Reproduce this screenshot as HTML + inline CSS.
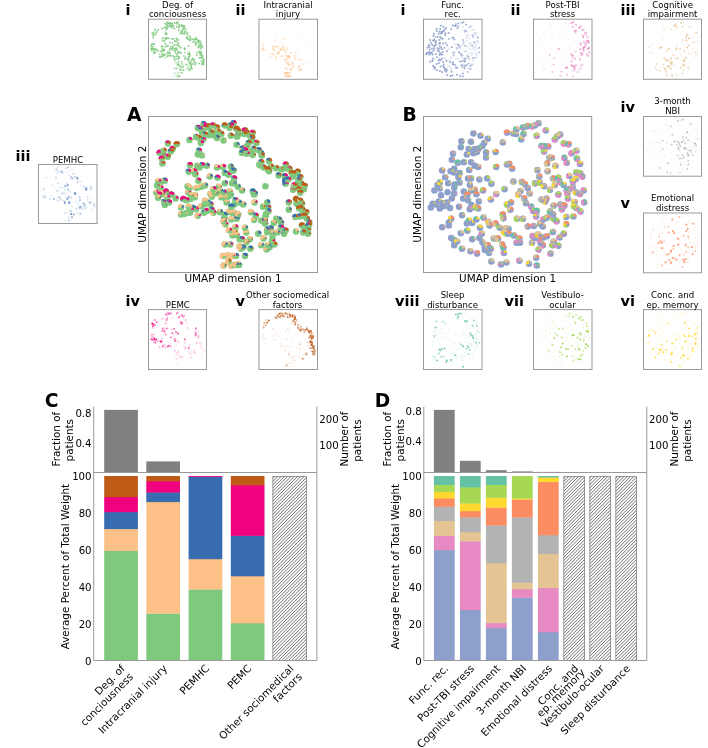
<!DOCTYPE html><html><head><meta charset="utf-8"><title>UMAP weights figure</title>
<style>html,body{margin:0;padding:0;background:#fff}svg{display:block}text{font-family:'DejaVu Sans','Liberation Sans',sans-serif;fill:#000}</style></head><body>
<svg width="708" height="748" viewBox="0 0 708 748">
<rect width="708" height="748" fill="#fff"/>
<rect x="148.5" y="116.5" width="169.0" height="156.0" fill="none" stroke="#999" stroke-width="1"/>
<g>
<circle cx="265.4" cy="216.4" r="3.25" fill="#7fc97f"/><path d="M265.4 216.4L268.66 216.41A3.25 3.25 0 0 0 268.32 214.96Z" fill="#bf5b17"/><path d="M265.4 216.4L268.32 214.96A3.25 3.25 0 0 0 263.64 213.68Z" fill="#f0027f"/><path d="M265.4 216.4L263.64 213.68A3.25 3.25 0 0 0 262.92 214.33Z" fill="#fdc086"/>
<circle cx="224.2" cy="218.8" r="3.25" fill="#7fc97f"/><path d="M224.2 218.8L227.48 218.81A3.25 3.25 0 0 0 227.35 217.90Z" fill="#bf5b17"/><path d="M224.2 218.8L227.35 217.90A3.25 3.25 0 0 0 221.15 217.78Z" fill="#386cb0"/>
<circle cx="197.8" cy="128" r="3.25" fill="#7fc97f"/><path d="M197.8 128L201.07 128.00A3.25 3.25 0 0 0 200.95 127.13Z" fill="#bf5b17"/><path d="M197.8 128L200.95 127.13A3.25 3.25 0 0 0 197.64 124.76Z" fill="#f0027f"/><path d="M197.8 128L197.64 124.76A3.25 3.25 0 0 0 195.60 125.63Z" fill="#386cb0"/><path d="M197.8 128L195.60 125.63A3.25 3.25 0 0 0 195.09 126.24Z" fill="#fdc086"/>
<circle cx="172.6" cy="149" r="3.25" fill="#7fc97f"/><path d="M172.6 149L175.86 149.01A3.25 3.25 0 0 0 173.79 145.98Z" fill="#bf5b17"/><path d="M172.6 149L173.79 145.98A3.25 3.25 0 0 0 169.65 147.67Z" fill="#f0027f"/><path d="M172.6 149L169.65 147.67A3.25 3.25 0 0 0 169.43 148.35Z" fill="#fdc086"/>
<circle cx="197.8" cy="215.8" r="3.25" fill="#7fc97f"/><path d="M197.8 215.8L201.07 215.81A3.25 3.25 0 0 0 200.20 213.60Z" fill="#f0027f"/><path d="M197.8 215.8L200.20 213.60A3.25 3.25 0 1 0 196.12 218.58Z" fill="#fdc086"/>
<circle cx="252.8" cy="155" r="3.25" fill="#7fc97f"/><path d="M252.8 155L256.06 155.02A3.25 3.25 0 0 0 251.91 151.89Z" fill="#bf5b17"/>
<circle cx="203.2" cy="139.4" r="3.25" fill="#7fc97f"/><path d="M203.2 139.4L206.47 139.41A3.25 3.25 0 0 0 206.42 138.85Z" fill="#bf5b17"/><path d="M203.2 139.4L206.42 138.85A3.25 3.25 0 0 0 202.17 136.33Z" fill="#f0027f"/><path d="M203.2 139.4L202.17 136.33A3.25 3.25 0 0 0 200.24 138.12Z" fill="#386cb0"/>
<circle cx="237" cy="136.8" r="3.25" fill="#7fc97f"/><path d="M237 136.8L240.24 136.83A3.25 3.25 0 0 0 238.40 133.90Z" fill="#bf5b17"/><path d="M237 136.8L238.40 133.90A3.25 3.25 0 0 0 234.26 135.07Z" fill="#f0027f"/>
<circle cx="217.1" cy="192.8" r="3.25" fill="#7fc97f"/><path d="M217.1 192.8L220.35 192.75A3.25 3.25 0 0 0 218.74 189.95Z" fill="#386cb0"/><path d="M217.1 192.8L218.74 189.95A3.25 3.25 0 0 0 213.91 192.13Z" fill="#fdc086"/>
<circle cx="220" cy="212.2" r="3.25" fill="#7fc97f"/><path d="M220 212.2L223.28 212.21A3.25 3.25 0 0 0 223.19 211.46Z" fill="#bf5b17"/><path d="M220 212.2L223.19 211.46A3.25 3.25 0 0 0 220.91 209.08Z" fill="#386cb0"/><path d="M220 212.2L220.91 209.08A3.25 3.25 0 0 0 217.08 210.85Z" fill="#fdc086"/>
<circle cx="225.4" cy="198.4" r="3.25" fill="#7fc97f"/><path d="M225.4 198.4L228.68 198.40A3.25 3.25 0 0 0 224.76 195.22Z" fill="#f0027f"/><path d="M225.4 198.4L224.76 195.22A3.25 3.25 0 0 0 222.22 197.93Z" fill="#fdc086"/>
<circle cx="227.8" cy="255.4" r="3.25" fill="#7fc97f"/><path d="M227.8 255.4L231.08 255.42A3.25 3.25 0 0 0 230.90 254.35Z" fill="#bf5b17"/><path d="M227.8 255.4L230.90 254.35A3.25 3.25 0 1 0 229.37 258.29Z" fill="#fdc086"/>
<circle cx="235.4" cy="227.2" r="3.25" fill="#7fc97f"/><path d="M235.4 227.2L238.65 227.21A3.25 3.25 0 0 0 238.56 226.46Z" fill="#bf5b17"/><path d="M235.4 227.2L238.56 226.46A3.25 3.25 0 0 0 235.73 223.98Z" fill="#f0027f"/><path d="M235.4 227.2L235.73 223.98A3.25 3.25 0 0 0 232.17 227.56Z" fill="#fdc086"/>
<circle cx="259.3" cy="164.4" r="3.25" fill="#7fc97f"/><path d="M259.3 164.4L262.51 164.39A3.25 3.25 0 0 0 260.66 161.46Z" fill="#bf5b17"/><path d="M259.3 164.4L260.66 161.46A3.25 3.25 0 0 0 257.75 161.51Z" fill="#386cb0"/><path d="M259.3 164.4L257.75 161.51A3.25 3.25 0 0 0 256.91 162.14Z" fill="#fdc086"/>
<circle cx="276.2" cy="168.2" r="3.25" fill="#7fc97f"/><path d="M276.2 168.2L279.47 168.22A3.25 3.25 0 0 0 276.26 164.97Z" fill="#bf5b17"/>
<circle cx="181" cy="214.6" r="3.25" fill="#7fc97f"/><path d="M181 214.6L184.26 214.61A3.25 3.25 0 0 0 184.22 214.10Z" fill="#bf5b17"/><path d="M181 214.6L184.22 214.10A3.25 3.25 0 0 0 181.32 211.37Z" fill="#f0027f"/><path d="M181 214.6L181.32 211.37A3.25 3.25 0 0 0 177.77 214.73Z" fill="#fdc086"/>
<circle cx="195.4" cy="174.2" r="3.25" fill="#7fc97f"/><path d="M195.4 174.2L198.67 174.22A3.25 3.25 0 0 0 198.56 173.40Z" fill="#bf5b17"/><path d="M195.4 174.2L198.56 173.40A3.25 3.25 0 0 0 194.91 171.01Z" fill="#f0027f"/><path d="M195.4 174.2L194.91 171.01A3.25 3.25 0 0 0 192.33 173.21Z" fill="#fdc086"/>
<circle cx="252.2" cy="151.4" r="3.25" fill="#7fc97f"/><path d="M252.2 151.4L255.46 151.41A3.25 3.25 0 0 0 253.08 148.28Z" fill="#bf5b17"/><path d="M252.2 151.4L253.08 148.28A3.25 3.25 0 0 0 252.45 148.17Z" fill="#f0027f"/><path d="M252.2 151.4L252.45 148.17A3.25 3.25 0 0 0 249.51 149.60Z" fill="#386cb0"/><path d="M252.2 151.4L249.51 149.60A3.25 3.25 0 0 0 249.13 150.38Z" fill="#fdc086"/>
<circle cx="196" cy="137" r="3.25" fill="#7fc97f"/><path d="M196 137L199.27 137.01A3.25 3.25 0 0 0 197.10 133.94Z" fill="#bf5b17"/><path d="M196 137L197.10 133.94A3.25 3.25 0 0 0 195.77 133.77Z" fill="#f0027f"/>
<circle cx="194.8" cy="195.2" r="3.25" fill="#7fc97f"/><path d="M194.8 195.2L198.07 195.23A3.25 3.25 0 0 0 197.77 193.87Z" fill="#bf5b17"/><path d="M194.8 195.2L197.77 193.87A3.25 3.25 0 0 0 197.52 193.42Z" fill="#f0027f"/><path d="M194.8 195.2L197.52 193.42A3.25 3.25 0 0 0 192.76 192.72Z" fill="#fdc086"/>
<circle cx="214.6" cy="135.8" r="3.25" fill="#7fc97f"/><path d="M214.6 135.8L217.88 135.81A3.25 3.25 0 0 0 214.07 132.61Z" fill="#386cb0"/>
<circle cx="221.2" cy="197.2" r="3.25" fill="#7fc97f"/><path d="M221.2 197.2L224.48 197.20A3.25 3.25 0 1 0 218.32 198.64Z" fill="#fdc086"/>
<circle cx="198.4" cy="180.8" r="3.25" fill="#7fc97f"/><path d="M198.4 180.8L201.67 180.83A3.25 3.25 0 0 0 201.47 179.70Z" fill="#bf5b17"/><path d="M198.4 180.8L201.47 179.70A3.25 3.25 0 0 0 197.22 177.81Z" fill="#f0027f"/><path d="M198.4 180.8L197.22 177.81A3.25 3.25 0 0 0 196.46 178.23Z" fill="#386cb0"/><path d="M198.4 180.8L196.46 178.23A3.25 3.25 0 0 0 196.01 178.64Z" fill="#fdc086"/>
<circle cx="289.4" cy="168.8" r="3.25" fill="#7fc97f"/><path d="M289.4 168.8L292.67 168.82A3.25 3.25 0 0 0 290.57 165.78Z" fill="#bf5b17"/><path d="M289.4 168.8L290.57 165.78A3.25 3.25 0 0 0 289.23 165.58Z" fill="#f0027f"/>
<circle cx="239.6" cy="239.2" r="3.25" fill="#7fc97f"/><path d="M239.6 239.2L242.85 239.22A3.25 3.25 0 0 0 240.96 236.27Z" fill="#386cb0"/>
<circle cx="231.4" cy="265.6" r="3.25" fill="#7fc97f"/><path d="M231.4 265.6L234.68 265.63A3.25 3.25 0 1 0 231.77 268.86Z" fill="#fdc086"/>
<circle cx="242" cy="190.4" r="3.25" fill="#7fc97f"/><path d="M242 190.4L245.25 190.43A3.25 3.25 0 0 0 245.09 189.41Z" fill="#bf5b17"/><path d="M242 190.4L245.09 189.41A3.25 3.25 0 0 0 244.27 188.10Z" fill="#386cb0"/><path d="M242 190.4L244.27 188.10A3.25 3.25 0 0 0 239.03 189.11Z" fill="#fdc086"/>
<circle cx="296.6" cy="203.8" r="3.25" fill="#7fc97f"/><path d="M296.6 203.8L299.88 203.80A3.25 3.25 0 0 0 299.51 202.30Z" fill="#f0027f"/><path d="M296.6 203.8L299.51 202.30A3.25 3.25 0 0 0 298.81 201.40Z" fill="#386cb0"/>
<circle cx="233.6" cy="170.6" r="3.25" fill="#7fc97f"/><path d="M233.6 170.6L236.85 170.62A3.25 3.25 0 0 0 236.61 169.40Z" fill="#bf5b17"/><path d="M233.6 170.6L236.61 169.40A3.25 3.25 0 0 0 232.01 167.78Z" fill="#386cb0"/>
<circle cx="288.8" cy="202.6" r="3.25" fill="#7fc97f"/><path d="M288.8 202.6L292.07 202.60A3.25 3.25 0 0 0 290.50 199.82Z" fill="#bf5b17"/><path d="M288.8 202.6L290.50 199.82A3.25 3.25 0 0 0 287.08 199.86Z" fill="#f0027f"/><path d="M288.8 202.6L287.08 199.86A3.25 3.25 0 0 0 285.60 202.19Z" fill="#386cb0"/><path d="M288.8 202.6L285.60 202.19A3.25 3.25 0 0 0 285.58 202.75Z" fill="#fdc086"/>
<circle cx="254" cy="194.6" r="3.25" fill="#7fc97f"/><path d="M254 194.6L257.26 194.63A3.25 3.25 0 0 0 251.92 192.14Z" fill="#f0027f"/><path d="M254 194.6L251.92 192.14A3.25 3.25 0 0 0 250.77 194.95Z" fill="#386cb0"/>
<circle cx="196" cy="209.2" r="3.25" fill="#7fc97f"/><path d="M196 209.2L199.27 209.21A3.25 3.25 0 0 0 196.85 206.06Z" fill="#f0027f"/><path d="M196 209.2L196.85 206.06A3.25 3.25 0 0 0 193.26 207.49Z" fill="#fdc086"/>
<circle cx="225.4" cy="224.2" r="3.25" fill="#7fc97f"/><path d="M225.4 224.2L228.68 224.21A3.25 3.25 0 0 0 228.61 223.53Z" fill="#bf5b17"/><path d="M225.4 224.2L228.61 223.53A3.25 3.25 0 0 0 226.65 221.20Z" fill="#f0027f"/><path d="M225.4 224.2L226.65 221.20A3.25 3.25 0 0 0 223.27 226.64Z" fill="#fdc086"/>
<circle cx="181" cy="207.4" r="3.25" fill="#7fc97f"/><path d="M181 207.4L184.26 207.41A3.25 3.25 0 0 0 182.70 204.63Z" fill="#386cb0"/><path d="M181 207.4L182.70 204.63A3.25 3.25 0 0 0 177.83 208.06Z" fill="#fdc086"/>
<circle cx="203.8" cy="212.8" r="3.25" fill="#7fc97f"/><path d="M203.8 212.8L207.07 212.81A3.25 3.25 0 0 0 203.91 209.56Z" fill="#f0027f"/><path d="M203.8 212.8L203.91 209.56A3.25 3.25 0 0 0 201.55 210.49Z" fill="#386cb0"/>
<circle cx="296" cy="199" r="3.25" fill="#7fc97f"/><path d="M296 199L299.28 199.00A3.25 3.25 0 1 0 293.13 200.48Z" fill="#bf5b17"/>
<circle cx="278.6" cy="175.4" r="3.25" fill="#7fc97f"/><path d="M278.6 175.4L281.87 175.42A3.25 3.25 0 0 0 279.77 172.38Z" fill="#bf5b17"/><path d="M278.6 175.4L279.77 172.38A3.25 3.25 0 0 0 275.83 173.76Z" fill="#386cb0"/>
<circle cx="281.6" cy="169.4" r="3.25" fill="#7fc97f"/><path d="M281.6 169.4L284.87 169.42A3.25 3.25 0 0 0 281.64 166.17Z" fill="#bf5b17"/>
<circle cx="223.6" cy="265.6" r="3.25" fill="#7fc97f"/><path d="M223.6 265.6L226.88 265.63A3.25 3.25 0 0 0 226.63 264.37Z" fill="#bf5b17"/><path d="M223.6 265.6L226.63 264.37A3.25 3.25 0 0 0 226.18 263.62Z" fill="#386cb0"/><path d="M223.6 265.6L226.18 263.62A3.25 3.25 0 1 0 224.98 268.58Z" fill="#fdc086"/>
<circle cx="223.6" cy="221.2" r="3.25" fill="#7fc97f"/><path d="M223.6 221.2L226.88 221.21A3.25 3.25 0 0 0 226.66 220.03Z" fill="#bf5b17"/><path d="M223.6 221.2L226.66 220.03A3.25 3.25 0 0 0 226.23 219.27Z" fill="#f0027f"/><path d="M223.6 221.2L226.23 219.27A3.25 3.25 0 1 0 221.23 223.41Z" fill="#fdc086"/>
<circle cx="238.4" cy="134.6" r="3.25" fill="#7fc97f"/><path d="M238.4 134.6L241.65 134.61A3.25 3.25 0 0 0 239.00 131.41Z" fill="#bf5b17"/><path d="M238.4 134.6L239.00 131.41A3.25 3.25 0 0 0 235.48 133.18Z" fill="#f0027f"/><path d="M238.4 134.6L235.48 133.18A3.25 3.25 0 0 0 235.31 133.61Z" fill="#386cb0"/>
<circle cx="293" cy="176.6" r="3.25" fill="#7fc97f"/><path d="M293 176.6L296.27 176.62A3.25 3.25 0 0 0 291.92 173.57Z" fill="#bf5b17"/><path d="M293 176.6L291.92 173.57A3.25 3.25 0 0 0 290.92 174.14Z" fill="#f0027f"/>
<circle cx="234.8" cy="232.6" r="3.25" fill="#7fc97f"/><path d="M234.8 232.6L238.05 232.62A3.25 3.25 0 0 0 236.80 230.06Z" fill="#bf5b17"/><path d="M234.8 232.6L236.80 230.06A3.25 3.25 0 0 0 231.62 233.28Z" fill="#fdc086"/>
<circle cx="226.6" cy="202.6" r="3.25" fill="#7fc97f"/><path d="M226.6 202.6L229.88 202.60A3.25 3.25 0 0 0 229.63 201.35Z" fill="#386cb0"/><path d="M226.6 202.6L229.63 201.35A3.25 3.25 0 0 0 224.01 200.69Z" fill="#fdc086"/>
<circle cx="258.2" cy="233.8" r="3.25" fill="#7fc97f"/><path d="M258.2 233.8L261.46 233.82A3.25 3.25 0 0 0 258.10 230.57Z" fill="#386cb0"/><path d="M258.2 233.8L258.10 230.57A3.25 3.25 0 0 0 257.39 230.67Z" fill="#fdc086"/>
<circle cx="223.6" cy="140.6" r="3.25" fill="#7fc97f"/><path d="M223.6 140.6L226.88 140.61A3.25 3.25 0 0 0 226.38 138.89Z" fill="#fdc086"/>
<circle cx="252.2" cy="141" r="3.25" fill="#7fc97f"/><path d="M252.2 141L255.41 140.98A3.25 3.25 0 1 0 249.01 141.79Z" fill="#bf5b17"/><path d="M252.2 141L249.01 141.79A3.25 3.25 0 0 0 249.16 142.22Z" fill="#386cb0"/>
<circle cx="288.8" cy="209.8" r="3.25" fill="#7fc97f"/><path d="M288.8 209.8L292.07 209.81A3.25 3.25 0 0 0 291.92 208.81Z" fill="#bf5b17"/><path d="M288.8 209.8L291.92 208.81A3.25 3.25 0 0 0 289.69 206.68Z" fill="#386cb0"/><path d="M288.8 209.8L289.69 206.68A3.25 3.25 0 0 0 288.42 206.58Z" fill="#fdc086"/>
<circle cx="242.6" cy="148.4" r="3.25" fill="#7fc97f"/><path d="M242.6 148.4L245.85 148.41A3.25 3.25 0 0 0 242.65 145.16Z" fill="#f0027f"/><path d="M242.6 148.4L242.65 145.16A3.25 3.25 0 0 0 239.43 147.70Z" fill="#386cb0"/><path d="M242.6 148.4L239.43 147.70A3.25 3.25 0 0 0 239.35 148.43Z" fill="#fdc086"/>
<circle cx="246.2" cy="232.6" r="3.25" fill="#7fc97f"/><path d="M246.2 232.6L249.46 232.62A3.25 3.25 0 1 0 243.13 233.66Z" fill="#fdc086"/>
<circle cx="297.2" cy="184.4" r="3.25" fill="#7fc97f"/><path d="M297.2 184.4L300.48 184.43A3.25 3.25 0 0 0 295.74 181.54Z" fill="#bf5b17"/><path d="M297.2 184.4L295.74 181.54A3.25 3.25 0 0 0 294.97 182.09Z" fill="#386cb0"/>
<circle cx="224.8" cy="125.6" r="3.25" fill="#7fc97f"/><path d="M224.8 125.6L228.08 125.60A3.25 3.25 0 0 0 221.72 124.67Z" fill="#bf5b17"/><path d="M224.8 125.6L221.72 124.67A3.25 3.25 0 0 0 221.61 126.02Z" fill="#386cb0"/>
<circle cx="197.8" cy="154.4" r="3.25" fill="#7fc97f"/><path d="M197.8 154.4L201.07 154.42A3.25 3.25 0 0 0 200.93 153.46Z" fill="#f0027f"/><path d="M197.8 154.4L200.93 153.46A3.25 3.25 0 0 0 200.71 152.92Z" fill="#386cb0"/><path d="M197.8 154.4L200.71 152.92A3.25 3.25 0 0 0 200.15 152.15Z" fill="#fdc086"/>
<circle cx="281" cy="223" r="3.25" fill="#7fc97f"/><path d="M281 223L284.27 223.01A3.25 3.25 0 0 0 284.17 222.20Z" fill="#f0027f"/><path d="M281 223L284.17 222.20A3.25 3.25 0 0 0 279.23 220.30Z" fill="#386cb0"/>
<circle cx="268.1" cy="207.4" r="3.25" fill="#7fc97f"/><path d="M268.1 207.4L271.39 207.40A3.25 3.25 0 0 0 270.77 205.49Z" fill="#bf5b17"/><path d="M268.1 207.4L270.77 205.49A3.25 3.25 0 0 0 269.18 204.32Z" fill="#f0027f"/><path d="M268.1 207.4L269.18 204.32A3.25 3.25 0 0 0 265.52 205.47Z" fill="#386cb0"/>
<circle cx="236.6" cy="129" r="3.25" fill="#7fc97f"/><path d="M236.6 129L239.89 129.02A3.25 3.25 0 1 0 233.41 129.39Z" fill="#bf5b17"/>
<circle cx="217.6" cy="177.8" r="3.25" fill="#7fc97f"/><path d="M217.6 177.8L220.88 177.82A3.25 3.25 0 0 0 215.81 175.13Z" fill="#f0027f"/><path d="M217.6 177.8L215.81 175.13A3.25 3.25 0 0 0 214.38 177.72Z" fill="#386cb0"/>
<circle cx="250.4" cy="248.8" r="3.25" fill="#7fc97f"/><path d="M250.4 248.8L253.66 248.82A3.25 3.25 0 0 0 253.20 247.16Z" fill="#bf5b17"/><path d="M250.4 248.8L253.20 247.16A3.25 3.25 0 0 0 248.28 246.37Z" fill="#386cb0"/>
<circle cx="230.2" cy="244.6" r="3.25" fill="#7fc97f"/><path d="M230.2 244.6L233.48 244.62A3.25 3.25 0 0 0 232.40 242.20Z" fill="#f0027f"/><path d="M230.2 244.6L232.40 242.20A3.25 3.25 0 0 0 230.50 241.38Z" fill="#386cb0"/><path d="M230.2 244.6L230.50 241.38A3.25 3.25 0 0 0 226.98 244.66Z" fill="#fdc086"/>
<circle cx="261.2" cy="245.2" r="3.25" fill="#7fc97f"/><path d="M261.2 245.2L264.46 245.22A3.25 3.25 0 0 0 263.19 242.64Z" fill="#386cb0"/><path d="M261.2 245.2L263.19 242.64A3.25 3.25 0 0 0 258.10 246.16Z" fill="#fdc086"/>
<circle cx="234.2" cy="212.8" r="3.25" fill="#7fc97f"/><path d="M234.2 212.8L237.45 212.81A3.25 3.25 0 0 0 237.41 212.28Z" fill="#f0027f"/><path d="M234.2 212.8L237.41 212.28A3.25 3.25 0 0 0 237.12 211.37Z" fill="#386cb0"/><path d="M234.2 212.8L237.12 211.37A3.25 3.25 0 1 0 233.12 215.87Z" fill="#fdc086"/>
<circle cx="237.8" cy="186.8" r="3.25" fill="#7fc97f"/><path d="M237.8 186.8L241.05 186.83A3.25 3.25 0 0 0 239.44 184.02Z" fill="#386cb0"/><path d="M237.8 186.8L239.44 184.02A3.25 3.25 0 0 0 238.98 183.80Z" fill="#fdc086"/>
<circle cx="208.8" cy="127.7" r="3.25" fill="#7fc97f"/><path d="M208.8 127.7L212.01 127.69A3.25 3.25 0 0 0 209.97 124.67Z" fill="#bf5b17"/><path d="M208.8 127.7L209.97 124.67A3.25 3.25 0 0 0 206.21 125.68Z" fill="#f0027f"/>
<circle cx="267.2" cy="232.2" r="3.25" fill="#7fc97f"/><path d="M267.2 232.2L270.46 232.15A3.25 3.25 0 0 0 270.15 230.78Z" fill="#f0027f"/><path d="M267.2 232.2L270.15 230.78A3.25 3.25 0 0 0 265.78 229.23Z" fill="#386cb0"/>
<circle cx="245" cy="256" r="3.25" fill="#7fc97f"/><path d="M245 256L248.25 256.03A3.25 3.25 0 0 0 248.18 255.35Z" fill="#bf5b17"/><path d="M245 256L248.18 255.35A3.25 3.25 0 0 0 242.38 254.11Z" fill="#386cb0"/><path d="M245 256L242.38 254.11A3.25 3.25 0 0 0 241.95 254.92Z" fill="#fdc086"/>
<circle cx="302" cy="215.2" r="3.25" fill="#7fc97f"/><path d="M302 215.2L305.28 215.21A3.25 3.25 0 0 0 304.95 213.79Z" fill="#f0027f"/>
<circle cx="270.8" cy="228.4" r="3.25" fill="#7fc97f"/><path d="M270.8 228.4L274.07 228.41A3.25 3.25 0 0 0 273.95 227.55Z" fill="#f0027f"/><path d="M270.8 228.4L273.95 227.55A3.25 3.25 0 0 0 268.75 225.91Z" fill="#386cb0"/><path d="M270.8 228.4L268.75 225.91A3.25 3.25 0 0 0 268.21 226.48Z" fill="#fdc086"/>
<circle cx="246.8" cy="153.8" r="3.25" fill="#7fc97f"/><path d="M246.8 153.8L250.06 153.82A3.25 3.25 0 0 0 247.80 150.72Z" fill="#f0027f"/><path d="M246.8 153.8L247.80 150.72A3.25 3.25 0 0 0 244.11 152.00Z" fill="#386cb0"/>
<circle cx="243.2" cy="247.6" r="3.25" fill="#7fc97f"/><path d="M243.2 247.6L246.45 247.62A3.25 3.25 0 1 0 239.97 247.94Z" fill="#386cb0"/><path d="M243.2 247.6L239.97 247.94A3.25 3.25 0 0 0 240.21 248.90Z" fill="#fdc086"/>
<circle cx="269" cy="171.2" r="3.25" fill="#7fc97f"/><path d="M269 171.2L272.26 171.22A3.25 3.25 0 0 0 268.82 167.98Z" fill="#bf5b17"/><path d="M269 171.2L268.82 167.98A3.25 3.25 0 0 0 267.62 168.29Z" fill="#386cb0"/><path d="M269 171.2L267.62 168.29A3.25 3.25 0 0 0 267.25 168.49Z" fill="#fdc086"/>
<circle cx="276.2" cy="218.8" r="3.25" fill="#7fc97f"/><path d="M276.2 218.8L279.47 218.81A3.25 3.25 0 0 0 277.21 215.71Z" fill="#386cb0"/><path d="M276.2 218.8L277.21 215.71A3.25 3.25 0 0 0 275.96 215.57Z" fill="#fdc086"/>
<circle cx="209.2" cy="135.2" r="3.25" fill="#7fc97f"/><path d="M209.2 135.2L212.47 135.21A3.25 3.25 0 0 0 209.36 131.96Z" fill="#bf5b17"/>
<circle cx="267.2" cy="229.6" r="3.25" fill="#7fc97f"/><path d="M267.2 229.6L270.46 229.61A3.25 3.25 0 0 0 270.10 228.12Z" fill="#f0027f"/><path d="M267.2 229.6L270.10 228.12A3.25 3.25 0 0 0 265.11 227.13Z" fill="#386cb0"/><path d="M267.2 229.6L265.11 227.13A3.25 3.25 0 0 0 264.14 228.56Z" fill="#fdc086"/>
<circle cx="160.6" cy="188" r="3.25" fill="#7fc97f"/><path d="M160.6 188L163.86 188.03A3.25 3.25 0 0 0 163.80 187.43Z" fill="#bf5b17"/><path d="M160.6 188L163.80 187.43A3.25 3.25 0 0 0 161.50 184.90Z" fill="#f0027f"/><path d="M160.6 188L161.50 184.90A3.25 3.25 0 0 0 157.65 186.67Z" fill="#fdc086"/>
<circle cx="237.5" cy="216.2" r="3.25" fill="#7fc97f"/><path d="M237.5 216.2L240.72 216.24A3.25 3.25 0 0 0 234.41 215.13Z" fill="#386cb0"/>
<circle cx="190.6" cy="199" r="3.25" fill="#7fc97f"/><path d="M190.6 199L193.87 199.00A3.25 3.25 0 0 0 193.56 197.62Z" fill="#386cb0"/><path d="M190.6 199L193.56 197.62A3.25 3.25 0 0 0 190.00 195.81Z" fill="#fdc086"/>
<circle cx="217" cy="127.4" r="3.25" fill="#7fc97f"/><path d="M217 127.4L220.28 127.40A3.25 3.25 0 0 0 216.36 124.22Z" fill="#bf5b17"/><path d="M217 127.4L216.36 124.22A3.25 3.25 0 0 0 215.23 124.69Z" fill="#f0027f"/>
<circle cx="296" cy="231.4" r="3.25" fill="#7fc97f"/><path d="M296 231.4L299.28 231.42A3.25 3.25 0 0 0 299.21 230.78Z" fill="#386cb0"/><path d="M296 231.4L299.21 230.78A3.25 3.25 0 0 0 295.04 228.32Z" fill="#fdc086"/>
<circle cx="243.2" cy="204.4" r="3.25" fill="#7fc97f"/><path d="M243.2 204.4L246.45 204.40A3.25 3.25 0 0 0 245.40 202.01Z" fill="#386cb0"/><path d="M243.2 204.4L245.40 202.01A3.25 3.25 0 0 0 241.15 201.88Z" fill="#fdc086"/>
<circle cx="269.6" cy="247.2" r="3.25" fill="#7fc97f"/><path d="M269.6 247.2L272.90 247.17A3.25 3.25 0 0 0 270.45 244.02Z" fill="#386cb0"/><path d="M269.6 247.2L270.45 244.02A3.25 3.25 0 0 0 266.65 248.43Z" fill="#fdc086"/>
<circle cx="224.8" cy="192.8" r="3.25" fill="#7fc97f"/><path d="M224.8 192.8L228.08 192.83A3.25 3.25 0 0 0 224.86 189.58Z" fill="#f0027f"/><path d="M224.8 192.8L224.86 189.58A3.25 3.25 0 0 0 221.88 191.47Z" fill="#386cb0"/>
<circle cx="210.4" cy="194" r="3.25" fill="#7fc97f"/><path d="M210.4 194L213.67 194.03A3.25 3.25 0 1 0 207.26 194.79Z" fill="#fdc086"/>
<circle cx="218.8" cy="186.8" r="3.25" fill="#7fc97f"/><path d="M218.8 186.8L222.08 186.83A3.25 3.25 0 0 0 221.98 186.04Z" fill="#f0027f"/><path d="M218.8 186.8L221.98 186.04A3.25 3.25 0 0 0 216.51 184.55Z" fill="#fdc086"/>
<circle cx="230.8" cy="166.7" r="3.25" fill="#7fc97f"/><path d="M230.8 166.7L234.05 166.69A3.25 3.25 0 0 0 233.70 165.22Z" fill="#bf5b17"/><path d="M230.8 166.7L233.70 165.22A3.25 3.25 0 0 0 230.47 163.46Z" fill="#386cb0"/><path d="M230.8 166.7L230.47 163.46A3.25 3.25 0 0 0 229.52 163.71Z" fill="#fdc086"/>
<circle cx="164.2" cy="202" r="3.25" fill="#7fc97f"/><path d="M164.2 202L167.46 202.00A3.25 3.25 0 0 0 164.88 198.82Z" fill="#f0027f"/><path d="M164.2 202L164.88 198.82A3.25 3.25 0 0 0 161.41 200.36Z" fill="#386cb0"/><path d="M164.2 202L161.41 200.36A3.25 3.25 0 0 0 161.16 200.87Z" fill="#fdc086"/>
<circle cx="193" cy="208" r="3.25" fill="#7fc97f"/><path d="M193 208L196.27 208.01A3.25 3.25 0 0 0 192.49 204.80Z" fill="#386cb0"/>
<circle cx="286.1" cy="168.4" r="3.25" fill="#7fc97f"/><path d="M286.1 168.4L289.30 168.45A3.25 3.25 0 0 0 283.83 166.08Z" fill="#bf5b17"/>
<circle cx="162.4" cy="163.4" r="3.25" fill="#7fc97f"/><path d="M162.4 163.4L165.66 163.42A3.25 3.25 0 0 0 163.36 160.31Z" fill="#bf5b17"/><path d="M162.4 163.4L163.36 160.31A3.25 3.25 0 0 0 159.94 161.31Z" fill="#f0027f"/><path d="M162.4 163.4L159.94 161.31A3.25 3.25 0 0 0 159.52 161.92Z" fill="#fdc086"/>
<circle cx="263" cy="206.8" r="3.25" fill="#7fc97f"/><path d="M263 206.8L266.26 206.81A3.25 3.25 0 0 0 265.35 204.54Z" fill="#bf5b17"/><path d="M263 206.8L265.35 204.54A3.25 3.25 0 0 0 263.22 203.56Z" fill="#fdc086"/>
<circle cx="233.6" cy="183.2" r="3.25" fill="#7fc97f"/><path d="M233.6 183.2L236.85 183.23A3.25 3.25 0 0 0 234.33 180.06Z" fill="#386cb0"/>
<circle cx="245" cy="227.8" r="3.25" fill="#7fc97f"/><path d="M245 227.8L248.25 227.81A3.25 3.25 0 0 0 246.52 224.94Z" fill="#386cb0"/><path d="M245 227.8L246.52 224.94A3.25 3.25 0 0 0 241.82 228.45Z" fill="#fdc086"/>
<circle cx="211.8" cy="196.8" r="3.25" fill="#7fc97f"/><path d="M211.8 196.8L215.05 196.79A3.25 3.25 0 1 0 208.70 197.75Z" fill="#fdc086"/>
<circle cx="236.6" cy="218.8" r="3.25" fill="#7fc97f"/><path d="M236.6 218.8L239.85 218.81A3.25 3.25 0 0 0 233.53 217.74Z" fill="#386cb0"/>
<circle cx="224.8" cy="183.2" r="3.25" fill="#7fc97f"/><path d="M224.8 183.2L228.08 183.23A3.25 3.25 0 0 0 227.70 181.71Z" fill="#f0027f"/><path d="M224.8 183.2L227.70 181.71A3.25 3.25 0 0 0 225.26 180.01Z" fill="#386cb0"/><path d="M224.8 183.2L225.26 180.01A3.25 3.25 0 0 0 224.51 179.99Z" fill="#fdc086"/>
<circle cx="229.1" cy="211.7" r="3.25" fill="#7fc97f"/><path d="M229.1 211.7L232.38 211.65A3.25 3.25 0 0 0 232.23 210.68Z" fill="#bf5b17"/><path d="M229.1 211.7L232.23 210.68A3.25 3.25 0 0 0 231.89 209.92Z" fill="#f0027f"/><path d="M229.1 211.7L231.89 209.92A3.25 3.25 0 1 0 227.74 214.59Z" fill="#fdc086"/>
<circle cx="232.6" cy="235.6" r="3.25" fill="#7fc97f"/><path d="M232.6 235.6L235.88 235.62A3.25 3.25 0 0 0 235.81 234.91Z" fill="#bf5b17"/><path d="M232.6 235.6L235.81 234.91A3.25 3.25 0 0 0 235.42 233.95Z" fill="#f0027f"/><path d="M232.6 235.6L235.42 233.95A3.25 3.25 0 0 0 229.51 234.71Z" fill="#fdc086"/>
<circle cx="249.8" cy="239.2" r="3.25" fill="#7fc97f"/><path d="M249.8 239.2L253.06 239.22A3.25 3.25 0 0 0 253.00 238.62Z" fill="#bf5b17"/><path d="M249.8 239.2L253.00 238.62A3.25 3.25 0 0 0 252.79 237.93Z" fill="#f0027f"/><path d="M249.8 239.2L252.79 237.93A3.25 3.25 0 0 0 247.56 236.87Z" fill="#fdc086"/>
<circle cx="234.2" cy="204.4" r="3.25" fill="#7fc97f"/><path d="M234.2 204.4L237.45 204.40A3.25 3.25 0 0 0 234.74 201.20Z" fill="#386cb0"/>
<circle cx="284" cy="233.8" r="3.25" fill="#7fc97f"/><path d="M284 233.8L287.27 233.82A3.25 3.25 0 0 0 284.47 230.60Z" fill="#bf5b17"/><path d="M284 233.8L284.47 230.60A3.25 3.25 0 0 0 281.23 232.16Z" fill="#386cb0"/>
<circle cx="166" cy="194.2" r="3.25" fill="#7fc97f"/><path d="M166 194.2L169.26 194.20A3.25 3.25 0 0 0 164.80 191.18Z" fill="#f0027f"/>
<circle cx="206.8" cy="165.8" r="3.25" fill="#7fc97f"/><path d="M206.8 165.8L210.07 165.82A3.25 3.25 0 0 0 209.84 164.62Z" fill="#f0027f"/><path d="M206.8 165.8L209.84 164.62A3.25 3.25 0 0 0 207.40 162.62Z" fill="#386cb0"/>
<circle cx="306.2" cy="212.2" r="3.25" fill="#7fc97f"/><path d="M306.2 212.2L309.48 212.21A3.25 3.25 0 0 0 302.98 212.14Z" fill="#bf5b17"/>
<circle cx="236" cy="256" r="3.25" fill="#7fc97f"/><path d="M236 256L239.25 256.03A3.25 3.25 0 0 0 239.18 255.36Z" fill="#bf5b17"/><path d="M236 256L239.18 255.36A3.25 3.25 0 0 0 239.02 254.83Z" fill="#f0027f"/><path d="M236 256L239.02 254.83A3.25 3.25 0 0 0 235.93 252.78Z" fill="#386cb0"/><path d="M236 256L235.93 252.78A3.25 3.25 0 0 0 234.44 258.87Z" fill="#fdc086"/>
<circle cx="201.3" cy="186.8" r="3.25" fill="#7fc97f"/><path d="M201.3 186.8L204.59 186.84A3.25 3.25 0 0 0 203.29 184.24Z" fill="#386cb0"/><path d="M201.3 186.8L203.29 184.24A3.25 3.25 0 0 0 198.14 186.31Z" fill="#fdc086"/>
<circle cx="303.8" cy="189.2" r="3.25" fill="#7fc97f"/><path d="M303.8 189.2L307.08 189.23A3.25 3.25 0 0 0 300.88 187.86Z" fill="#bf5b17"/><path d="M303.8 189.2L300.88 187.86A3.25 3.25 0 0 0 300.72 188.27Z" fill="#386cb0"/>
<circle cx="298.4" cy="188.6" r="3.25" fill="#7fc97f"/><path d="M298.4 188.6L301.68 188.63A3.25 3.25 0 1 0 295.39 189.80Z" fill="#bf5b17"/><path d="M298.4 188.6L295.39 189.80A3.25 3.25 0 0 0 295.58 190.21Z" fill="#fdc086"/>
<circle cx="196.6" cy="188" r="3.25" fill="#7fc97f"/><path d="M196.6 188L199.87 188.03A3.25 3.25 0 1 0 194.10 190.08Z" fill="#fdc086"/>
<circle cx="235.4" cy="200.2" r="3.25" fill="#7fc97f"/><path d="M235.4 200.2L238.65 200.20A3.25 3.25 0 0 0 236.68 197.22Z" fill="#f0027f"/><path d="M235.4 200.2L236.68 197.22A3.25 3.25 0 0 0 232.72 198.37Z" fill="#386cb0"/>
<circle cx="254.6" cy="202.6" r="3.25" fill="#7fc97f"/><path d="M254.6 202.6L257.86 202.60A3.25 3.25 0 0 0 256.56 200.00Z" fill="#f0027f"/><path d="M254.6 202.6L256.56 200.00A3.25 3.25 0 0 0 256.04 199.69Z" fill="#386cb0"/><path d="M254.6 202.6L256.04 199.69A3.25 3.25 0 0 0 252.01 204.55Z" fill="#fdc086"/>
<circle cx="208" cy="126.2" r="3.25" fill="#7fc97f"/><path d="M208 126.2L211.27 126.20A3.25 3.25 0 0 0 207.69 122.97Z" fill="#bf5b17"/><path d="M208 126.2L207.69 122.97A3.25 3.25 0 0 0 204.86 126.96Z" fill="#f0027f"/><path d="M208 126.2L204.86 126.96A3.25 3.25 0 0 0 205.25 127.89Z" fill="#fdc086"/>
<circle cx="167.8" cy="156.8" r="3.25" fill="#7fc97f"/><path d="M167.8 156.8L171.06 156.82A3.25 3.25 0 0 0 168.67 153.68Z" fill="#bf5b17"/><path d="M167.8 156.8L168.67 153.68A3.25 3.25 0 0 0 164.75 155.70Z" fill="#f0027f"/>
<circle cx="241.9" cy="152.9" r="3.25" fill="#7fc97f"/><path d="M241.9 152.9L245.19 152.95A3.25 3.25 0 0 0 245.11 152.24Z" fill="#bf5b17"/><path d="M241.9 152.9L245.11 152.24A3.25 3.25 0 0 0 242.24 149.71Z" fill="#f0027f"/><path d="M241.9 152.9L242.24 149.71A3.25 3.25 0 0 0 239.03 151.49Z" fill="#386cb0"/>
<circle cx="190" cy="212.8" r="3.25" fill="#7fc97f"/><path d="M190 212.8L193.27 212.81A3.25 3.25 0 0 0 189.94 209.56Z" fill="#f0027f"/><path d="M190 212.8L189.94 209.56A3.25 3.25 0 0 0 189.32 209.63Z" fill="#fdc086"/>
<circle cx="217.7" cy="132" r="3.25" fill="#7fc97f"/><path d="M217.7 132L220.91 132.00A3.25 3.25 0 0 0 217.54 128.75Z" fill="#bf5b17"/><path d="M217.7 132L217.54 128.75A3.25 3.25 0 0 0 216.97 128.82Z" fill="#386cb0"/>
<circle cx="232" cy="183.2" r="3.25" fill="#7fc97f"/><path d="M232 183.2L235.28 183.23A3.25 3.25 0 0 0 234.89 181.67Z" fill="#386cb0"/><path d="M232 183.2L234.89 181.67A3.25 3.25 0 0 0 234.25 180.85Z" fill="#fdc086"/>
<circle cx="272.6" cy="233.4" r="3.25" fill="#7fc97f"/><path d="M272.6 233.4L275.89 233.38A3.25 3.25 0 0 0 275.77 232.49Z" fill="#f0027f"/><path d="M272.6 233.4L275.77 232.49A3.25 3.25 0 0 0 274.07 230.46Z" fill="#386cb0"/><path d="M272.6 233.4L274.07 230.46A3.25 3.25 0 0 0 269.94 231.58Z" fill="#fdc086"/>
<circle cx="246.2" cy="242.2" r="3.25" fill="#7fc97f"/><path d="M246.2 242.2L249.46 242.22A3.25 3.25 0 0 0 249.34 241.37Z" fill="#bf5b17"/><path d="M246.2 242.2L249.34 241.37A3.25 3.25 0 0 0 248.96 240.49Z" fill="#f0027f"/><path d="M246.2 242.2L248.96 240.49A3.25 3.25 0 1 0 244.14 244.73Z" fill="#fdc086"/>
<circle cx="175.6" cy="198.4" r="3.25" fill="#7fc97f"/><path d="M175.6 198.4L178.86 198.40A3.25 3.25 0 0 0 176.86 195.40Z" fill="#f0027f"/>
<circle cx="306.8" cy="218.8" r="3.25" fill="#7fc97f"/><path d="M306.8 218.8L310.08 218.81A3.25 3.25 0 0 0 305.58 215.81Z" fill="#bf5b17"/><path d="M306.8 218.8L305.58 215.81A3.25 3.25 0 0 0 304.42 216.63Z" fill="#f0027f"/><path d="M306.8 218.8L304.42 216.63A3.25 3.25 0 0 0 303.92 217.36Z" fill="#386cb0"/>
<circle cx="308" cy="233.8" r="3.25" fill="#7fc97f"/><path d="M308 233.8L311.28 233.82A3.25 3.25 0 0 0 307.70 230.58Z" fill="#bf5b17"/>
<circle cx="170.8" cy="151.4" r="3.25" fill="#7fc97f"/><path d="M170.8 151.4L174.06 151.41A3.25 3.25 0 0 0 170.43 148.19Z" fill="#bf5b17"/><path d="M170.8 151.4L170.43 148.19A3.25 3.25 0 0 0 169.17 148.61Z" fill="#f0027f"/><path d="M170.8 151.4L169.17 148.61A3.25 3.25 0 0 0 167.59 150.94Z" fill="#386cb0"/>
<circle cx="215.8" cy="132.2" r="3.25" fill="#7fc97f"/><path d="M215.8 132.2L219.08 132.21A3.25 3.25 0 0 0 215.61 128.96Z" fill="#bf5b17"/><path d="M215.8 132.2L215.61 128.96A3.25 3.25 0 0 0 214.59 129.20Z" fill="#386cb0"/><path d="M215.8 132.2L214.59 129.20A3.25 3.25 0 0 0 213.38 130.07Z" fill="#fdc086"/>
<circle cx="295" cy="173.6" r="3.25" fill="#7fc97f"/><path d="M295 173.6L298.22 173.58A3.25 3.25 0 0 0 293.49 170.69Z" fill="#bf5b17"/><path d="M295 173.6L293.49 170.69A3.25 3.25 0 0 0 292.61 171.35Z" fill="#f0027f"/>
<circle cx="163" cy="154.4" r="3.25" fill="#7fc97f"/><path d="M163 154.4L166.26 154.42A3.25 3.25 0 0 0 166.22 153.94Z" fill="#bf5b17"/><path d="M163 154.4L166.22 153.94A3.25 3.25 0 0 0 159.77 154.10Z" fill="#f0027f"/><path d="M163 154.4L159.77 154.10A3.25 3.25 0 0 0 159.78 154.79Z" fill="#fdc086"/>
<circle cx="302" cy="225.4" r="3.25" fill="#7fc97f"/><path d="M302 225.4L305.28 225.41A3.25 3.25 0 1 0 298.79 225.67Z" fill="#bf5b17"/><path d="M302 225.4L298.79 225.67A3.25 3.25 0 0 0 298.87 226.19Z" fill="#f0027f"/>
<circle cx="200.8" cy="143" r="3.25" fill="#7fc97f"/><path d="M200.8 143L204.07 143.01A3.25 3.25 0 0 0 200.79 139.76Z" fill="#f0027f"/><path d="M200.8 143L200.79 139.76A3.25 3.25 0 0 0 200.13 139.84Z" fill="#fdc086"/>
<circle cx="220" cy="191" r="3.25" fill="#7fc97f"/><path d="M220 191L223.28 191.03A3.25 3.25 0 0 0 222.35 188.75Z" fill="#386cb0"/><path d="M220 191L222.35 188.75A3.25 3.25 0 0 0 216.83 190.47Z" fill="#fdc086"/>
<circle cx="265" cy="223.4" r="3.25" fill="#7fc97f"/><path d="M265 223.4L268.26 223.38A3.25 3.25 0 0 0 268.17 222.59Z" fill="#f0027f"/><path d="M265 223.4L268.17 222.59A3.25 3.25 0 0 0 267.53 221.32Z" fill="#386cb0"/><path d="M265 223.4L267.53 221.32A3.25 3.25 0 0 0 262.39 221.46Z" fill="#fdc086"/>
<circle cx="269" cy="161" r="3.25" fill="#7fc97f"/><path d="M269 161L272.26 161.02A3.25 3.25 0 0 0 269.39 157.79Z" fill="#bf5b17"/><path d="M269 161L269.39 157.79A3.25 3.25 0 0 0 266.31 159.21Z" fill="#386cb0"/>
<circle cx="224.8" cy="244.6" r="3.25" fill="#7fc97f"/><path d="M224.8 244.6L228.08 244.62A3.25 3.25 0 0 0 228.05 244.20Z" fill="#f0027f"/><path d="M224.8 244.6L228.05 244.20A3.25 3.25 0 0 0 226.62 241.90Z" fill="#386cb0"/><path d="M224.8 244.6L226.62 241.90A3.25 3.25 0 0 0 222.59 246.98Z" fill="#fdc086"/>
<circle cx="229.6" cy="191.6" r="3.25" fill="#7fc97f"/><path d="M229.6 191.6L232.88 191.63A3.25 3.25 0 0 0 232.78 190.81Z" fill="#bf5b17"/><path d="M229.6 191.6L232.78 190.81A3.25 3.25 0 0 0 232.58 190.26Z" fill="#f0027f"/><path d="M229.6 191.6L232.58 190.26A3.25 3.25 0 0 0 226.63 190.39Z" fill="#fdc086"/>
<circle cx="239.6" cy="246.4" r="3.25" fill="#7fc97f"/><path d="M239.6 246.4L242.85 246.42A3.25 3.25 0 0 0 242.13 244.38Z" fill="#386cb0"/><path d="M239.6 246.4L242.13 244.38A3.25 3.25 0 1 0 237.91 249.20Z" fill="#fdc086"/>
<circle cx="215.2" cy="193.6" r="3.25" fill="#7fc97f"/><path d="M215.2 193.6L218.48 193.60A3.25 3.25 0 0 0 218.27 192.47Z" fill="#bf5b17"/><path d="M215.2 193.6L218.27 192.47A3.25 3.25 0 0 0 217.62 191.40Z" fill="#386cb0"/><path d="M215.2 193.6L217.62 191.40A3.25 3.25 0 0 0 213.33 190.96Z" fill="#fdc086"/>
<circle cx="284.8" cy="176.3" r="3.25" fill="#7fc97f"/><path d="M284.8 176.3L288.09 176.29A3.25 3.25 0 0 0 285.10 173.05Z" fill="#f0027f"/><path d="M284.8 176.3L285.10 173.05A3.25 3.25 0 0 0 281.80 175.15Z" fill="#386cb0"/>
<circle cx="263.6" cy="238.6" r="3.25" fill="#7fc97f"/><path d="M263.6 238.6L266.86 238.62A3.25 3.25 0 0 0 266.77 237.84Z" fill="#bf5b17"/><path d="M263.6 238.6L266.77 237.84A3.25 3.25 0 0 0 266.62 237.40Z" fill="#f0027f"/><path d="M263.6 238.6L266.62 237.40A3.25 3.25 0 0 0 266.43 237.00Z" fill="#386cb0"/><path d="M263.6 238.6L266.43 237.00A3.25 3.25 0 1 0 260.94 240.47Z" fill="#fdc086"/>
<circle cx="228.4" cy="174.8" r="3.25" fill="#7fc97f"/><path d="M228.4 174.8L231.68 174.82A3.25 3.25 0 0 0 226.50 172.21Z" fill="#f0027f"/><path d="M228.4 174.8L226.50 172.21A3.25 3.25 0 0 0 225.18 174.75Z" fill="#386cb0"/>
<circle cx="232" cy="170.6" r="3.25" fill="#7fc97f"/><path d="M232 170.6L235.28 170.62A3.25 3.25 0 0 0 230.81 167.61Z" fill="#386cb0"/>
<circle cx="273.8" cy="223" r="3.25" fill="#7fc97f"/><path d="M273.8 223L277.07 223.01A3.25 3.25 0 0 0 276.89 221.96Z" fill="#f0027f"/><path d="M273.8 223L276.89 221.96A3.25 3.25 0 0 0 271.69 220.56Z" fill="#fdc086"/>
<circle cx="254" cy="220" r="3.25" fill="#7fc97f"/><path d="M254 220L257.26 220.01A3.25 3.25 0 0 0 257.19 219.33Z" fill="#f0027f"/><path d="M254 220L257.19 219.33A3.25 3.25 0 1 0 251.25 221.74Z" fill="#fdc086"/>
<circle cx="164.8" cy="205" r="3.25" fill="#7fc97f"/><path d="M164.8 205L168.06 205.00A3.25 3.25 0 0 0 167.81 203.76Z" fill="#bf5b17"/><path d="M164.8 205L167.81 203.76A3.25 3.25 0 0 0 166.92 202.54Z" fill="#386cb0"/>
<circle cx="272.6" cy="237.4" r="3.25" fill="#7fc97f"/>
<circle cx="157" cy="185.6" r="3.25" fill="#7fc97f"/><path d="M157 185.6L160.25 185.63A3.25 3.25 0 0 0 160.15 184.80Z" fill="#bf5b17"/><path d="M157 185.6L160.15 184.80A3.25 3.25 0 0 0 158.82 182.93Z" fill="#f0027f"/><path d="M157 185.6L158.82 182.93A3.25 3.25 0 0 0 157.60 182.43Z" fill="#386cb0"/>
<circle cx="272" cy="241" r="3.25" fill="#7fc97f"/><path d="M272 241L275.27 241.02A3.25 3.25 0 0 0 274.38 238.79Z" fill="#f0027f"/>
<circle cx="171.4" cy="194.6" r="3.25" fill="#7fc97f"/><path d="M171.4 194.6L174.66 194.63A3.25 3.25 0 0 0 168.36 193.50Z" fill="#f0027f"/>
<circle cx="162.4" cy="194" r="3.25" fill="#7fc97f"/><path d="M162.4 194L165.66 194.03A3.25 3.25 0 0 0 165.62 193.52Z" fill="#bf5b17"/><path d="M162.4 194L165.62 193.52A3.25 3.25 0 0 0 163.22 190.89Z" fill="#f0027f"/><path d="M162.4 194L163.22 190.89A3.25 3.25 0 0 0 159.16 193.84Z" fill="#fdc086"/>
<circle cx="256.4" cy="143" r="3.25" fill="#7fc97f"/><path d="M256.4 143L259.66 143.01A3.25 3.25 0 0 0 256.74 139.78Z" fill="#bf5b17"/><path d="M256.4 143L256.74 139.78A3.25 3.25 0 0 0 253.62 141.35Z" fill="#f0027f"/><path d="M256.4 143L253.62 141.35A3.25 3.25 0 0 0 253.21 142.42Z" fill="#fdc086"/>
<circle cx="249.8" cy="135.8" r="3.25" fill="#7fc97f"/><path d="M249.8 135.8L253.06 135.81A3.25 3.25 0 0 0 250.80 132.71Z" fill="#bf5b17"/><path d="M249.8 135.8L250.80 132.71A3.25 3.25 0 0 0 247.53 133.49Z" fill="#f0027f"/>
<circle cx="263.6" cy="167.6" r="3.25" fill="#7fc97f"/><path d="M263.6 167.6L266.86 167.62A3.25 3.25 0 0 0 264.17 164.42Z" fill="#bf5b17"/><path d="M263.6 167.6L264.17 164.42A3.25 3.25 0 0 0 263.05 164.42Z" fill="#f0027f"/>
<circle cx="299.9" cy="216.6" r="3.25" fill="#7fc97f"/><path d="M299.9 216.6L303.13 216.59A3.25 3.25 0 0 0 301.22 213.63Z" fill="#bf5b17"/><path d="M299.9 216.6L301.22 213.63A3.25 3.25 0 0 0 300.37 213.38Z" fill="#f0027f"/><path d="M299.9 216.6L300.37 213.38A3.25 3.25 0 0 0 296.72 215.80Z" fill="#386cb0"/><path d="M299.9 216.6L296.72 215.80A3.25 3.25 0 0 0 296.63 216.51Z" fill="#fdc086"/>
<circle cx="253.6" cy="148.9" r="3.25" fill="#7fc97f"/><path d="M253.6 148.9L256.84 148.86A3.25 3.25 0 0 0 254.56 145.76Z" fill="#bf5b17"/><path d="M253.6 148.9L254.56 145.76A3.25 3.25 0 0 0 251.55 146.33Z" fill="#386cb0"/>
<circle cx="207.7" cy="202.8" r="3.25" fill="#7fc97f"/><path d="M207.7 202.8L210.98 202.78A3.25 3.25 0 0 0 208.17 199.56Z" fill="#386cb0"/><path d="M207.7 202.8L208.17 199.56A3.25 3.25 0 0 0 206.78 199.67Z" fill="#fdc086"/>
<circle cx="199.6" cy="167.6" r="3.25" fill="#7fc97f"/>
<circle cx="302" cy="203.8" r="3.25" fill="#7fc97f"/><path d="M302 203.8L305.28 203.80A3.25 3.25 0 0 0 300.74 200.82Z" fill="#bf5b17"/><path d="M302 203.8L300.74 200.82A3.25 3.25 0 0 0 299.97 201.29Z" fill="#f0027f"/><path d="M302 203.8L299.97 201.29A3.25 3.25 0 0 0 298.99 202.65Z" fill="#fdc086"/>
<circle cx="252.6" cy="132.9" r="3.25" fill="#7fc97f"/><path d="M252.6 132.9L255.90 132.94A3.25 3.25 0 0 0 253.46 129.80Z" fill="#bf5b17"/><path d="M252.6 132.9L253.46 129.80A3.25 3.25 0 0 0 249.69 131.59Z" fill="#f0027f"/><path d="M252.6 132.9L249.69 131.59A3.25 3.25 0 0 0 249.52 132.07Z" fill="#fdc086"/>
<circle cx="266.6" cy="249.4" r="3.25" fill="#7fc97f"/><path d="M266.6 249.4L269.86 249.42A3.25 3.25 0 0 0 269.75 248.58Z" fill="#386cb0"/><path d="M266.6 249.4L269.75 248.58A3.25 3.25 0 1 0 264.02 251.37Z" fill="#fdc086"/>
<circle cx="302.6" cy="209.8" r="3.25" fill="#7fc97f"/><path d="M302.6 209.8L305.88 209.81A3.25 3.25 0 0 0 299.70 208.39Z" fill="#bf5b17"/><path d="M302.6 209.8L299.70 208.39A3.25 3.25 0 0 0 299.42 209.26Z" fill="#386cb0"/>
<circle cx="188.8" cy="171.8" r="3.25" fill="#7fc97f"/><path d="M188.8 171.8L192.07 171.82A3.25 3.25 0 0 0 188.26 168.62Z" fill="#f0027f"/><path d="M188.8 171.8L188.26 168.62A3.25 3.25 0 0 0 185.68 170.96Z" fill="#386cb0"/>
<circle cx="274.4" cy="244.6" r="3.25" fill="#7fc97f"/><path d="M274.4 244.6L277.67 244.62A3.25 3.25 0 0 0 273.39 241.54Z" fill="#bf5b17"/><path d="M274.4 244.6L273.39 241.54A3.25 3.25 0 0 0 272.79 241.81Z" fill="#fdc086"/>
<circle cx="254.8" cy="193.7" r="3.25" fill="#7fc97f"/><path d="M254.8 193.7L258.07 193.69A3.25 3.25 0 0 0 251.68 192.83Z" fill="#386cb0"/>
<circle cx="264.8" cy="220.6" r="3.25" fill="#7fc97f"/><path d="M264.8 220.6L268.06 220.61A3.25 3.25 0 0 0 267.74 219.21Z" fill="#bf5b17"/><path d="M264.8 220.6L267.74 219.21A3.25 3.25 0 0 0 267.20 218.40Z" fill="#f0027f"/><path d="M264.8 220.6L267.20 218.40A3.25 3.25 0 0 0 261.74 219.55Z" fill="#fdc086"/>
<circle cx="176.8" cy="144.2" r="3.25" fill="#7fc97f"/><path d="M176.8 144.2L180.06 144.21A3.25 3.25 0 1 0 173.56 144.24Z" fill="#bf5b17"/>
<circle cx="213.4" cy="189.2" r="3.25" fill="#7fc97f"/><path d="M213.4 189.2L216.68 189.23A3.25 3.25 0 0 0 213.78 186.00Z" fill="#f0027f"/><path d="M213.4 189.2L213.78 186.00A3.25 3.25 0 0 0 212.71 186.06Z" fill="#386cb0"/><path d="M213.4 189.2L212.71 186.06A3.25 3.25 0 0 0 210.18 189.39Z" fill="#fdc086"/>
<circle cx="201.4" cy="206.2" r="3.25" fill="#7fc97f"/><path d="M201.4 206.2L204.67 206.21A3.25 3.25 0 0 0 204.56 205.35Z" fill="#386cb0"/><path d="M201.4 206.2L204.56 205.35A3.25 3.25 0 1 0 199.52 208.84Z" fill="#fdc086"/>
<circle cx="187" cy="212.8" r="3.25" fill="#7fc97f"/><path d="M187 212.8L190.27 212.81A3.25 3.25 0 0 0 190.20 212.17Z" fill="#fdc086"/>
<circle cx="261.1" cy="153.3" r="3.25" fill="#7fc97f"/><path d="M261.1 153.3L264.39 153.29A3.25 3.25 0 0 0 264.14 152.03Z" fill="#f0027f"/><path d="M261.1 153.3L264.14 152.03A3.25 3.25 0 0 0 258.34 151.64Z" fill="#386cb0"/><path d="M261.1 153.3L258.34 151.64A3.25 3.25 0 0 0 258.13 152.07Z" fill="#fdc086"/>
<circle cx="304.2" cy="232" r="3.25" fill="#7fc97f"/><path d="M304.2 232L307.44 231.99A3.25 3.25 0 0 0 303.70 228.78Z" fill="#bf5b17"/><path d="M304.2 232L303.70 228.78A3.25 3.25 0 0 0 303.10 228.93Z" fill="#386cb0"/>
<circle cx="202" cy="132.2" r="3.25" fill="#7fc97f"/><path d="M202 132.2L205.27 132.21A3.25 3.25 0 0 0 200.55 129.31Z" fill="#bf5b17"/><path d="M202 132.2L200.55 129.31A3.25 3.25 0 0 0 199.95 129.71Z" fill="#386cb0"/>
<circle cx="305.6" cy="227.2" r="3.25" fill="#7fc97f"/><path d="M305.6 227.2L308.88 227.21A3.25 3.25 0 0 0 305.08 224.01Z" fill="#bf5b17"/>
<circle cx="161.8" cy="181.5" r="3.25" fill="#7fc97f"/><path d="M161.8 181.5L165.00 181.52A3.25 3.25 0 0 0 164.88 180.63Z" fill="#bf5b17"/><path d="M161.8 181.5L164.88 180.63A3.25 3.25 0 0 0 162.74 178.42Z" fill="#f0027f"/><path d="M161.8 181.5L162.74 178.42A3.25 3.25 0 0 0 162.16 178.29Z" fill="#386cb0"/><path d="M161.8 181.5L162.16 178.29A3.25 3.25 0 0 0 158.56 180.90Z" fill="#fdc086"/>
<circle cx="187.6" cy="186.2" r="3.25" fill="#7fc97f"/><path d="M187.6 186.2L190.87 186.23A3.25 3.25 0 0 0 190.81 185.65Z" fill="#bf5b17"/><path d="M187.6 186.2L190.81 185.65A3.25 3.25 0 0 0 190.67 185.11Z" fill="#386cb0"/><path d="M187.6 186.2L190.67 185.11A3.25 3.25 0 0 0 185.36 183.89Z" fill="#fdc086"/>
<circle cx="277.4" cy="232.6" r="3.25" fill="#7fc97f"/><path d="M277.4 232.6L280.67 232.62A3.25 3.25 0 0 0 280.62 232.05Z" fill="#bf5b17"/><path d="M277.4 232.6L280.62 232.05A3.25 3.25 0 0 0 280.45 231.43Z" fill="#f0027f"/><path d="M277.4 232.6L280.45 231.43A3.25 3.25 0 0 0 278.77 229.66Z" fill="#386cb0"/><path d="M277.4 232.6L278.77 229.66A3.25 3.25 0 0 0 274.18 232.39Z" fill="#fdc086"/>
<circle cx="239" cy="265" r="3.25" fill="#7fc97f"/><path d="M239 265L242.25 265.03A3.25 3.25 0 0 0 241.67 263.17Z" fill="#386cb0"/><path d="M239 265L241.67 263.17A3.25 3.25 0 0 0 235.80 265.56Z" fill="#fdc086"/>
<circle cx="300.2" cy="207.7" r="3.25" fill="#7fc97f"/><path d="M300.2 207.7L303.48 207.72A3.25 3.25 0 0 0 300.46 204.48Z" fill="#bf5b17"/><path d="M300.2 207.7L300.46 204.48A3.25 3.25 0 0 0 299.04 204.69Z" fill="#f0027f"/>
<circle cx="238" cy="264.4" r="3.25" fill="#7fc97f"/><path d="M238 264.4L241.26 264.37A3.25 3.25 0 0 0 240.50 262.28Z" fill="#386cb0"/><path d="M238 264.4L240.50 262.28A3.25 3.25 0 0 0 235.21 266.02Z" fill="#fdc086"/>
<circle cx="166" cy="191.6" r="3.25" fill="#7fc97f"/><path d="M166 191.6L169.26 191.63A3.25 3.25 0 0 0 169.08 190.56Z" fill="#bf5b17"/><path d="M166 191.6L169.08 190.56A3.25 3.25 0 1 0 164.20 194.33Z" fill="#f0027f"/><path d="M166 191.6L164.20 194.33A3.25 3.25 0 0 0 164.62 194.57Z" fill="#fdc086"/>
<circle cx="241" cy="248.7" r="3.25" fill="#7fc97f"/><path d="M241 248.7L244.26 248.74A3.25 3.25 0 0 0 244.16 247.94Z" fill="#bf5b17"/><path d="M241 248.7L244.16 247.94A3.25 3.25 0 0 0 242.81 246.04Z" fill="#386cb0"/><path d="M241 248.7L242.81 246.04A3.25 3.25 0 0 0 238.54 250.85Z" fill="#fdc086"/>
<circle cx="228.4" cy="261.4" r="3.25" fill="#7fc97f"/><path d="M228.4 261.4L231.68 261.43A3.25 3.25 0 0 0 228.80 258.20Z" fill="#bf5b17"/><path d="M228.4 261.4L228.80 258.20A3.25 3.25 0 1 0 228.91 264.64Z" fill="#fdc086"/>
<circle cx="252.2" cy="137.6" r="3.25" fill="#7fc97f"/><path d="M252.2 137.6L255.46 137.61A3.25 3.25 0 0 0 249.05 136.85Z" fill="#bf5b17"/><path d="M252.2 137.6L249.05 136.85A3.25 3.25 0 0 0 248.98 137.26Z" fill="#386cb0"/>
<circle cx="201.9" cy="155.4" r="3.25" fill="#7fc97f"/><path d="M201.9 155.4L205.11 155.43A3.25 3.25 0 0 0 204.88 154.23Z" fill="#fdc086"/>
<circle cx="230.8" cy="135.8" r="3.25" fill="#7fc97f"/><path d="M230.8 135.8L234.08 135.81A3.25 3.25 0 0 0 229.99 132.67Z" fill="#bf5b17"/><path d="M230.8 135.8L229.99 132.67A3.25 3.25 0 0 0 229.13 133.04Z" fill="#386cb0"/><path d="M230.8 135.8L229.13 133.04A3.25 3.25 0 0 0 228.44 133.60Z" fill="#fdc086"/>
<circle cx="161.8" cy="158.6" r="3.25" fill="#7fc97f"/><path d="M161.8 158.6L165.06 158.62A3.25 3.25 0 0 0 163.64 155.93Z" fill="#bf5b17"/><path d="M161.8 158.6L163.64 155.93A3.25 3.25 0 0 0 158.61 159.22Z" fill="#f0027f"/><path d="M161.8 158.6L158.61 159.22A3.25 3.25 0 0 0 158.91 160.10Z" fill="#fdc086"/>
<circle cx="234.2" cy="265" r="3.25" fill="#7fc97f"/><path d="M234.2 265L237.45 265.03A3.25 3.25 0 0 0 236.78 263.05Z" fill="#386cb0"/><path d="M234.2 265L236.78 263.05A3.25 3.25 0 0 0 231.57 266.93Z" fill="#fdc086"/>
<circle cx="221.2" cy="134" r="3.25" fill="#7fc97f"/><path d="M221.2 134L224.48 134.01A3.25 3.25 0 0 0 221.33 130.76Z" fill="#bf5b17"/><path d="M221.2 134L221.33 130.76A3.25 3.25 0 0 0 219.95 131.02Z" fill="#386cb0"/>
<circle cx="245" cy="130.4" r="3.25" fill="#7fc97f"/><path d="M245 130.4L248.25 130.41A3.25 3.25 0 0 0 245.07 127.16Z" fill="#bf5b17"/><path d="M245 130.4L245.07 127.16A3.25 3.25 0 0 0 241.83 131.11Z" fill="#f0027f"/><path d="M245 130.4L241.83 131.11A3.25 3.25 0 0 0 242.27 132.16Z" fill="#386cb0"/>
<circle cx="300.2" cy="192.8" r="3.25" fill="#7fc97f"/><path d="M300.2 192.8L303.48 192.83A3.25 3.25 0 0 0 297.06 192.12Z" fill="#bf5b17"/>
<circle cx="308.1" cy="229.8" r="3.25" fill="#7fc97f"/><path d="M308.1 229.8L311.32 229.80A3.25 3.25 0 0 0 308.12 226.55Z" fill="#bf5b17"/><path d="M308.1 229.8L308.12 226.55A3.25 3.25 0 0 0 306.30 227.07Z" fill="#386cb0"/>
<circle cx="251.5" cy="139" r="3.25" fill="#7fc97f"/><path d="M251.5 139L254.76 138.96A3.25 3.25 0 0 0 251.91 135.73Z" fill="#bf5b17"/><path d="M251.5 139L251.91 135.73A3.25 3.25 0 0 0 249.40 136.49Z" fill="#386cb0"/><path d="M251.5 139L249.40 136.49A3.25 3.25 0 0 0 248.95 136.96Z" fill="#fdc086"/>
<circle cx="232" cy="212.8" r="3.25" fill="#7fc97f"/><path d="M232 212.8L235.28 212.81A3.25 3.25 0 1 0 228.88 213.59Z" fill="#fdc086"/>
<circle cx="246.6" cy="132.6" r="3.25" fill="#7fc97f"/><path d="M246.6 132.6L249.86 132.65A3.25 3.25 0 0 0 247.04 129.43Z" fill="#bf5b17"/><path d="M246.6 132.6L247.04 129.43A3.25 3.25 0 0 0 243.41 132.04Z" fill="#f0027f"/><path d="M246.6 132.6L243.41 132.04A3.25 3.25 0 0 0 243.36 132.69Z" fill="#fdc086"/>
<circle cx="267.8" cy="245.2" r="3.25" fill="#7fc97f"/><path d="M267.8 245.2L271.06 245.22A3.25 3.25 0 0 0 270.28 243.10Z" fill="#386cb0"/><path d="M267.8 245.2L270.28 243.10A3.25 3.25 0 0 0 264.93 243.71Z" fill="#fdc086"/>
<circle cx="189.4" cy="140" r="3.25" fill="#7fc97f"/><path d="M189.4 140L192.67 140.01A3.25 3.25 0 0 0 192.52 139.03Z" fill="#bf5b17"/><path d="M189.4 140L192.52 139.03A3.25 3.25 0 0 0 189.17 136.77Z" fill="#f0027f"/><path d="M189.4 140L189.17 136.77A3.25 3.25 0 0 0 188.50 136.89Z" fill="#386cb0"/>
<circle cx="291.8" cy="173" r="3.25" fill="#7fc97f"/><path d="M291.8 173L295.07 173.02A3.25 3.25 0 1 0 288.87 174.37Z" fill="#bf5b17"/>
<circle cx="156.4" cy="192.8" r="3.25" fill="#7fc97f"/><path d="M156.4 192.8L159.65 192.83A3.25 3.25 0 0 0 156.58 189.59Z" fill="#f0027f"/><path d="M156.4 192.8L156.58 189.59A3.25 3.25 0 0 0 153.49 191.39Z" fill="#fdc086"/>
<circle cx="270.9" cy="166.6" r="3.25" fill="#7fc97f"/><path d="M270.9 166.6L274.13 166.63A3.25 3.25 0 0 0 271.31 163.40Z" fill="#bf5b17"/><path d="M270.9 166.6L271.31 163.40A3.25 3.25 0 0 0 270.37 163.42Z" fill="#fdc086"/>
<circle cx="251" cy="212.2" r="3.25" fill="#7fc97f"/><path d="M251 212.2L254.26 212.21A3.25 3.25 0 0 0 254.14 211.35Z" fill="#f0027f"/><path d="M251 212.2L254.14 211.35A3.25 3.25 0 1 0 247.93 213.25Z" fill="#fdc086"/>
<circle cx="212.8" cy="125.6" r="3.25" fill="#7fc97f"/><path d="M212.8 125.6L216.08 125.60A3.25 3.25 0 0 0 214.08 122.60Z" fill="#bf5b17"/><path d="M212.8 125.6L214.08 122.60A3.25 3.25 0 0 0 209.91 124.18Z" fill="#f0027f"/>
<circle cx="309.2" cy="222.4" r="3.25" fill="#7fc97f"/><path d="M309.2 222.4L312.48 222.41A3.25 3.25 0 0 0 310.40 219.38Z" fill="#bf5b17"/><path d="M309.2 222.4L310.40 219.38A3.25 3.25 0 0 0 309.09 219.17Z" fill="#f0027f"/><path d="M309.2 222.4L309.09 219.17A3.25 3.25 0 0 0 306.85 220.20Z" fill="#386cb0"/>
<circle cx="285.5" cy="230.6" r="3.25" fill="#7fc97f"/><path d="M285.5 230.6L288.77 230.57A3.25 3.25 0 0 0 285.15 227.34Z" fill="#bf5b17"/><path d="M285.5 230.6L285.15 227.34A3.25 3.25 0 0 0 284.28 227.56Z" fill="#f0027f"/><path d="M285.5 230.6L284.28 227.56A3.25 3.25 0 0 0 282.27 230.63Z" fill="#386cb0"/>
<circle cx="281" cy="227.8" r="3.25" fill="#7fc97f"/><path d="M281 227.8L284.27 227.81A3.25 3.25 0 0 0 281.47 224.60Z" fill="#f0027f"/><path d="M281 227.8L281.47 224.60A3.25 3.25 0 0 0 277.91 226.86Z" fill="#386cb0"/><path d="M281 227.8L277.91 226.86A3.25 3.25 0 0 0 277.77 227.77Z" fill="#fdc086"/>
<circle cx="279.1" cy="219.7" r="3.25" fill="#7fc97f"/><path d="M279.1 219.7L282.32 219.75A3.25 3.25 0 0 0 282.10 218.57Z" fill="#bf5b17"/><path d="M279.1 219.7L282.10 218.57A3.25 3.25 0 0 0 278.78 216.51Z" fill="#386cb0"/>
<circle cx="260" cy="165.2" r="3.25" fill="#7fc97f"/><path d="M260 165.2L263.26 165.22A3.25 3.25 0 0 0 262.74 163.46Z" fill="#f0027f"/>
<circle cx="266" cy="214" r="3.25" fill="#7fc97f"/><path d="M266 214L269.26 214.01A3.25 3.25 0 0 0 269.16 213.18Z" fill="#f0027f"/><path d="M266 214L269.16 213.18A3.25 3.25 0 0 0 266.76 210.85Z" fill="#386cb0"/><path d="M266 214L266.76 210.85A3.25 3.25 0 0 0 265.28 210.84Z" fill="#fdc086"/>
<circle cx="261.8" cy="155.6" r="3.25" fill="#7fc97f"/><path d="M261.8 155.6L265.06 155.62A3.25 3.25 0 0 0 261.53 152.38Z" fill="#bf5b17"/><path d="M261.8 155.6L261.53 152.38A3.25 3.25 0 0 0 260.12 152.84Z" fill="#386cb0"/><path d="M261.8 155.6L260.12 152.84A3.25 3.25 0 0 0 259.10 153.83Z" fill="#fdc086"/>
<circle cx="242" cy="239.2" r="3.25" fill="#7fc97f"/><path d="M242 239.2L245.25 239.22A3.25 3.25 0 0 0 245.07 238.13Z" fill="#bf5b17"/><path d="M242 239.2L245.07 238.13A3.25 3.25 0 0 0 242.55 236.01Z" fill="#f0027f"/><path d="M242 239.2L242.55 236.01A3.25 3.25 0 0 0 239.07 237.81Z" fill="#386cb0"/>
<circle cx="261.2" cy="162.2" r="3.25" fill="#7fc97f"/><path d="M261.2 162.2L264.46 162.22A3.25 3.25 0 0 0 261.59 158.99Z" fill="#bf5b17"/><path d="M261.2 162.2L261.59 158.99A3.25 3.25 0 0 0 260.59 159.03Z" fill="#f0027f"/><path d="M261.2 162.2L260.59 159.03A3.25 3.25 0 0 0 258.49 160.44Z" fill="#386cb0"/>
<circle cx="190" cy="165.2" r="3.25" fill="#7fc97f"/><path d="M190 165.2L193.27 165.22A3.25 3.25 0 0 0 192.68 163.36Z" fill="#bf5b17"/><path d="M190 165.2L192.68 163.36A3.25 3.25 0 0 0 187.25 163.51Z" fill="#f0027f"/>
<circle cx="258.8" cy="150.2" r="3.25" fill="#7fc97f"/><path d="M258.8 150.2L262.06 150.21A3.25 3.25 0 0 0 261.89 149.17Z" fill="#bf5b17"/><path d="M258.8 150.2L261.89 149.17A3.25 3.25 0 0 0 261.58 148.51Z" fill="#f0027f"/><path d="M258.8 150.2L261.58 148.51A3.25 3.25 0 0 0 256.00 148.58Z" fill="#386cb0"/><path d="M258.8 150.2L256.00 148.58A3.25 3.25 0 0 0 255.66 149.41Z" fill="#fdc086"/>
<circle cx="297.8" cy="171.8" r="3.25" fill="#7fc97f"/><path d="M297.8 171.8L301.08 171.82A3.25 3.25 0 0 0 295.14 170.00Z" fill="#bf5b17"/><path d="M297.8 171.8L295.14 170.00A3.25 3.25 0 0 0 294.75 170.77Z" fill="#386cb0"/><path d="M297.8 171.8L294.75 170.77A3.25 3.25 0 0 0 294.59 172.14Z" fill="#fdc086"/>
<circle cx="267.8" cy="169.4" r="3.25" fill="#7fc97f"/><path d="M267.8 169.4L271.06 169.42A3.25 3.25 0 1 0 264.58 169.75Z" fill="#bf5b17"/><path d="M267.8 169.4L264.58 169.75A3.25 3.25 0 0 0 264.76 170.55Z" fill="#fdc086"/>
<circle cx="293" cy="189.8" r="3.25" fill="#7fc97f"/><path d="M293 189.8L296.27 189.83A3.25 3.25 0 0 0 293.73 186.66Z" fill="#bf5b17"/><path d="M293 189.8L293.73 186.66A3.25 3.25 0 0 0 290.42 187.89Z" fill="#f0027f"/><path d="M293 189.8L290.42 187.89A3.25 3.25 0 0 0 289.98 188.70Z" fill="#fdc086"/>
<circle cx="159.6" cy="152.7" r="3.25" fill="#7fc97f"/><path d="M159.6 152.7L162.85 152.70A3.25 3.25 0 1 0 156.40 153.27Z" fill="#f0027f"/><path d="M159.6 152.7L156.40 153.27A3.25 3.25 0 0 0 156.54 153.78Z" fill="#386cb0"/><path d="M159.6 152.7L156.54 153.78A3.25 3.25 0 0 0 156.78 154.31Z" fill="#fdc086"/>
<circle cx="303.2" cy="232.6" r="3.25" fill="#7fc97f"/><path d="M303.2 232.6L306.48 232.62A3.25 3.25 0 0 0 303.25 229.37Z" fill="#bf5b17"/><path d="M303.2 232.6L303.25 229.37A3.25 3.25 0 0 0 302.42 229.47Z" fill="#f0027f"/><path d="M303.2 232.6L302.42 229.47A3.25 3.25 0 0 0 301.34 229.97Z" fill="#386cb0"/>
<circle cx="246.8" cy="146.6" r="3.25" fill="#7fc97f"/><path d="M246.8 146.6L250.06 146.61A3.25 3.25 0 0 0 245.52 143.63Z" fill="#bf5b17"/>
<circle cx="301.4" cy="183.8" r="3.25" fill="#7fc97f"/><path d="M301.4 183.8L304.68 183.83A3.25 3.25 0 0 0 302.55 180.78Z" fill="#bf5b17"/><path d="M301.4 183.8L302.55 180.78A3.25 3.25 0 0 0 301.32 180.58Z" fill="#386cb0"/>
<circle cx="296.8" cy="202.4" r="3.25" fill="#7fc97f"/><path d="M296.8 202.4L300.03 202.38A3.25 3.25 0 0 0 293.79 201.12Z" fill="#bf5b17"/><path d="M296.8 202.4L293.79 201.12A3.25 3.25 0 0 0 293.63 201.58Z" fill="#fdc086"/>
<circle cx="300.2" cy="200.8" r="3.25" fill="#7fc97f"/><path d="M300.2 200.8L303.48 200.80A3.25 3.25 0 0 0 297.35 199.30Z" fill="#bf5b17"/><path d="M300.2 200.8L297.35 199.30A3.25 3.25 0 0 0 296.98 200.58Z" fill="#fdc086"/>
<circle cx="186.4" cy="200.2" r="3.25" fill="#7fc97f"/><path d="M186.4 200.2L189.67 200.20A3.25 3.25 0 0 0 183.48 198.80Z" fill="#f0027f"/><path d="M186.4 200.2L183.48 198.80A3.25 3.25 0 0 0 183.22 199.61Z" fill="#fdc086"/>
<circle cx="203.5" cy="124.2" r="3.25" fill="#7fc97f"/><path d="M203.5 124.2L206.71 124.16A3.25 3.25 0 0 0 204.76 121.18Z" fill="#f0027f"/><path d="M203.5 124.2L204.76 121.18A3.25 3.25 0 0 0 201.16 121.87Z" fill="#386cb0"/><path d="M203.5 124.2L201.16 121.87A3.25 3.25 0 0 0 200.80 122.30Z" fill="#fdc086"/>
<circle cx="224.8" cy="173" r="3.25" fill="#7fc97f"/><path d="M224.8 173L228.08 173.02A3.25 3.25 0 0 0 227.93 172.03Z" fill="#bf5b17"/><path d="M224.8 173L227.93 172.03A3.25 3.25 0 0 0 223.11 170.27Z" fill="#386cb0"/>
<circle cx="245.3" cy="150.4" r="3.25" fill="#7fc97f"/><path d="M245.3 150.4L248.54 150.42A3.25 3.25 0 0 0 248.50 149.88Z" fill="#bf5b17"/><path d="M245.3 150.4L248.50 149.88A3.25 3.25 0 0 0 243.39 147.79Z" fill="#f0027f"/><path d="M245.3 150.4L243.39 147.79A3.25 3.25 0 0 0 242.27 151.62Z" fill="#386cb0"/>
<circle cx="285.2" cy="180.8" r="3.25" fill="#7fc97f"/><path d="M285.2 180.8L288.47 180.83A3.25 3.25 0 0 0 285.26 177.58Z" fill="#f0027f"/><path d="M285.2 180.8L285.26 177.58A3.25 3.25 0 0 0 283.56 183.62Z" fill="#386cb0"/>
<circle cx="183.4" cy="199" r="3.25" fill="#7fc97f"/><path d="M183.4 199L186.66 199.00A3.25 3.25 0 1 0 180.51 200.46Z" fill="#f0027f"/><path d="M183.4 199L180.51 200.46A3.25 3.25 0 0 0 181.12 201.30Z" fill="#386cb0"/>
<circle cx="194.8" cy="197.2" r="3.25" fill="#7fc97f"/><path d="M194.8 197.2L198.07 197.20A3.25 3.25 0 0 0 193.59 194.19Z" fill="#fdc086"/>
<circle cx="158.2" cy="181.4" r="3.25" fill="#7fc97f"/><path d="M158.2 181.4L161.45 181.43A3.25 3.25 0 0 0 159.64 178.51Z" fill="#f0027f"/><path d="M158.2 181.4L159.64 178.51A3.25 3.25 0 0 0 155.08 180.51Z" fill="#fdc086"/>
<circle cx="285.8" cy="167.6" r="3.25" fill="#7fc97f"/><path d="M285.8 167.6L289.07 167.62A3.25 3.25 0 0 0 288.26 165.47Z" fill="#f0027f"/>
<circle cx="295.4" cy="217" r="3.25" fill="#7fc97f"/><path d="M295.4 217L298.67 217.01A3.25 3.25 0 0 0 296.56 213.96Z" fill="#bf5b17"/><path d="M295.4 217L296.56 213.96A3.25 3.25 0 0 0 292.20 217.40Z" fill="#386cb0"/><path d="M295.4 217L292.20 217.40A3.25 3.25 0 0 0 292.49 218.41Z" fill="#fdc086"/>
<circle cx="199" cy="150.8" r="3.25" fill="#7fc97f"/><path d="M199 150.8L202.27 150.81A3.25 3.25 0 0 0 200.16 147.77Z" fill="#f0027f"/><path d="M199 150.8L200.16 147.77A3.25 3.25 0 0 0 196.34 148.97Z" fill="#386cb0"/>
<circle cx="244.4" cy="134" r="3.25" fill="#7fc97f"/><path d="M244.4 134L247.65 134.01A3.25 3.25 0 0 0 242.58 131.32Z" fill="#bf5b17"/>
<circle cx="228.3" cy="196.6" r="3.25" fill="#7fc97f"/><path d="M228.3 196.6L231.54 196.59A3.25 3.25 0 0 0 231.35 195.49Z" fill="#bf5b17"/><path d="M228.3 196.6L231.35 195.49A3.25 3.25 0 0 0 228.36 193.34Z" fill="#f0027f"/><path d="M228.3 196.6L228.36 193.34A3.25 3.25 0 0 0 227.06 193.58Z" fill="#386cb0"/><path d="M228.3 196.6L227.06 193.58A3.25 3.25 0 0 0 225.25 197.74Z" fill="#fdc086"/>
<circle cx="232" cy="256" r="3.25" fill="#7fc97f"/><path d="M232 256L235.28 256.03A3.25 3.25 0 0 0 235.11 254.98Z" fill="#f0027f"/><path d="M232 256L235.11 254.98A3.25 3.25 0 1 0 233.71 258.81Z" fill="#fdc086"/>
<circle cx="198.8" cy="138.1" r="3.25" fill="#7fc97f"/><path d="M198.8 138.1L202.08 138.11A3.25 3.25 0 0 0 197.55 135.12Z" fill="#bf5b17"/>
<circle cx="231.4" cy="219.4" r="3.25" fill="#7fc97f"/><path d="M231.4 219.4L234.68 219.41A3.25 3.25 0 0 0 228.18 219.39Z" fill="#fdc086"/>
<circle cx="201.3" cy="129.3" r="3.25" fill="#7fc97f"/><path d="M201.3 129.3L204.59 129.35A3.25 3.25 0 0 0 200.67 126.17Z" fill="#f0027f"/><path d="M201.3 129.3L200.67 126.17A3.25 3.25 0 0 0 198.10 129.18Z" fill="#386cb0"/>
<circle cx="285.8" cy="164.6" r="3.25" fill="#7fc97f"/><path d="M285.8 164.6L289.07 164.62A3.25 3.25 0 0 0 286.94 161.57Z" fill="#bf5b17"/><path d="M285.8 164.6L286.94 161.57A3.25 3.25 0 0 0 282.64 163.93Z" fill="#f0027f"/>
<circle cx="233.6" cy="123.2" r="3.25" fill="#7fc97f"/><path d="M233.6 123.2L236.85 123.20A3.25 3.25 0 0 0 236.76 122.44Z" fill="#bf5b17"/><path d="M233.6 123.2L236.76 122.44A3.25 3.25 0 0 0 234.15 120.00Z" fill="#f0027f"/><path d="M233.6 123.2L234.15 120.00A3.25 3.25 0 0 0 230.55 122.08Z" fill="#386cb0"/>
<circle cx="230.8" cy="194.8" r="3.25" fill="#7fc97f"/><path d="M230.8 194.8L234.08 194.80A3.25 3.25 0 0 0 234.00 194.08Z" fill="#386cb0"/>
<circle cx="255.8" cy="215.8" r="3.25" fill="#7fc97f"/><path d="M255.8 215.8L259.06 215.81A3.25 3.25 0 0 0 258.70 214.33Z" fill="#bf5b17"/><path d="M255.8 215.8L258.70 214.33A3.25 3.25 0 0 0 255.37 212.59Z" fill="#f0027f"/><path d="M255.8 215.8L255.37 212.59A3.25 3.25 0 0 0 253.01 214.16Z" fill="#386cb0"/>
<circle cx="194.2" cy="171.2" r="3.25" fill="#7fc97f"/><path d="M194.2 171.2L197.47 171.22A3.25 3.25 0 0 0 193.34 168.09Z" fill="#f0027f"/><path d="M194.2 171.2L193.34 168.09A3.25 3.25 0 0 0 190.98 171.47Z" fill="#fdc086"/>
<circle cx="217" cy="138" r="3.25" fill="#7fc97f"/><path d="M217 138L220.29 138.01A3.25 3.25 0 0 0 220.15 137.06Z" fill="#bf5b17"/><path d="M217 138L220.15 137.06A3.25 3.25 0 0 0 219.87 136.42Z" fill="#f0027f"/><path d="M217 138L219.87 136.42A3.25 3.25 0 0 0 216.07 134.91Z" fill="#386cb0"/>
<circle cx="293.2" cy="173.4" r="3.25" fill="#7fc97f"/><path d="M293.2 173.4L296.50 173.40A3.25 3.25 0 0 0 290.07 172.70Z" fill="#bf5b17"/>
<circle cx="205.6" cy="127.3" r="3.25" fill="#7fc97f"/><path d="M205.6 127.3L208.83 127.29A3.25 3.25 0 0 0 206.20 124.10Z" fill="#bf5b17"/><path d="M205.6 127.3L206.20 124.10A3.25 3.25 0 0 0 202.73 125.73Z" fill="#f0027f"/><path d="M205.6 127.3L202.73 125.73A3.25 3.25 0 0 0 202.45 126.41Z" fill="#386cb0"/><path d="M205.6 127.3L202.45 126.41A3.25 3.25 0 0 0 202.35 127.67Z" fill="#fdc086"/>
<circle cx="205" cy="204" r="3.25" fill="#7fc97f"/><path d="M205 204L208.24 204.04A3.25 3.25 0 0 0 202.07 202.60Z" fill="#fdc086"/>
<circle cx="293.9" cy="185.5" r="3.25" fill="#7fc97f"/><path d="M293.9 185.5L297.16 185.54A3.25 3.25 0 0 0 295.14 182.54Z" fill="#bf5b17"/><path d="M293.9 185.5L295.14 182.54A3.25 3.25 0 0 0 291.75 183.11Z" fill="#f0027f"/><path d="M293.9 185.5L291.75 183.11A3.25 3.25 0 0 0 290.93 184.23Z" fill="#fdc086"/>
<circle cx="268.4" cy="211.2" r="3.25" fill="#7fc97f"/><path d="M268.4 211.2L271.63 211.25A3.25 3.25 0 0 0 271.24 209.72Z" fill="#f0027f"/><path d="M268.4 211.2L271.24 209.72A3.25 3.25 0 0 0 267.10 208.26Z" fill="#386cb0"/>
<circle cx="304.6" cy="186" r="3.25" fill="#7fc97f"/><path d="M304.6 186L307.89 186.00A3.25 3.25 0 0 0 301.40 185.78Z" fill="#bf5b17"/><path d="M304.6 186L301.40 185.78A3.25 3.25 0 0 0 301.58 187.10Z" fill="#fdc086"/>
<circle cx="188.2" cy="192.2" r="3.25" fill="#7fc97f"/><path d="M188.2 192.2L191.47 192.23A3.25 3.25 0 0 0 189.33 189.18Z" fill="#f0027f"/><path d="M188.2 192.2L189.33 189.18A3.25 3.25 0 0 0 185.20 193.43Z" fill="#fdc086"/>
<circle cx="300.2" cy="177.2" r="3.25" fill="#7fc97f"/><path d="M300.2 177.2L303.48 177.22A3.25 3.25 0 0 0 300.05 173.98Z" fill="#bf5b17"/><path d="M300.2 177.2L300.05 173.98A3.25 3.25 0 0 0 297.11 176.32Z" fill="#386cb0"/>
<circle cx="160.5" cy="193.4" r="3.25" fill="#7fc97f"/><path d="M160.5 193.4L163.74 193.41A3.25 3.25 0 0 0 157.56 192.00Z" fill="#fdc086"/>
<circle cx="252.8" cy="191.6" r="3.25" fill="#7fc97f"/><path d="M252.8 191.6L256.06 191.63A3.25 3.25 0 0 0 255.76 190.26Z" fill="#f0027f"/><path d="M252.8 191.6L255.76 190.26A3.25 3.25 0 0 0 249.73 190.58Z" fill="#386cb0"/>
<circle cx="211.3" cy="132.7" r="3.25" fill="#7fc97f"/><path d="M211.3 132.7L214.51 132.70A3.25 3.25 0 0 0 210.56 129.53Z" fill="#bf5b17"/><path d="M211.3 132.7L210.56 129.53A3.25 3.25 0 0 0 209.62 129.89Z" fill="#386cb0"/>
<circle cx="285.7" cy="183.8" r="3.25" fill="#7fc97f"/><path d="M285.7 183.8L288.90 183.79A3.25 3.25 0 0 0 285.42 180.54Z" fill="#f0027f"/><path d="M285.7 183.8L285.42 180.54A3.25 3.25 0 0 0 282.91 185.53Z" fill="#386cb0"/>
<circle cx="236.6" cy="235" r="3.25" fill="#7fc97f"/><path d="M236.6 235L239.85 235.02A3.25 3.25 0 0 0 239.64 233.88Z" fill="#f0027f"/><path d="M236.6 235L239.64 233.88A3.25 3.25 0 0 0 233.38 234.62Z" fill="#fdc086"/>
<circle cx="167.8" cy="143.6" r="3.25" fill="#7fc97f"/><path d="M167.8 143.6L171.06 143.61A3.25 3.25 0 0 0 169.43 140.79Z" fill="#bf5b17"/><path d="M167.8 143.6L169.43 140.79A3.25 3.25 0 0 0 164.99 141.99Z" fill="#f0027f"/>
<circle cx="159.4" cy="194.8" r="3.25" fill="#7fc97f"/><path d="M159.4 194.8L162.65 194.80A3.25 3.25 0 0 0 162.51 193.83Z" fill="#bf5b17"/><path d="M159.4 194.8L162.51 193.83A3.25 3.25 0 0 0 156.74 192.95Z" fill="#f0027f"/><path d="M159.4 194.8L156.74 192.95A3.25 3.25 0 0 0 156.41 193.54Z" fill="#fdc086"/>
<circle cx="236.6" cy="144.8" r="3.25" fill="#7fc97f"/><path d="M236.6 144.8L239.85 144.81A3.25 3.25 0 0 0 239.80 144.23Z" fill="#f0027f"/><path d="M236.6 144.8L239.80 144.23A3.25 3.25 0 0 0 237.51 141.69Z" fill="#386cb0"/>
<circle cx="205" cy="134.6" r="3.25" fill="#7fc97f"/><path d="M205 134.6L208.27 134.61A3.25 3.25 0 0 0 204.66 131.38Z" fill="#bf5b17"/><path d="M205 134.6L204.66 131.38A3.25 3.25 0 0 0 202.09 133.21Z" fill="#386cb0"/><path d="M205 134.6L202.09 133.21A3.25 3.25 0 0 0 201.78 134.49Z" fill="#fdc086"/>
<circle cx="189.6" cy="188" r="3.25" fill="#7fc97f"/><path d="M189.6 188L192.83 188.00A3.25 3.25 0 0 0 187.24 185.75Z" fill="#fdc086"/>
<circle cx="209.8" cy="176.6" r="3.25" fill="#7fc97f"/><path d="M209.8 176.6L213.07 176.62A3.25 3.25 0 0 0 213.03 176.08Z" fill="#bf5b17"/><path d="M209.8 176.6L213.03 176.08A3.25 3.25 0 0 0 210.60 173.47Z" fill="#386cb0"/><path d="M209.8 176.6L210.60 173.47A3.25 3.25 0 0 0 206.58 176.78Z" fill="#fdc086"/>
<circle cx="223" cy="256" r="3.25" fill="#7fc97f"/><path d="M223 256L226.28 256.03A3.25 3.25 0 1 0 222.89 259.27Z" fill="#fdc086"/>
<circle cx="298.4" cy="180.2" r="3.25" fill="#7fc97f"/><path d="M298.4 180.2L301.68 180.23A3.25 3.25 0 0 0 300.32 177.58Z" fill="#bf5b17"/><path d="M298.4 180.2L300.32 177.58A3.25 3.25 0 0 0 299.53 177.17Z" fill="#f0027f"/><path d="M298.4 180.2L299.53 177.17A3.25 3.25 0 0 0 296.33 177.74Z" fill="#386cb0"/>
<circle cx="164.8" cy="180.8" r="3.25" fill="#7fc97f"/><path d="M164.8 180.8L168.06 180.83A3.25 3.25 0 0 0 166.54 178.08Z" fill="#f0027f"/><path d="M164.8 180.8L166.54 178.08A3.25 3.25 0 0 0 162.57 178.46Z" fill="#386cb0"/><path d="M164.8 180.8L162.57 178.46A3.25 3.25 0 0 0 161.85 179.48Z" fill="#fdc086"/>
<circle cx="299.2" cy="208.6" r="3.25" fill="#7fc97f"/><path d="M299.2 208.6L302.48 208.61A3.25 3.25 0 1 0 295.98 208.64Z" fill="#bf5b17"/>
<circle cx="230.9" cy="125.4" r="3.25" fill="#7fc97f"/><path d="M230.9 125.4L234.12 125.39A3.25 3.25 0 0 0 230.97 122.14Z" fill="#f0027f"/><path d="M230.9 125.4L230.97 122.14A3.25 3.25 0 0 0 227.89 124.09Z" fill="#386cb0"/><path d="M230.9 125.4L227.89 124.09A3.25 3.25 0 0 0 227.73 124.57Z" fill="#fdc086"/>
<circle cx="190.9" cy="195.6" r="3.25" fill="#7fc97f"/><path d="M190.9 195.6L194.11 195.61A3.25 3.25 0 0 0 193.98 194.70Z" fill="#bf5b17"/><path d="M190.9 195.6L193.98 194.70A3.25 3.25 0 0 0 193.83 194.27Z" fill="#f0027f"/><path d="M190.9 195.6L193.83 194.27A3.25 3.25 0 0 0 188.28 193.63Z" fill="#fdc086"/>
<circle cx="206.8" cy="211" r="3.25" fill="#7fc97f"/><path d="M206.8 211L210.07 211.01A3.25 3.25 0 0 0 210.05 210.58Z" fill="#bf5b17"/><path d="M206.8 211L210.05 210.58A3.25 3.25 0 0 0 203.93 209.53Z" fill="#f0027f"/><path d="M206.8 211L203.93 209.53A3.25 3.25 0 0 0 203.73 210.01Z" fill="#386cb0"/>
<circle cx="304.2" cy="215.7" r="3.25" fill="#7fc97f"/><path d="M304.2 215.7L307.49 215.75A3.25 3.25 0 0 0 300.99 215.71Z" fill="#bf5b17"/>
<circle cx="213.4" cy="212.8" r="3.25" fill="#7fc97f"/><path d="M213.4 212.8L216.68 212.81A3.25 3.25 0 0 0 216.63 212.23Z" fill="#bf5b17"/><path d="M213.4 212.8L216.63 212.23A3.25 3.25 0 0 0 213.85 209.59Z" fill="#f0027f"/><path d="M213.4 212.8L213.85 209.59A3.25 3.25 0 0 0 213.27 209.56Z" fill="#386cb0"/><path d="M213.4 212.8L213.27 209.56A3.25 3.25 0 0 0 212.48 215.92Z" fill="#fdc086"/>
<circle cx="224.8" cy="215.1" r="3.25" fill="#7fc97f"/><path d="M224.8 215.1L228.01 215.08A3.25 3.25 0 0 0 223.58 212.05Z" fill="#386cb0"/>
<circle cx="234.2" cy="178.4" r="3.25" fill="#7fc97f"/><path d="M234.2 178.4L237.45 178.42A3.25 3.25 0 0 0 231.95 176.08Z" fill="#f0027f"/><path d="M234.2 178.4L231.95 176.08A3.25 3.25 0 0 0 231.20 177.17Z" fill="#386cb0"/>
<circle cx="205" cy="185.6" r="3.25" fill="#7fc97f"/><path d="M205 185.6L208.27 185.63A3.25 3.25 0 0 0 208.22 185.04Z" fill="#bf5b17"/><path d="M205 185.6L208.22 185.04A3.25 3.25 0 0 0 205.83 182.48Z" fill="#386cb0"/><path d="M205 185.6L205.83 182.48A3.25 3.25 0 0 0 202.25 183.92Z" fill="#fdc086"/>
<circle cx="188.8" cy="206.8" r="3.25" fill="#7fc97f"/><path d="M188.8 206.8L192.07 206.81A3.25 3.25 0 0 0 185.57 206.63Z" fill="#fdc086"/>
<circle cx="184.3" cy="213.9" r="3.25" fill="#7fc97f"/><path d="M184.3 213.9L187.51 213.89A3.25 3.25 0 0 0 187.24 212.59Z" fill="#fdc086"/>
<circle cx="197.2" cy="165.8" r="3.25" fill="#7fc97f"/><path d="M197.2 165.8L200.47 165.82A3.25 3.25 0 0 0 199.72 163.75Z" fill="#f0027f"/><path d="M197.2 165.8L199.72 163.75A3.25 3.25 0 0 0 198.30 162.76Z" fill="#fdc086"/>
<circle cx="236" cy="265" r="3.25" fill="#7fc97f"/><path d="M236 265L239.25 264.98A3.25 3.25 0 0 0 239.17 264.24Z" fill="#bf5b17"/><path d="M236 265L239.17 264.24A3.25 3.25 0 0 0 237.35 262.02Z" fill="#386cb0"/><path d="M236 265L237.35 262.02A3.25 3.25 0 0 0 234.63 267.92Z" fill="#fdc086"/>
<circle cx="229.6" cy="128" r="3.25" fill="#7fc97f"/><path d="M229.6 128L232.88 128.00A3.25 3.25 0 0 0 229.27 124.78Z" fill="#bf5b17"/>
<circle cx="238.4" cy="131" r="3.25" fill="#7fc97f"/><path d="M238.4 131L241.65 131.01A3.25 3.25 0 0 0 235.69 129.21Z" fill="#bf5b17"/><path d="M238.4 131L235.69 129.21A3.25 3.25 0 0 0 235.25 130.20Z" fill="#386cb0"/><path d="M238.4 131L235.25 130.20A3.25 3.25 0 0 0 235.15 131.06Z" fill="#fdc086"/>
<circle cx="229" cy="230.2" r="3.25" fill="#7fc97f"/><path d="M229 230.2L232.28 230.21A3.25 3.25 0 0 0 230.76 227.46Z" fill="#f0027f"/><path d="M229 230.2L230.76 227.46A3.25 3.25 0 1 0 227.76 233.21Z" fill="#fdc086"/>
<circle cx="210.4" cy="204.4" r="3.25" fill="#7fc97f"/><path d="M210.4 204.4L213.67 204.40A3.25 3.25 0 0 0 213.45 203.21Z" fill="#bf5b17"/><path d="M210.4 204.4L213.45 203.21A3.25 3.25 0 0 0 212.65 202.03Z" fill="#f0027f"/><path d="M210.4 204.4L212.65 202.03A3.25 3.25 0 0 0 209.65 201.25Z" fill="#386cb0"/>
<circle cx="267.2" cy="202.6" r="3.25" fill="#7fc97f"/><path d="M267.2 202.6L270.46 202.60A3.25 3.25 0 0 0 267.10 199.36Z" fill="#386cb0"/>
<circle cx="248.6" cy="143" r="3.25" fill="#7fc97f"/><path d="M248.6 143L251.86 143.01A3.25 3.25 0 0 0 248.55 139.76Z" fill="#bf5b17"/><path d="M248.6 143L248.55 139.76A3.25 3.25 0 0 0 245.80 141.38Z" fill="#386cb0"/>
<circle cx="238.1" cy="214.3" r="3.25" fill="#7fc97f"/><path d="M238.1 214.3L241.40 214.30A3.25 3.25 0 0 0 241.28 213.41Z" fill="#bf5b17"/><path d="M238.1 214.3L241.28 213.41A3.25 3.25 0 1 0 236.50 217.10Z" fill="#fdc086"/>
<circle cx="288.2" cy="179.6" r="3.25" fill="#7fc97f"/><path d="M288.2 179.6L291.47 179.63A3.25 3.25 0 0 0 288.83 176.43Z" fill="#f0027f"/><path d="M288.2 179.6L288.83 176.43A3.25 3.25 0 0 0 285.00 179.19Z" fill="#386cb0"/>
<circle cx="163.6" cy="150.8" r="3.25" fill="#7fc97f"/><path d="M163.6 150.8L166.86 150.81A3.25 3.25 0 0 0 164.02 147.59Z" fill="#bf5b17"/><path d="M163.6 150.8L164.02 147.59A3.25 3.25 0 0 0 163.09 147.61Z" fill="#fdc086"/>
<circle cx="211.6" cy="209.8" r="3.25" fill="#7fc97f"/><path d="M211.6 209.8L214.88 209.81A3.25 3.25 0 0 0 214.80 209.10Z" fill="#bf5b17"/><path d="M211.6 209.8L214.80 209.10A3.25 3.25 0 0 0 212.86 206.80Z" fill="#f0027f"/><path d="M211.6 209.8L212.86 206.80A3.25 3.25 0 0 0 209.18 207.67Z" fill="#386cb0"/><path d="M211.6 209.8L209.18 207.67A3.25 3.25 0 0 0 208.63 208.56Z" fill="#fdc086"/>
<circle cx="217.7" cy="131.4" r="3.25" fill="#7fc97f"/><path d="M217.7 131.4L220.96 131.42A3.25 3.25 0 0 0 217.31 128.19Z" fill="#bf5b17"/><path d="M217.7 131.4L217.31 128.19A3.25 3.25 0 0 0 215.74 128.83Z" fill="#fdc086"/>
<circle cx="223" cy="167" r="3.25" fill="#7fc97f"/><path d="M223 167L226.28 167.02A3.25 3.25 0 0 0 223.10 163.77Z" fill="#f0027f"/><path d="M223 167L223.10 163.77A3.25 3.25 0 0 0 219.87 166.25Z" fill="#fdc086"/>
<circle cx="261.2" cy="220.6" r="3.25" fill="#7fc97f"/><path d="M261.2 220.6L264.46 220.61A3.25 3.25 0 0 0 264.19 219.31Z" fill="#f0027f"/><path d="M261.2 220.6L264.19 219.31A3.25 3.25 0 0 0 262.57 217.66Z" fill="#386cb0"/><path d="M261.2 220.6L262.57 217.66A3.25 3.25 0 0 0 261.71 217.40Z" fill="#fdc086"/>
<circle cx="190.9" cy="210" r="3.25" fill="#7fc97f"/><path d="M190.9 210L194.16 210.02A3.25 3.25 0 0 0 191.92 206.93Z" fill="#f0027f"/><path d="M190.9 210L191.92 206.93A3.25 3.25 0 0 0 190.69 206.77Z" fill="#fdc086"/>
<circle cx="309" cy="225" r="3.25" fill="#7fc97f"/><path d="M309 225L312.23 225.00A3.25 3.25 0 0 0 309.24 221.76Z" fill="#bf5b17"/><path d="M309 225L309.24 221.76A3.25 3.25 0 0 0 307.71 222.01Z" fill="#f0027f"/><path d="M309 225L307.71 222.01A3.25 3.25 0 0 0 305.87 225.97Z" fill="#386cb0"/>
<circle cx="158.2" cy="197.8" r="3.25" fill="#7fc97f"/><path d="M158.2 197.8L161.45 197.80A3.25 3.25 0 0 0 161.38 197.12Z" fill="#f0027f"/><path d="M158.2 197.8L161.38 197.12A3.25 3.25 0 0 0 160.87 195.94Z" fill="#386cb0"/><path d="M158.2 197.8L160.87 195.94A3.25 3.25 0 0 0 155.53 195.95Z" fill="#fdc086"/>
<circle cx="265.4" cy="186.2" r="3.25" fill="#7fc97f"/>
<circle cx="167.2" cy="197.2" r="3.25" fill="#7fc97f"/><path d="M167.2 197.2L170.46 197.20A3.25 3.25 0 0 0 168.48 194.21Z" fill="#f0027f"/><path d="M167.2 197.2L168.48 194.21A3.25 3.25 0 0 0 167.39 193.96Z" fill="#386cb0"/><path d="M167.2 197.2L167.39 193.96A3.25 3.25 0 0 0 163.96 197.00Z" fill="#fdc086"/>
<circle cx="231.4" cy="206.8" r="3.25" fill="#7fc97f"/><path d="M231.4 206.8L234.68 206.81A3.25 3.25 0 0 0 228.18 206.76Z" fill="#386cb0"/><path d="M231.4 206.8L228.18 206.76A3.25 3.25 0 0 0 228.23 207.33Z" fill="#fdc086"/>
<circle cx="217" cy="167.6" r="3.25" fill="#7fc97f"/><path d="M217 167.6L220.28 167.62A3.25 3.25 0 0 0 220.24 167.16Z" fill="#bf5b17"/><path d="M217 167.6L220.24 167.16A3.25 3.25 0 0 0 218.55 164.75Z" fill="#f0027f"/><path d="M217 167.6L218.55 164.75A3.25 3.25 0 0 0 213.97 166.51Z" fill="#fdc086"/>
<circle cx="205" cy="200.8" r="3.25" fill="#7fc97f"/><path d="M205 200.8L208.27 200.80A3.25 3.25 0 1 0 201.92 201.77Z" fill="#fdc086"/>
<circle cx="238.7" cy="202.6" r="3.25" fill="#7fc97f"/><path d="M238.7 202.6L241.93 202.63A3.25 3.25 0 0 0 239.54 199.50Z" fill="#386cb0"/><path d="M238.7 202.6L239.54 199.50A3.25 3.25 0 0 0 235.56 201.74Z" fill="#fdc086"/>
<circle cx="202" cy="165.2" r="3.25" fill="#7fc97f"/><path d="M202 165.2L205.27 165.22A3.25 3.25 0 0 0 201.68 161.99Z" fill="#f0027f"/><path d="M202 165.2L201.68 161.99A3.25 3.25 0 0 0 199.68 162.96Z" fill="#386cb0"/>
<circle cx="169.1" cy="202.4" r="3.25" fill="#7fc97f"/><path d="M169.1 202.4L172.36 202.44A3.25 3.25 0 0 0 168.08 199.36Z" fill="#f0027f"/><path d="M169.1 202.4L168.08 199.36A3.25 3.25 0 0 0 166.06 201.35Z" fill="#386cb0"/><path d="M169.1 202.4L166.06 201.35A3.25 3.25 0 0 0 165.88 202.10Z" fill="#fdc086"/>
</g>
<text x="127" y="121" font-size="18.7" text-anchor="start" font-weight="bold">A</text>
<text x="233.0" y="282.2" font-size="10.4" text-anchor="middle">UMAP dimension 1</text>
<text transform="translate(145.9 194.2) rotate(-90)" font-size="10.4" text-anchor="middle">UMAP dimension 2</text>
<rect x="423.5" y="116.5" width="168.20000000000005" height="156.0" fill="none" stroke="#999" stroke-width="1"/>
<g>
<circle cx="442.2" cy="227.2" r="3.25" fill="#8da0cb"/><path d="M442.2 227.2L445.46 227.21A3.25 3.25 0 0 0 445.40 226.63Z" fill="#fc8d62"/><path d="M442.2 227.2L445.40 226.63A3.25 3.25 0 0 0 445.28 226.14Z" fill="#b3b3b3"/><path d="M442.2 227.2L445.28 226.14A3.25 3.25 0 0 0 445.07 225.68Z" fill="#ffd92f"/><path d="M442.2 227.2L445.07 225.68A3.25 3.25 0 0 0 444.61 225.03Z" fill="#e78ac3"/>
<circle cx="447" cy="202.6" r="3.25" fill="#8da0cb"/><path d="M447 202.6L450.26 202.60A3.25 3.25 0 0 0 450.14 201.72Z" fill="#fc8d62"/><path d="M447 202.6L450.14 201.72A3.25 3.25 0 0 0 449.24 200.24Z" fill="#e5c494"/>
<circle cx="536.2" cy="216.4" r="3.25" fill="#8da0cb"/><path d="M536.2 216.4L539.46 216.41A3.25 3.25 0 0 0 536.85 213.22Z" fill="#b3b3b3"/><path d="M536.2 216.4L536.85 213.22A3.25 3.25 0 0 0 532.99 216.01Z" fill="#ffd92f"/><path d="M536.2 216.4L532.99 216.01A3.25 3.25 0 0 0 533.11 217.37Z" fill="#66c2a5"/><path d="M536.2 216.4L533.11 217.37A3.25 3.25 0 0 0 537.81 219.24Z" fill="#e78ac3"/>
<circle cx="545.2" cy="201.4" r="3.25" fill="#8da0cb"/><path d="M545.2 201.4L548.46 201.40A3.25 3.25 0 0 0 544.36 198.27Z" fill="#fc8d62"/><path d="M545.2 201.4L544.36 198.27A3.25 3.25 0 0 0 543.32 198.76Z" fill="#e5c494"/><path d="M545.2 201.4L543.32 198.76A3.25 3.25 0 0 0 542.10 202.34Z" fill="#b3b3b3"/><path d="M545.2 201.4L542.10 202.34A3.25 3.25 0 0 0 545.77 204.61Z" fill="#ffd92f"/><path d="M545.2 201.4L545.77 204.61A3.25 3.25 0 0 0 546.50 204.39Z" fill="#a6d854"/><path d="M545.2 201.4L546.50 204.39A3.25 3.25 0 0 0 547.48 203.74Z" fill="#e78ac3"/>
<circle cx="445.2" cy="177.2" r="3.25" fill="#8da0cb"/><path d="M445.2 177.2L448.46 177.22A3.25 3.25 0 0 0 447.76 175.21Z" fill="#fc8d62"/><path d="M445.2 177.2L447.76 175.21A3.25 3.25 0 0 0 447.07 174.56Z" fill="#e5c494"/><path d="M445.2 177.2L447.07 174.56A3.25 3.25 0 0 0 446.43 174.21Z" fill="#b3b3b3"/><path d="M445.2 177.2L446.43 174.21A3.25 3.25 0 0 0 445.63 174.00Z" fill="#ffd92f"/>
<circle cx="471" cy="178.4" r="3.25" fill="#8da0cb"/><path d="M471 178.4L474.27 178.42A3.25 3.25 0 0 0 474.16 177.58Z" fill="#b3b3b3"/><path d="M471 178.4L474.16 177.58A3.25 3.25 0 0 0 472.59 175.58Z" fill="#a6d854"/><path d="M471 178.4L472.59 175.58A3.25 3.25 0 0 0 472.14 175.38Z" fill="#66c2a5"/>
<circle cx="574.6" cy="202" r="3.25" fill="#8da0cb"/><path d="M574.6 202L577.88 202.00A3.25 3.25 0 0 0 577.45 200.40Z" fill="#fc8d62"/><path d="M574.6 202L577.45 200.40A3.25 3.25 0 0 0 573.15 199.11Z" fill="#e5c494"/><path d="M574.6 202L573.15 199.11A3.25 3.25 0 0 0 571.52 202.96Z" fill="#ffd92f"/><path d="M574.6 202L571.52 202.96A3.25 3.25 0 0 0 575.88 205.00Z" fill="#66c2a5"/><path d="M574.6 202L575.88 205.00A3.25 3.25 0 0 0 576.94 204.29Z" fill="#e78ac3"/>
<circle cx="547" cy="236.2" r="3.25" fill="#8da0cb"/><path d="M547 236.2L550.27 236.22A3.25 3.25 0 0 0 546.69 232.98Z" fill="#fc8d62"/><path d="M547 236.2L546.69 232.98A3.25 3.25 0 0 0 545.88 233.17Z" fill="#e5c494"/><path d="M547 236.2L545.88 233.17A3.25 3.25 0 0 0 545.43 233.38Z" fill="#ffd92f"/><path d="M547 236.2L545.43 233.38A3.25 3.25 0 0 0 543.99 237.40Z" fill="#e78ac3"/>
<circle cx="467.4" cy="230.8" r="3.25" fill="#8da0cb"/><path d="M467.4 230.8L470.67 230.82A3.25 3.25 0 0 0 466.44 227.71Z" fill="#ffd92f"/><path d="M467.4 230.8L466.44 227.71A3.25 3.25 0 0 0 465.71 228.05Z" fill="#a6d854"/><path d="M467.4 230.8L465.71 228.05A3.25 3.25 0 0 0 464.45 232.15Z" fill="#66c2a5"/><path d="M467.4 230.8L464.45 232.15A3.25 3.25 0 0 0 464.84 232.79Z" fill="#e78ac3"/>
<circle cx="521.8" cy="182" r="3.25" fill="#8da0cb"/><path d="M521.8 182L525.06 182.03A3.25 3.25 0 0 0 522.06 178.79Z" fill="#fc8d62"/><path d="M521.8 182L522.06 178.79A3.25 3.25 0 0 0 521.46 178.80Z" fill="#e5c494"/><path d="M521.8 182L521.46 178.80A3.25 3.25 0 0 0 518.56 182.03Z" fill="#b3b3b3"/><path d="M521.8 182L518.56 182.03A3.25 3.25 0 0 0 518.89 183.47Z" fill="#ffd92f"/><path d="M521.8 182L518.89 183.47A3.25 3.25 0 0 0 519.66 184.47Z" fill="#a6d854"/>
<circle cx="553.6" cy="218.8" r="3.25" fill="#8da0cb"/><path d="M553.6 218.8L556.87 218.81A3.25 3.25 0 0 0 556.81 218.17Z" fill="#fc8d62"/><path d="M553.6 218.8L556.81 218.17A3.25 3.25 0 0 0 550.57 217.67Z" fill="#b3b3b3"/><path d="M553.6 218.8L550.57 217.67A3.25 3.25 0 0 0 554.40 221.97Z" fill="#a6d854"/><path d="M553.6 218.8L554.40 221.97A3.25 3.25 0 0 0 555.69 221.31Z" fill="#e78ac3"/>
<circle cx="562" cy="209.2" r="3.25" fill="#8da0cb"/><path d="M562 209.2L565.27 209.21A3.25 3.25 0 0 0 565.14 208.30Z" fill="#e5c494"/><path d="M562 209.2L565.14 208.30A3.25 3.25 0 0 0 561.17 206.07Z" fill="#b3b3b3"/><path d="M562 209.2L561.17 206.07A3.25 3.25 0 0 0 559.90 206.75Z" fill="#ffd92f"/><path d="M562 209.2L559.90 206.75A3.25 3.25 0 0 0 559.20 207.59Z" fill="#a6d854"/><path d="M562 209.2L559.20 207.59A3.25 3.25 0 0 0 558.98 210.36Z" fill="#66c2a5"/><path d="M562 209.2L558.98 210.36A3.25 3.25 0 0 0 564.27 211.55Z" fill="#e78ac3"/>
<circle cx="480" cy="227.8" r="3.25" fill="#8da0cb"/><path d="M480 227.8L483.27 227.81A3.25 3.25 0 0 0 483.24 227.37Z" fill="#b3b3b3"/><path d="M480 227.8L483.24 227.37A3.25 3.25 0 0 0 477.50 225.76Z" fill="#ffd92f"/><path d="M480 227.8L477.50 225.76A3.25 3.25 0 0 0 477.05 226.51Z" fill="#a6d854"/>
<circle cx="569.2" cy="189.2" r="3.25" fill="#8da0cb"/><path d="M569.2 189.2L572.47 189.23A3.25 3.25 0 0 0 572.45 188.80Z" fill="#e5c494"/><path d="M569.2 189.2L572.45 188.80A3.25 3.25 0 0 0 571.76 187.19Z" fill="#ffd92f"/><path d="M569.2 189.2L571.76 187.19A3.25 3.25 0 0 0 570.96 186.48Z" fill="#a6d854"/><path d="M569.2 189.2L570.96 186.48A3.25 3.25 0 1 0 571.25 191.77Z" fill="#e78ac3"/>
<circle cx="482.4" cy="146" r="3.25" fill="#8da0cb"/><path d="M482.4 146L485.61 146.03A3.25 3.25 0 0 0 484.81 143.90Z" fill="#e5c494"/><path d="M482.4 146L484.81 143.90A3.25 3.25 0 0 0 484.27 143.41Z" fill="#ffd92f"/><path d="M482.4 146L484.27 143.41A3.25 3.25 0 0 0 483.41 142.96Z" fill="#a6d854"/><path d="M482.4 146L483.41 142.96A3.25 3.25 0 0 0 482.93 142.83Z" fill="#66c2a5"/>
<circle cx="559.8" cy="182" r="3.25" fill="#8da0cb"/><path d="M559.8 182L563.09 181.97A3.25 3.25 0 0 0 562.81 180.64Z" fill="#e5c494"/><path d="M559.8 182L562.81 180.64A3.25 3.25 0 0 0 562.32 179.86Z" fill="#b3b3b3"/><path d="M559.8 182L562.32 179.86A3.25 3.25 0 0 0 558.64 178.95Z" fill="#a6d854"/><path d="M559.8 182L558.64 178.95A3.25 3.25 0 0 0 556.90 183.35Z" fill="#66c2a5"/><path d="M559.8 182L556.90 183.35A3.25 3.25 0 0 0 561.89 184.49Z" fill="#e78ac3"/>
<circle cx="559.6" cy="237.4" r="3.25" fill="#8da0cb"/><path d="M559.6 237.4L562.87 237.42A3.25 3.25 0 0 0 562.37 235.68Z" fill="#ffd92f"/><path d="M559.6 237.4L562.37 235.68A3.25 3.25 0 0 0 558.11 234.54Z" fill="#a6d854"/><path d="M559.6 237.4L558.11 234.54A3.25 3.25 0 0 0 557.08 239.45Z" fill="#e78ac3"/>
<circle cx="495.6" cy="223.6" r="3.25" fill="#8da0cb"/><path d="M495.6 223.6L498.88 223.61A3.25 3.25 0 0 0 493.09 221.58Z" fill="#fc8d62"/><path d="M495.6 223.6L493.09 221.58A3.25 3.25 0 0 0 495.52 226.86Z" fill="#e5c494"/><path d="M495.6 223.6L495.52 226.86A3.25 3.25 0 0 0 496.05 226.83Z" fill="#ffd92f"/><path d="M495.6 223.6L496.05 226.83A3.25 3.25 0 0 0 497.41 226.33Z" fill="#a6d854"/>
<circle cx="471" cy="162.2" r="3.25" fill="#8da0cb"/><path d="M471 162.2L474.27 162.22A3.25 3.25 0 0 0 474.24 161.79Z" fill="#fc8d62"/><path d="M471 162.2L474.24 161.79A3.25 3.25 0 0 0 474.14 161.30Z" fill="#e5c494"/><path d="M471 162.2L474.14 161.30A3.25 3.25 0 0 0 473.64 160.30Z" fill="#b3b3b3"/>
<circle cx="542.8" cy="245.2" r="3.25" fill="#8da0cb"/><path d="M542.8 245.2L546.06 245.22A3.25 3.25 0 0 0 539.60 244.76Z" fill="#fc8d62"/><path d="M542.8 245.2L539.60 244.76A3.25 3.25 0 0 0 539.57 245.47Z" fill="#e5c494"/><path d="M542.8 245.2L539.57 245.47A3.25 3.25 0 0 0 539.67 246.06Z" fill="#a6d854"/><path d="M542.8 245.2L539.67 246.06A3.25 3.25 0 0 0 544.40 248.06Z" fill="#e78ac3"/>
<circle cx="472.2" cy="223" r="3.25" fill="#8da0cb"/><path d="M472.2 223L475.47 223.01A3.25 3.25 0 0 0 475.42 222.46Z" fill="#e5c494"/><path d="M472.2 223L475.42 222.46A3.25 3.25 0 0 0 471.62 219.82Z" fill="#ffd92f"/><path d="M472.2 223L471.62 219.82A3.25 3.25 0 0 0 469.01 223.50Z" fill="#66c2a5"/><path d="M472.2 223L469.01 223.50A3.25 3.25 0 0 0 469.09 223.90Z" fill="#e78ac3"/>
<circle cx="474.6" cy="165.8" r="3.25" fill="#8da0cb"/><path d="M474.6 165.8L477.87 165.82A3.25 3.25 0 0 0 477.56 164.43Z" fill="#ffd92f"/><path d="M474.6 165.8L477.56 164.43A3.25 3.25 0 0 0 477.27 163.93Z" fill="#66c2a5"/><path d="M474.6 165.8L477.27 163.93A3.25 3.25 0 0 0 476.75 163.36Z" fill="#e78ac3"/>
<circle cx="551.8" cy="158" r="3.25" fill="#8da0cb"/><path d="M551.8 158L555.07 158.02A3.25 3.25 0 0 0 548.58 157.70Z" fill="#fc8d62"/><path d="M551.8 158L548.58 157.70A3.25 3.25 0 0 0 550.38 160.93Z" fill="#e5c494"/><path d="M551.8 158L550.38 160.93A3.25 3.25 0 0 0 552.16 161.25Z" fill="#b3b3b3"/><path d="M551.8 158L552.16 161.25A3.25 3.25 0 0 0 553.42 160.85Z" fill="#ffd92f"/><path d="M551.8 158L553.42 160.85A3.25 3.25 0 0 0 553.84 160.56Z" fill="#66c2a5"/>
<circle cx="566.8" cy="190.4" r="3.25" fill="#8da0cb"/><path d="M566.8 190.4L570.07 190.43A3.25 3.25 0 0 0 569.73 188.99Z" fill="#e5c494"/><path d="M566.8 190.4L569.73 188.99A3.25 3.25 0 0 0 568.79 187.84Z" fill="#b3b3b3"/><path d="M566.8 190.4L568.79 187.84A3.25 3.25 0 0 0 563.58 190.60Z" fill="#66c2a5"/><path d="M566.8 190.4L563.58 190.60A3.25 3.25 0 0 0 568.72 193.07Z" fill="#e78ac3"/>
<circle cx="495.6" cy="152" r="3.25" fill="#8da0cb"/><path d="M495.6 152L498.88 152.01A3.25 3.25 0 0 0 496.53 148.89Z" fill="#fc8d62"/><path d="M495.6 152L496.53 148.89A3.25 3.25 0 0 0 495.66 148.76Z" fill="#b3b3b3"/><path d="M495.6 152L495.66 148.76A3.25 3.25 0 0 0 492.45 151.34Z" fill="#ffd92f"/><path d="M495.6 152L492.45 151.34A3.25 3.25 0 0 0 492.40 152.36Z" fill="#e78ac3"/>
<circle cx="459.6" cy="173" r="3.25" fill="#8da0cb"/><path d="M459.6 173L462.86 173.02A3.25 3.25 0 0 0 462.84 172.59Z" fill="#fc8d62"/><path d="M459.6 173L462.84 172.59A3.25 3.25 0 0 0 462.68 171.93Z" fill="#ffd92f"/><path d="M459.6 173L462.68 171.93A3.25 3.25 0 0 0 462.43 171.40Z" fill="#a6d854"/><path d="M459.6 173L462.43 171.40A3.25 3.25 0 0 0 461.83 170.65Z" fill="#66c2a5"/>
<circle cx="519.4" cy="238.6" r="3.25" fill="#8da0cb"/><path d="M519.4 238.6L522.65 238.62A3.25 3.25 0 0 0 517.59 235.92Z" fill="#fc8d62"/><path d="M519.4 238.6L517.59 235.92A3.25 3.25 0 0 0 517.25 236.19Z" fill="#e5c494"/><path d="M519.4 238.6L517.25 236.19A3.25 3.25 0 0 0 516.58 237.00Z" fill="#ffd92f"/><path d="M519.4 238.6L516.58 237.00A3.25 3.25 0 0 0 519.67 241.86Z" fill="#a6d854"/><path d="M519.4 238.6L519.67 241.86A3.25 3.25 0 0 0 520.72 241.59Z" fill="#66c2a5"/><path d="M519.4 238.6L520.72 241.59A3.25 3.25 0 0 0 521.65 240.97Z" fill="#e78ac3"/>
<circle cx="488.4" cy="221.8" r="3.25" fill="#8da0cb"/><path d="M488.4 221.8L491.68 221.81A3.25 3.25 0 0 0 485.53 220.34Z" fill="#e5c494"/><path d="M488.4 221.8L485.53 220.34A3.25 3.25 0 0 0 489.04 225.00Z" fill="#ffd92f"/><path d="M488.4 221.8L489.04 225.00A3.25 3.25 0 0 0 489.59 224.85Z" fill="#a6d854"/><path d="M488.4 221.8L489.59 224.85A3.25 3.25 0 0 0 490.14 224.58Z" fill="#66c2a5"/>
<circle cx="531.4" cy="206.8" r="3.25" fill="#8da0cb"/><path d="M531.4 206.8L534.66 206.81A3.25 3.25 0 0 0 534.24 205.21Z" fill="#e5c494"/><path d="M531.4 206.8L534.24 205.21A3.25 3.25 0 0 0 533.56 204.37Z" fill="#b3b3b3"/><path d="M531.4 206.8L533.56 204.37A3.25 3.25 0 0 0 529.19 204.43Z" fill="#66c2a5"/><path d="M531.4 206.8L529.19 204.43A3.25 3.25 0 0 0 528.81 208.76Z" fill="#e78ac3"/>
<circle cx="535" cy="183.2" r="3.25" fill="#8da0cb"/><path d="M535 183.2L538.26 183.23A3.25 3.25 0 0 0 538.22 182.72Z" fill="#fc8d62"/><path d="M535 183.2L538.22 182.72A3.25 3.25 0 0 0 532.26 181.49Z" fill="#b3b3b3"/><path d="M535 183.2L532.26 181.49A3.25 3.25 0 0 0 534.67 186.46Z" fill="#a6d854"/><path d="M535 183.2L534.67 186.46A3.25 3.25 0 0 0 535.82 186.38Z" fill="#66c2a5"/><path d="M535 183.2L535.82 186.38A3.25 3.25 0 0 0 537.06 185.75Z" fill="#e78ac3"/>
<circle cx="554.8" cy="185" r="3.25" fill="#8da0cb"/><path d="M554.8 185L558.07 185.03A3.25 3.25 0 0 0 557.71 183.54Z" fill="#fc8d62"/><path d="M554.8 185L557.71 183.54A3.25 3.25 0 0 0 552.62 182.64Z" fill="#e5c494"/><path d="M554.8 185L552.62 182.64A3.25 3.25 0 0 0 554.44 188.26Z" fill="#ffd92f"/><path d="M554.8 185L554.44 188.26A3.25 3.25 0 0 0 555.22 188.25Z" fill="#a6d854"/><path d="M554.8 185L555.22 188.25A3.25 3.25 0 0 0 555.80 188.13Z" fill="#66c2a5"/><path d="M554.8 185L555.80 188.13A3.25 3.25 0 0 0 556.93 187.50Z" fill="#e78ac3"/>
<circle cx="558.4" cy="194.6" r="3.25" fill="#8da0cb"/><path d="M558.4 194.6L561.67 194.63A3.25 3.25 0 0 0 561.23 192.99Z" fill="#fc8d62"/><path d="M558.4 194.6L561.23 192.99A3.25 3.25 0 0 0 560.92 192.55Z" fill="#b3b3b3"/><path d="M558.4 194.6L560.92 192.55A3.25 3.25 0 0 0 555.48 193.25Z" fill="#a6d854"/><path d="M558.4 194.6L555.48 193.25A3.25 3.25 0 0 0 555.19 194.27Z" fill="#66c2a5"/><path d="M558.4 194.6L555.19 194.27A3.25 3.25 0 0 0 560.58 197.06Z" fill="#e78ac3"/>
<circle cx="460.8" cy="233.2" r="3.25" fill="#8da0cb"/><path d="M460.8 233.2L464.07 233.22A3.25 3.25 0 0 0 459.75 230.14Z" fill="#e5c494"/><path d="M460.8 233.2L459.75 230.14A3.25 3.25 0 0 0 459.07 230.47Z" fill="#66c2a5"/>
<circle cx="537.4" cy="170" r="3.25" fill="#8da0cb"/><path d="M537.4 170L540.66 170.02A3.25 3.25 0 0 0 538.63 167.01Z" fill="#e5c494"/><path d="M537.4 170L538.63 167.01A3.25 3.25 0 0 0 534.23 169.37Z" fill="#b3b3b3"/><path d="M537.4 170L534.23 169.37A3.25 3.25 0 0 0 534.22 170.64Z" fill="#ffd92f"/><path d="M537.4 170L534.22 170.64A3.25 3.25 0 0 0 534.68 171.78Z" fill="#a6d854"/><path d="M537.4 170L534.68 171.78A3.25 3.25 0 0 0 535.02 172.23Z" fill="#66c2a5"/><path d="M537.4 170L535.02 172.23A3.25 3.25 0 0 0 536.12 173.00Z" fill="#e78ac3"/>
<circle cx="507" cy="204.4" r="3.25" fill="#8da0cb"/><path d="M507 204.4L510.28 204.40A3.25 3.25 0 0 0 510.18 203.58Z" fill="#fc8d62"/><path d="M507 204.4L510.18 203.58A3.25 3.25 0 0 0 503.88 203.62Z" fill="#ffd92f"/><path d="M507 204.4L503.88 203.62A3.25 3.25 0 0 0 507.83 207.56Z" fill="#a6d854"/><path d="M507 204.4L507.83 207.56A3.25 3.25 0 0 0 508.69 207.20Z" fill="#e78ac3"/>
<circle cx="520" cy="242.8" r="3.25" fill="#8da0cb"/><path d="M520 242.8L523.25 242.82A3.25 3.25 0 0 0 522.95 241.44Z" fill="#b3b3b3"/><path d="M520 242.8L522.95 241.44A3.25 3.25 0 0 0 522.29 240.51Z" fill="#66c2a5"/><path d="M520 242.8L522.29 240.51A3.25 3.25 0 0 0 516.82 242.18Z" fill="#e78ac3"/>
<circle cx="552.4" cy="245.2" r="3.25" fill="#8da0cb"/><path d="M552.4 245.2L555.67 245.22A3.25 3.25 0 0 0 555.44 244.03Z" fill="#fc8d62"/><path d="M552.4 245.2L555.44 244.03A3.25 3.25 0 0 0 554.76 242.97Z" fill="#b3b3b3"/><path d="M552.4 245.2L554.76 242.97A3.25 3.25 0 0 0 549.74 243.38Z" fill="#ffd92f"/><path d="M552.4 245.2L549.74 243.38A3.25 3.25 0 0 0 553.05 248.41Z" fill="#a6d854"/><path d="M552.4 245.2L553.05 248.41A3.25 3.25 0 0 0 554.55 247.67Z" fill="#e78ac3"/>
<circle cx="469.8" cy="185" r="3.25" fill="#8da0cb"/><path d="M469.8 185L473.07 185.03A3.25 3.25 0 0 0 473.01 184.40Z" fill="#fc8d62"/><path d="M469.8 185L473.01 184.40A3.25 3.25 0 0 0 471.69 182.37Z" fill="#b3b3b3"/><path d="M469.8 185L471.69 182.37A3.25 3.25 0 0 0 469.17 181.84Z" fill="#ffd92f"/>
<circle cx="534.8" cy="125.6" r="3.25" fill="#8da0cb"/><path d="M534.8 125.6L538.03 125.61A3.25 3.25 0 0 0 537.69 124.17Z" fill="#fc8d62"/><path d="M534.8 125.6L537.69 124.17A3.25 3.25 0 0 0 537.29 123.55Z" fill="#e5c494"/><path d="M534.8 125.6L537.29 123.55A3.25 3.25 0 0 0 533.77 122.52Z" fill="#b3b3b3"/><path d="M534.8 125.6L533.77 122.52A3.25 3.25 0 0 0 532.59 123.20Z" fill="#ffd92f"/><path d="M534.8 125.6L532.59 123.20A3.25 3.25 0 0 0 532.01 123.90Z" fill="#a6d854"/><path d="M534.8 125.6L532.01 123.90A3.25 3.25 0 0 0 531.78 124.36Z" fill="#66c2a5"/><path d="M534.8 125.6L531.78 124.36A3.25 3.25 0 0 0 533.29 128.50Z" fill="#e78ac3"/>
<circle cx="468.6" cy="149" r="3.25" fill="#8da0cb"/><path d="M468.6 149L471.87 149.01A3.25 3.25 0 0 0 471.80 148.36Z" fill="#fc8d62"/><path d="M468.6 149L471.80 148.36A3.25 3.25 0 0 0 471.67 147.91Z" fill="#b3b3b3"/><path d="M468.6 149L471.67 147.91A3.25 3.25 0 0 0 470.50 146.37Z" fill="#a6d854"/>
<circle cx="573.4" cy="216.4" r="3.25" fill="#8da0cb"/><path d="M573.4 216.4L576.68 216.41A3.25 3.25 0 0 0 574.33 213.29Z" fill="#fc8d62"/><path d="M573.4 216.4L574.33 213.29A3.25 3.25 0 0 0 572.54 213.28Z" fill="#e5c494"/><path d="M573.4 216.4L572.54 213.28A3.25 3.25 0 0 0 570.75 218.26Z" fill="#a6d854"/><path d="M573.4 216.4L570.75 218.26A3.25 3.25 0 0 0 571.82 219.23Z" fill="#66c2a5"/>
<circle cx="505.8" cy="233.2" r="3.25" fill="#8da0cb"/><path d="M505.8 233.2L509.08 233.22A3.25 3.25 0 0 0 508.84 231.99Z" fill="#fc8d62"/><path d="M505.8 233.2L508.84 231.99A3.25 3.25 0 0 0 505.01 230.07Z" fill="#e5c494"/><path d="M505.8 233.2L505.01 230.07A3.25 3.25 0 0 0 502.76 234.27Z" fill="#ffd92f"/><path d="M505.8 233.2L502.76 234.27A3.25 3.25 0 0 0 507.08 236.22Z" fill="#a6d854"/><path d="M505.8 233.2L507.08 236.22A3.25 3.25 0 0 0 507.64 235.92Z" fill="#66c2a5"/>
<circle cx="478.8" cy="148.4" r="3.25" fill="#8da0cb"/><path d="M478.8 148.4L482.07 148.41A3.25 3.25 0 0 0 481.93 147.45Z" fill="#fc8d62"/><path d="M478.8 148.4L481.93 147.45A3.25 3.25 0 0 0 480.95 145.95Z" fill="#a6d854"/><path d="M478.8 148.4L480.95 145.95A3.25 3.25 0 0 0 477.62 145.39Z" fill="#66c2a5"/>
<circle cx="536.2" cy="257.8" r="3.25" fill="#8da0cb"/><path d="M536.2 257.8L539.46 257.83A3.25 3.25 0 0 0 536.94 254.66Z" fill="#fc8d62"/><path d="M536.2 257.8L536.94 254.66A3.25 3.25 0 0 0 533.23 256.53Z" fill="#e5c494"/><path d="M536.2 257.8L533.23 256.53A3.25 3.25 0 0 0 532.97 258.11Z" fill="#b3b3b3"/><path d="M536.2 257.8L532.97 258.11A3.25 3.25 0 0 0 533.06 258.63Z" fill="#a6d854"/><path d="M536.2 257.8L533.06 258.63A3.25 3.25 0 0 0 533.45 259.54Z" fill="#e78ac3"/>
<circle cx="584.2" cy="202.6" r="3.25" fill="#8da0cb"/><path d="M584.2 202.6L587.48 202.60A3.25 3.25 0 0 0 587.24 201.39Z" fill="#fc8d62"/><path d="M584.2 202.6L587.24 201.39A3.25 3.25 0 0 0 586.92 200.78Z" fill="#e5c494"/><path d="M584.2 202.6L586.92 200.78A3.25 3.25 0 0 0 583.08 199.56Z" fill="#66c2a5"/><path d="M584.2 202.6L583.08 199.56A3.25 3.25 0 0 0 582.60 205.42Z" fill="#e78ac3"/>
<circle cx="526" cy="203.2" r="3.25" fill="#8da0cb"/><path d="M526 203.2L529.26 203.20A3.25 3.25 0 0 0 528.98 201.90Z" fill="#fc8d62"/><path d="M526 203.2L528.98 201.90A3.25 3.25 0 0 0 528.27 200.87Z" fill="#e5c494"/><path d="M526 203.2L528.27 200.87A3.25 3.25 0 0 0 523.59 201.03Z" fill="#b3b3b3"/><path d="M526 203.2L523.59 201.03A3.25 3.25 0 0 0 522.96 202.08Z" fill="#ffd92f"/><path d="M526 203.2L522.96 202.08A3.25 3.25 0 0 0 522.80 202.68Z" fill="#a6d854"/><path d="M526 203.2L522.80 202.68A3.25 3.25 0 0 0 522.80 203.75Z" fill="#66c2a5"/>
<circle cx="542.8" cy="226.6" r="3.25" fill="#8da0cb"/><path d="M542.8 226.6L546.06 226.61A3.25 3.25 0 0 0 545.71 225.14Z" fill="#fc8d62"/><path d="M542.8 226.6L545.71 225.14A3.25 3.25 0 0 0 540.83 224.04Z" fill="#e5c494"/><path d="M542.8 226.6L540.83 224.04A3.25 3.25 0 0 0 540.01 224.97Z" fill="#b3b3b3"/><path d="M542.8 226.6L540.01 224.97A3.25 3.25 0 0 0 539.62 226.04Z" fill="#ffd92f"/><path d="M542.8 226.6L539.62 226.04A3.25 3.25 0 0 0 539.63 227.26Z" fill="#66c2a5"/>
<circle cx="479.4" cy="238" r="3.25" fill="#8da0cb"/><path d="M479.4 238L482.67 238.02A3.25 3.25 0 0 0 482.42 236.76Z" fill="#b3b3b3"/><path d="M479.4 238L482.42 236.76A3.25 3.25 0 0 0 482.20 236.33Z" fill="#a6d854"/><path d="M479.4 238L482.20 236.33A3.25 3.25 0 0 0 479.02 234.79Z" fill="#66c2a5"/>
<circle cx="548.2" cy="146.6" r="3.25" fill="#8da0cb"/><path d="M548.2 146.6L551.47 146.61A3.25 3.25 0 0 0 547.44 143.46Z" fill="#fc8d62"/><path d="M548.2 146.6L547.44 143.46A3.25 3.25 0 0 0 546.06 144.18Z" fill="#ffd92f"/><path d="M548.2 146.6L546.06 144.18A3.25 3.25 0 0 0 546.72 149.50Z" fill="#66c2a5"/><path d="M548.2 146.6L546.72 149.50A3.25 3.25 0 0 0 550.21 149.18Z" fill="#e78ac3"/>
<circle cx="539.8" cy="182.6" r="3.25" fill="#8da0cb"/><path d="M539.8 182.6L543.06 182.63A3.25 3.25 0 0 0 542.85 181.47Z" fill="#e5c494"/><path d="M539.8 182.6L542.85 181.47A3.25 3.25 0 0 0 541.83 180.08Z" fill="#b3b3b3"/><path d="M539.8 182.6L541.83 180.08A3.25 3.25 0 0 0 537.10 180.84Z" fill="#ffd92f"/><path d="M539.8 182.6L537.10 180.84A3.25 3.25 0 0 0 541.82 185.18Z" fill="#a6d854"/>
<circle cx="471.6" cy="205" r="3.25" fill="#8da0cb"/><path d="M471.6 205L474.87 205.00A3.25 3.25 0 0 0 474.83 204.51Z" fill="#b3b3b3"/><path d="M471.6 205L474.83 204.51A3.25 3.25 0 0 0 474.64 203.82Z" fill="#a6d854"/>
<circle cx="478.2" cy="167" r="3.25" fill="#8da0cb"/><path d="M478.2 167L481.47 167.02A3.25 3.25 0 0 0 480.56 164.76Z" fill="#fc8d62"/><path d="M478.2 167L480.56 164.76A3.25 3.25 0 0 0 477.76 163.80Z" fill="#e5c494"/><path d="M478.2 167L477.76 163.80A3.25 3.25 0 0 0 477.27 163.91Z" fill="#66c2a5"/>
<circle cx="459" cy="206.8" r="3.25" fill="#8da0cb"/><path d="M459 206.8L462.26 206.81A3.25 3.25 0 0 0 460.65 204.00Z" fill="#fc8d62"/><path d="M459 206.8L460.65 204.00A3.25 3.25 0 0 0 460.04 203.72Z" fill="#b3b3b3"/>
<circle cx="453.8" cy="172.5" r="3.25" fill="#8da0cb"/><path d="M453.8 172.5L457.10 172.51A3.25 3.25 0 0 0 457.07 172.09Z" fill="#e5c494"/><path d="M453.8 172.5L457.07 172.09A3.25 3.25 0 0 0 455.96 170.04Z" fill="#ffd92f"/><path d="M453.8 172.5L455.96 170.04A3.25 3.25 0 0 0 455.26 169.58Z" fill="#66c2a5"/>
<circle cx="447.6" cy="192.2" r="3.25" fill="#8da0cb"/>
<circle cx="468" cy="200.2" r="3.25" fill="#8da0cb"/><path d="M468 200.2L471.27 200.20A3.25 3.25 0 0 0 471.06 199.07Z" fill="#a6d854"/><path d="M468 200.2L471.06 199.07A3.25 3.25 0 0 0 470.75 198.43Z" fill="#66c2a5"/><path d="M468 200.2L470.75 198.43A3.25 3.25 0 0 0 470.36 197.95Z" fill="#e78ac3"/>
<circle cx="553" cy="232" r="3.25" fill="#8da0cb"/><path d="M553 232L556.27 232.02A3.25 3.25 0 0 0 556.12 231.06Z" fill="#fc8d62"/><path d="M553 232L556.12 231.06A3.25 3.25 0 0 0 555.60 230.05Z" fill="#e5c494"/><path d="M553 232L555.60 230.05A3.25 3.25 0 0 0 551.26 229.28Z" fill="#b3b3b3"/><path d="M553 232L551.26 229.28A3.25 3.25 0 0 0 550.15 230.48Z" fill="#ffd92f"/><path d="M553 232L550.15 230.48A3.25 3.25 0 0 0 551.00 234.56Z" fill="#66c2a5"/>
<circle cx="504.6" cy="189.2" r="3.25" fill="#8da0cb"/><path d="M504.6 189.2L507.88 189.23A3.25 3.25 0 0 0 507.84 188.68Z" fill="#fc8d62"/><path d="M504.6 189.2L507.84 188.68A3.25 3.25 0 0 0 503.18 186.32Z" fill="#b3b3b3"/><path d="M504.6 189.2L503.18 186.32A3.25 3.25 0 0 0 501.75 190.73Z" fill="#a6d854"/>
<circle cx="450" cy="208" r="3.25" fill="#8da0cb"/><path d="M450 208L453.26 208.01A3.25 3.25 0 0 0 453.20 207.39Z" fill="#66c2a5"/>
<circle cx="434.4" cy="190.4" r="3.25" fill="#8da0cb"/><path d="M434.4 190.4L437.65 190.43A3.25 3.25 0 0 0 437.58 189.72Z" fill="#e5c494"/>
<circle cx="576.4" cy="150.8" r="3.25" fill="#8da0cb"/><path d="M576.4 150.8L579.68 150.81A3.25 3.25 0 0 0 575.10 147.85Z" fill="#e5c494"/><path d="M576.4 150.8L575.10 147.85A3.25 3.25 0 0 0 573.92 148.75Z" fill="#b3b3b3"/><path d="M576.4 150.8L573.92 148.75A3.25 3.25 0 0 0 573.37 151.91Z" fill="#a6d854"/><path d="M576.4 150.8L573.37 151.91A3.25 3.25 0 0 0 574.15 153.13Z" fill="#66c2a5"/><path d="M576.4 150.8L574.15 153.13A3.25 3.25 0 0 0 578.71 153.13Z" fill="#e78ac3"/>
<circle cx="490.8" cy="199.6" r="3.25" fill="#8da0cb"/><path d="M490.8 199.6L494.08 199.60A3.25 3.25 0 0 0 493.85 198.41Z" fill="#fc8d62"/><path d="M490.8 199.6L493.85 198.41A3.25 3.25 0 0 0 490.91 196.35Z" fill="#e5c494"/><path d="M490.8 199.6L490.91 196.35A3.25 3.25 0 0 0 490.23 196.41Z" fill="#b3b3b3"/><path d="M490.8 199.6L490.23 196.41A3.25 3.25 0 0 0 487.64 200.25Z" fill="#ffd92f"/><path d="M490.8 199.6L487.64 200.25A3.25 3.25 0 0 0 488.04 201.28Z" fill="#e78ac3"/>
<circle cx="451.8" cy="198.4" r="3.25" fill="#8da0cb"/><path d="M451.8 198.4L455.06 198.40A3.25 3.25 0 0 0 454.95 197.56Z" fill="#fc8d62"/><path d="M451.8 198.4L454.95 197.56A3.25 3.25 0 0 0 454.76 197.03Z" fill="#b3b3b3"/><path d="M451.8 198.4L454.76 197.03A3.25 3.25 0 0 0 454.32 196.33Z" fill="#66c2a5"/>
<circle cx="546.5" cy="198.8" r="3.25" fill="#8da0cb"/><path d="M546.5 198.8L549.77 198.82A3.25 3.25 0 0 0 547.83 195.84Z" fill="#fc8d62"/><path d="M546.5 198.8L547.83 195.84A3.25 3.25 0 0 0 547.45 195.70Z" fill="#e5c494"/><path d="M546.5 198.8L547.45 195.70A3.25 3.25 0 0 0 543.29 198.47Z" fill="#b3b3b3"/><path d="M546.5 198.8L543.29 198.47A3.25 3.25 0 0 0 546.20 202.05Z" fill="#ffd92f"/><path d="M546.5 198.8L546.20 202.05A3.25 3.25 0 0 0 546.88 202.05Z" fill="#66c2a5"/><path d="M546.5 198.8L546.88 202.05A3.25 3.25 0 0 0 548.46 201.43Z" fill="#e78ac3"/>
<circle cx="478.8" cy="201.4" r="3.25" fill="#8da0cb"/><path d="M478.8 201.4L482.07 201.40A3.25 3.25 0 0 0 479.31 198.19Z" fill="#b3b3b3"/>
<circle cx="544" cy="151.4" r="3.25" fill="#8da0cb"/><path d="M544 151.4L547.26 151.41A3.25 3.25 0 0 0 543.24 148.26Z" fill="#ffd92f"/><path d="M544 151.4L543.24 148.26A3.25 3.25 0 0 0 541.22 153.07Z" fill="#a6d854"/><path d="M544 151.4L541.22 153.07A3.25 3.25 0 0 0 542.02 153.98Z" fill="#66c2a5"/><path d="M544 151.4L542.02 153.98A3.25 3.25 0 0 0 545.90 154.06Z" fill="#e78ac3"/>
<circle cx="553" cy="178.4" r="3.25" fill="#8da0cb"/><path d="M553 178.4L556.27 178.42A3.25 3.25 0 0 0 551.78 175.42Z" fill="#fc8d62"/><path d="M553 178.4L551.78 175.42A3.25 3.25 0 0 0 550.67 176.18Z" fill="#e5c494"/><path d="M553 178.4L550.67 176.18A3.25 3.25 0 0 0 551.50 181.30Z" fill="#b3b3b3"/><path d="M553 178.4L551.50 181.30A3.25 3.25 0 0 0 552.96 181.67Z" fill="#ffd92f"/><path d="M553 178.4L552.96 181.67A3.25 3.25 0 0 0 554.42 181.36Z" fill="#a6d854"/><path d="M553 178.4L554.42 181.36A3.25 3.25 0 0 0 555.28 180.76Z" fill="#e78ac3"/>
<circle cx="441" cy="195.2" r="3.25" fill="#8da0cb"/>
<circle cx="454" cy="240.1" r="3.25" fill="#8da0cb"/><path d="M454 240.1L457.27 240.09A3.25 3.25 0 0 0 456.01 237.53Z" fill="#66c2a5"/>
<circle cx="454.8" cy="184.4" r="3.25" fill="#8da0cb"/><path d="M454.8 184.4L458.06 184.43A3.25 3.25 0 0 0 457.97 183.67Z" fill="#ffd92f"/><path d="M454.8 184.4L457.97 183.67A3.25 3.25 0 0 0 455.48 181.25Z" fill="#66c2a5"/>
<circle cx="529" cy="263.8" r="3.25" fill="#8da0cb"/><path d="M529 263.8L532.26 263.83A3.25 3.25 0 0 0 532.12 262.91Z" fill="#e5c494"/><path d="M529 263.8L532.12 262.91A3.25 3.25 0 0 0 529.24 260.59Z" fill="#b3b3b3"/><path d="M529 263.8L529.24 260.59A3.25 3.25 0 0 0 525.81 264.41Z" fill="#ffd92f"/><path d="M529 263.8L525.81 264.41A3.25 3.25 0 0 0 526.22 265.51Z" fill="#a6d854"/>
<circle cx="507" cy="132.8" r="3.25" fill="#8da0cb"/><path d="M507 132.8L510.28 132.81A3.25 3.25 0 1 0 503.83 133.34Z" fill="#fc8d62"/><path d="M507 132.8L503.83 133.34A3.25 3.25 0 0 0 503.95 133.83Z" fill="#ffd92f"/><path d="M507 132.8L503.95 133.83A3.25 3.25 0 0 0 504.39 134.70Z" fill="#e78ac3"/>
<circle cx="454.2" cy="168.8" r="3.25" fill="#8da0cb"/><path d="M454.2 168.8L457.46 168.82A3.25 3.25 0 0 0 457.37 168.04Z" fill="#66c2a5"/>
<circle cx="529.6" cy="193.4" r="3.25" fill="#8da0cb"/><path d="M529.6 193.4L532.86 193.43A3.25 3.25 0 0 0 532.63 192.24Z" fill="#fc8d62"/><path d="M529.6 193.4L532.63 192.24A3.25 3.25 0 0 0 527.36 191.09Z" fill="#e5c494"/><path d="M529.6 193.4L527.36 191.09A3.25 3.25 0 0 0 528.94 196.61Z" fill="#b3b3b3"/><path d="M529.6 193.4L528.94 196.61A3.25 3.25 0 0 0 529.50 196.68Z" fill="#ffd92f"/><path d="M529.6 193.4L529.50 196.68A3.25 3.25 0 0 0 530.48 196.56Z" fill="#a6d854"/><path d="M529.6 193.4L530.48 196.56A3.25 3.25 0 0 0 531.61 195.99Z" fill="#e78ac3"/>
<circle cx="486" cy="152.6" r="3.25" fill="#8da0cb"/><path d="M486 152.6L489.28 152.61A3.25 3.25 0 0 0 487.69 149.82Z" fill="#fc8d62"/><path d="M486 152.6L487.69 149.82A3.25 3.25 0 0 0 487.16 149.57Z" fill="#a6d854"/><path d="M486 152.6L487.16 149.57A3.25 3.25 0 0 0 484.74 149.63Z" fill="#66c2a5"/>
<circle cx="480.6" cy="135.8" r="3.25" fill="#8da0cb"/><path d="M480.6 135.8L483.87 135.81A3.25 3.25 0 0 0 483.83 135.29Z" fill="#fc8d62"/><path d="M480.6 135.8L483.83 135.29A3.25 3.25 0 0 0 483.42 134.15Z" fill="#e5c494"/><path d="M480.6 135.8L483.42 134.15A3.25 3.25 0 0 0 482.16 132.95Z" fill="#ffd92f"/><path d="M480.6 135.8L482.16 132.95A3.25 3.25 0 0 0 481.58 132.70Z" fill="#e78ac3"/>
<circle cx="435.6" cy="204.4" r="3.25" fill="#8da0cb"/><path d="M435.6 204.4L438.86 204.40A3.25 3.25 0 0 0 438.76 203.62Z" fill="#ffd92f"/>
<circle cx="583.6" cy="190.4" r="3.25" fill="#8da0cb"/><path d="M583.6 190.4L586.88 190.43A3.25 3.25 0 0 0 586.57 189.04Z" fill="#fc8d62"/><path d="M583.6 190.4L586.57 189.04A3.25 3.25 0 0 0 586.18 188.41Z" fill="#ffd92f"/><path d="M583.6 190.4L586.18 188.41A3.25 3.25 0 0 0 584.78 187.39Z" fill="#a6d854"/><path d="M583.6 190.4L584.78 187.39A3.25 3.25 0 0 0 581.14 192.52Z" fill="#e78ac3"/>
<circle cx="567.4" cy="193.6" r="3.25" fill="#8da0cb"/><path d="M567.4 193.6L570.67 193.60A3.25 3.25 0 0 0 570.40 192.30Z" fill="#fc8d62"/><path d="M567.4 193.6L570.40 192.30A3.25 3.25 0 0 0 569.41 191.03Z" fill="#e5c494"/><path d="M567.4 193.6L569.41 191.03A3.25 3.25 0 0 0 568.61 190.57Z" fill="#b3b3b3"/><path d="M567.4 193.6L568.61 190.57A3.25 3.25 0 0 0 567.22 190.36Z" fill="#a6d854"/><path d="M567.4 193.6L567.22 190.36A3.25 3.25 0 0 0 566.23 190.58Z" fill="#66c2a5"/><path d="M567.4 193.6L566.23 190.58A3.25 3.25 0 1 0 569.79 195.83Z" fill="#e78ac3"/>
<circle cx="481.8" cy="233.8" r="3.25" fill="#8da0cb"/><path d="M481.8 233.8L485.07 233.82A3.25 3.25 0 0 0 485.04 233.37Z" fill="#fc8d62"/><path d="M481.8 233.8L485.04 233.37A3.25 3.25 0 0 0 480.93 230.69Z" fill="#e5c494"/><path d="M481.8 233.8L480.93 230.69A3.25 3.25 0 0 0 480.35 230.92Z" fill="#b3b3b3"/><path d="M481.8 233.8L480.35 230.92A3.25 3.25 0 0 0 479.44 231.60Z" fill="#ffd92f"/><path d="M481.8 233.8L479.44 231.60A3.25 3.25 0 0 0 479.60 236.19Z" fill="#e78ac3"/>
<circle cx="539.2" cy="176.6" r="3.25" fill="#8da0cb"/><path d="M539.2 176.6L542.46 176.62A3.25 3.25 0 0 0 539.03 173.38Z" fill="#fc8d62"/><path d="M539.2 176.6L539.03 173.38A3.25 3.25 0 0 0 537.58 173.82Z" fill="#e5c494"/><path d="M539.2 176.6L537.58 173.82A3.25 3.25 0 0 0 536.23 177.92Z" fill="#b3b3b3"/><path d="M539.2 176.6L536.23 177.92A3.25 3.25 0 0 0 536.97 178.98Z" fill="#66c2a5"/><path d="M539.2 176.6L536.97 178.98A3.25 3.25 0 0 0 537.94 179.62Z" fill="#e78ac3"/>
<circle cx="511" cy="202.6" r="3.25" fill="#8da0cb"/><path d="M511 202.6L514.25 202.60A3.25 3.25 0 0 0 509.74 199.61Z" fill="#fc8d62"/><path d="M511 202.6L509.74 199.61A3.25 3.25 0 0 0 508.58 200.44Z" fill="#ffd92f"/><path d="M511 202.6L508.58 200.44A3.25 3.25 0 0 0 508.15 201.05Z" fill="#a6d854"/><path d="M511 202.6L508.15 201.05A3.25 3.25 0 0 0 507.76 202.44Z" fill="#66c2a5"/><path d="M511 202.6L507.76 202.44A3.25 3.25 0 0 0 507.76 202.86Z" fill="#e78ac3"/>
<circle cx="508.6" cy="229" r="3.25" fill="#8da0cb"/><path d="M508.6 229L511.85 229.01A3.25 3.25 0 0 0 511.82 228.60Z" fill="#a6d854"/><path d="M508.6 229L511.82 228.60A3.25 3.25 0 0 0 511.60 227.76Z" fill="#66c2a5"/>
<circle cx="541.6" cy="146" r="3.25" fill="#8da0cb"/><path d="M541.6 146L544.86 146.01A3.25 3.25 0 0 0 544.53 144.58Z" fill="#fc8d62"/><path d="M541.6 146L544.53 144.58A3.25 3.25 0 0 0 543.77 143.58Z" fill="#e5c494"/><path d="M541.6 146L543.77 143.58A3.25 3.25 0 0 0 542.45 142.87Z" fill="#a6d854"/><path d="M541.6 146L542.45 142.87A3.25 3.25 0 0 0 538.47 145.20Z" fill="#66c2a5"/><path d="M541.6 146L538.47 145.20A3.25 3.25 0 0 0 540.91 149.18Z" fill="#e78ac3"/>
<circle cx="547" cy="163.4" r="3.25" fill="#8da0cb"/><path d="M547 163.4L550.27 163.42A3.25 3.25 0 0 0 545.28 160.67Z" fill="#fc8d62"/><path d="M547 163.4L545.28 160.67A3.25 3.25 0 0 0 547.26 166.66Z" fill="#e5c494"/><path d="M547 163.4L547.26 166.66A3.25 3.25 0 0 0 548.20 166.45Z" fill="#ffd92f"/><path d="M547 163.4L548.20 166.45A3.25 3.25 0 0 0 548.78 166.15Z" fill="#66c2a5"/>
<circle cx="454.2" cy="187.7" r="3.25" fill="#8da0cb"/><path d="M454.2 187.7L457.43 187.75A3.25 3.25 0 0 0 457.39 187.22Z" fill="#a6d854"/><path d="M454.2 187.7L457.39 187.22A3.25 3.25 0 0 0 455.76 184.90Z" fill="#66c2a5"/>
<circle cx="580" cy="194" r="3.25" fill="#8da0cb"/><path d="M580 194L583.28 194.03A3.25 3.25 0 0 0 582.81 192.36Z" fill="#fc8d62"/><path d="M580 194L582.81 192.36A3.25 3.25 0 0 0 582.03 191.47Z" fill="#e5c494"/><path d="M580 194L582.03 191.47A3.25 3.25 0 0 0 581.42 191.09Z" fill="#b3b3b3"/><path d="M580 194L581.42 191.09A3.25 3.25 0 0 0 580.34 190.80Z" fill="#a6d854"/><path d="M580 194L580.34 190.80A3.25 3.25 0 0 0 579.51 190.82Z" fill="#66c2a5"/><path d="M580 194L579.51 190.82A3.25 3.25 0 1 0 582.33 196.33Z" fill="#e78ac3"/>
<circle cx="477" cy="253.6" r="3.25" fill="#8da0cb"/><path d="M477 253.6L480.27 253.62A3.25 3.25 0 0 0 476.89 250.38Z" fill="#fc8d62"/><path d="M477 253.6L476.89 250.38A3.25 3.25 0 0 0 475.94 250.56Z" fill="#a6d854"/><path d="M477 253.6L475.94 250.56A3.25 3.25 0 0 0 473.88 254.45Z" fill="#e78ac3"/>
<circle cx="502.2" cy="244.6" r="3.25" fill="#8da0cb"/><path d="M502.2 244.6L505.48 244.62A3.25 3.25 0 0 0 500.23 242.06Z" fill="#fc8d62"/><path d="M502.2 244.6L500.23 242.06A3.25 3.25 0 0 0 500.86 247.57Z" fill="#e5c494"/><path d="M502.2 244.6L500.86 247.57A3.25 3.25 0 0 0 501.51 247.79Z" fill="#b3b3b3"/><path d="M502.2 244.6L501.51 247.79A3.25 3.25 0 0 0 502.31 247.87Z" fill="#ffd92f"/><path d="M502.2 244.6L502.31 247.87A3.25 3.25 0 0 0 503.19 247.73Z" fill="#a6d854"/><path d="M502.2 244.6L503.19 247.73A3.25 3.25 0 0 0 504.29 247.13Z" fill="#e78ac3"/>
<circle cx="466.8" cy="223.6" r="3.25" fill="#8da0cb"/><path d="M466.8 223.6L470.07 223.61A3.25 3.25 0 0 0 470.03 223.15Z" fill="#fc8d62"/><path d="M466.8 223.6L470.03 223.15A3.25 3.25 0 0 0 469.86 222.48Z" fill="#ffd92f"/><path d="M466.8 223.6L469.86 222.48A3.25 3.25 0 0 0 466.35 220.40Z" fill="#a6d854"/><path d="M466.8 223.6L466.35 220.40A3.25 3.25 0 0 0 465.63 220.59Z" fill="#66c2a5"/>
<circle cx="461.4" cy="141.2" r="3.25" fill="#8da0cb"/><path d="M461.4 141.2L464.67 141.21A3.25 3.25 0 0 0 464.60 140.55Z" fill="#ffd92f"/><path d="M461.4 141.2L464.60 140.55A3.25 3.25 0 0 0 464.37 139.85Z" fill="#a6d854"/><path d="M461.4 141.2L464.37 139.85A3.25 3.25 0 0 0 463.93 139.15Z" fill="#e78ac3"/>
<circle cx="462" cy="248.8" r="3.25" fill="#8da0cb"/><path d="M462 248.8L465.27 248.82A3.25 3.25 0 0 0 465.11 247.81Z" fill="#fc8d62"/><path d="M462 248.8L465.11 247.81A3.25 3.25 0 0 0 461.69 245.59Z" fill="#e5c494"/><path d="M462 248.8L461.69 245.59A3.25 3.25 0 0 0 461.14 245.69Z" fill="#a6d854"/><path d="M462 248.8L461.14 245.69A3.25 3.25 0 0 0 459.15 250.36Z" fill="#66c2a5"/>
<circle cx="471.2" cy="190.4" r="3.25" fill="#8da0cb"/><path d="M471.2 190.4L474.49 190.40A3.25 3.25 0 0 0 471.04 187.16Z" fill="#fc8d62"/><path d="M471.2 190.4L471.04 187.16A3.25 3.25 0 0 0 468.20 191.55Z" fill="#e5c494"/><path d="M471.2 190.4L468.20 191.55A3.25 3.25 0 0 0 468.66 192.37Z" fill="#66c2a5"/><path d="M471.2 190.4L468.66 192.37A3.25 3.25 0 0 0 469.22 192.95Z" fill="#e78ac3"/>
<circle cx="580.6" cy="211.6" r="3.25" fill="#8da0cb"/><path d="M580.6 211.6L583.88 211.61A3.25 3.25 0 0 0 583.41 209.93Z" fill="#e5c494"/><path d="M580.6 211.6L583.41 209.93A3.25 3.25 0 0 0 582.50 208.95Z" fill="#ffd92f"/><path d="M580.6 211.6L582.50 208.95A3.25 3.25 0 0 0 577.53 210.63Z" fill="#a6d854"/><path d="M580.6 211.6L577.53 210.63A3.25 3.25 0 0 0 577.42 212.10Z" fill="#66c2a5"/><path d="M580.6 211.6L577.42 212.10A3.25 3.25 0 0 0 582.86 213.97Z" fill="#e78ac3"/>
<circle cx="541.6" cy="199.6" r="3.25" fill="#8da0cb"/><path d="M541.6 199.6L544.86 199.60A3.25 3.25 0 0 0 541.02 196.41Z" fill="#e5c494"/><path d="M541.6 199.6L541.02 196.41A3.25 3.25 0 0 0 539.99 202.42Z" fill="#b3b3b3"/><path d="M541.6 199.6L539.99 202.42A3.25 3.25 0 0 0 540.44 202.63Z" fill="#ffd92f"/><path d="M541.6 199.6L540.44 202.63A3.25 3.25 0 0 0 541.38 202.84Z" fill="#a6d854"/><path d="M541.6 199.6L541.38 202.84A3.25 3.25 0 0 0 542.19 202.80Z" fill="#66c2a5"/><path d="M541.6 199.6L542.19 202.80A3.25 3.25 0 0 0 543.70 202.09Z" fill="#e78ac3"/>
<circle cx="442.2" cy="170.6" r="3.25" fill="#8da0cb"/><path d="M442.2 170.6L445.46 170.62A3.25 3.25 0 0 0 444.99 168.93Z" fill="#fc8d62"/><path d="M442.2 170.6L444.99 168.93A3.25 3.25 0 0 0 444.63 168.46Z" fill="#e5c494"/><path d="M442.2 170.6L444.63 168.46A3.25 3.25 0 0 0 442.31 167.37Z" fill="#ffd92f"/><path d="M442.2 170.6L442.31 167.37A3.25 3.25 0 0 0 441.45 167.46Z" fill="#e78ac3"/>
<circle cx="463.2" cy="198.4" r="3.25" fill="#8da0cb"/><path d="M463.2 198.4L466.47 198.40A3.25 3.25 0 0 0 466.30 197.38Z" fill="#fc8d62"/><path d="M463.2 198.4L466.30 197.38A3.25 3.25 0 0 0 465.84 196.49Z" fill="#ffd92f"/>
<circle cx="504" cy="253" r="3.25" fill="#8da0cb"/><path d="M504 253L507.28 253.02A3.25 3.25 0 0 0 507.18 252.20Z" fill="#e5c494"/><path d="M504 253L507.18 252.20A3.25 3.25 0 0 0 503.14 249.90Z" fill="#ffd92f"/><path d="M504 253L503.14 249.90A3.25 3.25 0 0 0 502.37 250.23Z" fill="#66c2a5"/><path d="M504 253L502.37 250.23A3.25 3.25 0 0 0 501.14 254.50Z" fill="#e78ac3"/>
<circle cx="509.2" cy="164" r="3.25" fill="#8da0cb"/><path d="M509.2 164L512.45 164.02A3.25 3.25 0 0 0 506.12 162.98Z" fill="#fc8d62"/><path d="M509.2 164L506.12 162.98A3.25 3.25 0 0 0 505.95 164.02Z" fill="#e5c494"/><path d="M509.2 164L505.95 164.02A3.25 3.25 0 0 0 505.99 164.52Z" fill="#b3b3b3"/><path d="M509.2 164L505.99 164.52A3.25 3.25 0 0 0 506.24 165.36Z" fill="#66c2a5"/>
<circle cx="553" cy="214.3" r="3.25" fill="#8da0cb"/><path d="M553 214.3L556.22 214.30A3.25 3.25 0 0 0 555.99 213.11Z" fill="#fc8d62"/><path d="M553 214.3L555.99 213.11A3.25 3.25 0 0 0 555.80 212.71Z" fill="#e5c494"/><path d="M553 214.3L555.80 212.71A3.25 3.25 0 0 0 551.51 211.40Z" fill="#b3b3b3"/><path d="M553 214.3L551.51 211.40A3.25 3.25 0 0 0 550.78 211.91Z" fill="#a6d854"/><path d="M553 214.3L550.78 211.91A3.25 3.25 0 0 0 550.54 216.46Z" fill="#66c2a5"/><path d="M553 214.3L550.54 216.46A3.25 3.25 0 0 0 551.61 217.26Z" fill="#e78ac3"/>
<circle cx="477" cy="152" r="3.25" fill="#8da0cb"/><path d="M477 152L480.27 152.01A3.25 3.25 0 0 0 480.19 151.31Z" fill="#ffd92f"/><path d="M477 152L480.19 151.31A3.25 3.25 0 0 0 479.90 150.50Z" fill="#e78ac3"/>
<circle cx="527.2" cy="126.2" r="3.25" fill="#8da0cb"/><path d="M527.2 126.2L530.46 126.20A3.25 3.25 0 0 0 527.20 122.95Z" fill="#fc8d62"/><path d="M527.2 126.2L527.20 122.95A3.25 3.25 0 0 0 526.01 123.18Z" fill="#b3b3b3"/><path d="M527.2 126.2L526.01 123.18A3.25 3.25 0 0 0 524.03 126.86Z" fill="#a6d854"/><path d="M527.2 126.2L524.03 126.86A3.25 3.25 0 0 0 527.95 129.37Z" fill="#66c2a5"/><path d="M527.2 126.2L527.95 129.37A3.25 3.25 0 0 0 529.21 128.76Z" fill="#e78ac3"/>
<circle cx="538.6" cy="249.4" r="3.25" fill="#8da0cb"/><path d="M538.6 249.4L541.86 249.42A3.25 3.25 0 0 0 541.78 248.70Z" fill="#fc8d62"/><path d="M538.6 249.4L541.78 248.70A3.25 3.25 0 0 0 539.01 246.20Z" fill="#e5c494"/><path d="M538.6 249.4L539.01 246.20A3.25 3.25 0 0 0 537.58 246.34Z" fill="#b3b3b3"/><path d="M538.6 249.4L537.58 246.34A3.25 3.25 0 0 0 536.57 246.90Z" fill="#ffd92f"/><path d="M538.6 249.4L536.57 246.90A3.25 3.25 0 0 0 535.63 250.73Z" fill="#a6d854"/><path d="M538.6 249.4L535.63 250.73A3.25 3.25 0 0 0 536.07 251.45Z" fill="#66c2a5"/><path d="M538.6 249.4L536.07 251.45A3.25 3.25 0 0 0 540.97 251.66Z" fill="#e78ac3"/>
<circle cx="538.6" cy="123.2" r="3.25" fill="#8da0cb"/><path d="M538.6 123.2L541.86 123.20A3.25 3.25 0 0 0 541.68 122.14Z" fill="#e5c494"/><path d="M538.6 123.2L541.68 122.14A3.25 3.25 0 0 0 538.01 120.01Z" fill="#b3b3b3"/><path d="M538.6 123.2L538.01 120.01A3.25 3.25 0 0 0 537.07 120.34Z" fill="#a6d854"/><path d="M538.6 123.2L537.07 120.34A3.25 3.25 0 0 0 536.18 121.04Z" fill="#66c2a5"/><path d="M538.6 123.2L536.18 121.04A3.25 3.25 0 0 0 536.84 125.93Z" fill="#e78ac3"/>
<circle cx="463.8" cy="191.6" r="3.25" fill="#8da0cb"/><path d="M463.8 191.6L467.07 191.63A3.25 3.25 0 0 0 466.91 190.62Z" fill="#e5c494"/><path d="M463.8 191.6L466.91 190.62A3.25 3.25 0 0 0 466.53 189.84Z" fill="#66c2a5"/>
<circle cx="516.6" cy="242.7" r="3.25" fill="#8da0cb"/><path d="M516.6 242.7L519.81 242.74A3.25 3.25 0 0 0 519.50 241.35Z" fill="#fc8d62"/><path d="M516.6 242.7L519.50 241.35A3.25 3.25 0 0 0 518.81 240.39Z" fill="#66c2a5"/><path d="M516.6 242.7L518.81 240.39A3.25 3.25 0 0 0 513.38 243.41Z" fill="#e78ac3"/>
<circle cx="563.8" cy="143.6" r="3.25" fill="#8da0cb"/><path d="M563.8 143.6L567.07 143.61A3.25 3.25 0 0 0 565.50 140.83Z" fill="#fc8d62"/><path d="M563.8 143.6L565.50 140.83A3.25 3.25 0 0 0 564.80 140.51Z" fill="#ffd92f"/><path d="M563.8 143.6L564.80 140.51A3.25 3.25 0 0 0 560.60 144.01Z" fill="#a6d854"/><path d="M563.8 143.6L560.60 144.01A3.25 3.25 0 0 0 565.59 146.34Z" fill="#e78ac3"/>
<circle cx="501" cy="264.4" r="3.25" fill="#8da0cb"/><path d="M501 264.4L504.28 264.43A3.25 3.25 0 0 0 504.10 263.37Z" fill="#fc8d62"/><path d="M501 264.4L504.10 263.37A3.25 3.25 0 0 0 503.77 262.67Z" fill="#e5c494"/><path d="M501 264.4L503.77 262.67A3.25 3.25 0 0 0 500.32 261.26Z" fill="#b3b3b3"/><path d="M501 264.4L500.32 261.26A3.25 3.25 0 0 0 499.16 261.77Z" fill="#a6d854"/><path d="M501 264.4L499.16 261.77A3.25 3.25 0 0 0 498.74 262.12Z" fill="#66c2a5"/><path d="M501 264.4L498.74 262.12A3.25 3.25 0 0 0 498.24 266.10Z" fill="#e78ac3"/>
<circle cx="523.6" cy="134" r="3.25" fill="#8da0cb"/><path d="M523.6 134L526.86 134.01A3.25 3.25 0 0 0 526.71 133.04Z" fill="#e5c494"/><path d="M523.6 134L526.71 133.04A3.25 3.25 0 0 0 526.20 132.05Z" fill="#b3b3b3"/><path d="M523.6 134L526.20 132.05A3.25 3.25 0 0 0 523.01 130.81Z" fill="#a6d854"/><path d="M523.6 134L523.01 130.81A3.25 3.25 0 0 0 520.98 135.92Z" fill="#66c2a5"/><path d="M523.6 134L520.98 135.92A3.25 3.25 0 0 0 522.10 136.88Z" fill="#e78ac3"/>
<circle cx="519.4" cy="260.8" r="3.25" fill="#8da0cb"/><path d="M519.4 260.8L522.65 260.83A3.25 3.25 0 0 0 522.52 259.90Z" fill="#fc8d62"/><path d="M519.4 260.8L522.52 259.90A3.25 3.25 0 0 0 519.28 257.58Z" fill="#e5c494"/><path d="M519.4 260.8L519.28 257.58A3.25 3.25 0 0 0 517.94 257.93Z" fill="#b3b3b3"/><path d="M519.4 260.8L517.94 257.93A3.25 3.25 0 0 0 516.60 262.46Z" fill="#e78ac3"/>
<circle cx="532" cy="242.8" r="3.25" fill="#8da0cb"/><path d="M532 242.8L535.26 242.82A3.25 3.25 0 0 0 535.11 241.85Z" fill="#fc8d62"/><path d="M532 242.8L535.11 241.85A3.25 3.25 0 0 0 530.02 240.25Z" fill="#e5c494"/><path d="M532 242.8L530.02 240.25A3.25 3.25 0 0 0 530.10 245.45Z" fill="#b3b3b3"/><path d="M532 242.8L530.10 245.45A3.25 3.25 0 0 0 533.63 245.64Z" fill="#ffd92f"/><path d="M532 242.8L533.63 245.64A3.25 3.25 0 0 0 534.09 245.32Z" fill="#66c2a5"/>
<circle cx="448.8" cy="225.4" r="3.25" fill="#8da0cb"/><path d="M448.8 225.4L452.06 225.41A3.25 3.25 0 0 0 452.03 224.94Z" fill="#e5c494"/>
<circle cx="470.9" cy="207.7" r="3.25" fill="#8da0cb"/><path d="M470.9 207.7L474.11 207.70A3.25 3.25 0 0 0 473.93 206.62Z" fill="#66c2a5"/>
<circle cx="470.4" cy="251.2" r="3.25" fill="#8da0cb"/><path d="M470.4 251.2L473.67 251.22A3.25 3.25 0 0 0 473.50 250.18Z" fill="#fc8d62"/><path d="M470.4 251.2L473.50 250.18A3.25 3.25 0 0 0 469.47 248.11Z" fill="#e5c494"/><path d="M470.4 251.2L469.47 248.11A3.25 3.25 0 0 0 467.43 252.50Z" fill="#b3b3b3"/><path d="M470.4 251.2L467.43 252.50A3.25 3.25 0 0 0 467.64 252.92Z" fill="#e78ac3"/>
<circle cx="540.5" cy="237" r="3.25" fill="#8da0cb"/><path d="M540.5 237L543.74 237.00A3.25 3.25 0 0 0 538.10 234.79Z" fill="#e5c494"/><path d="M540.5 237L538.10 234.79A3.25 3.25 0 0 0 540.95 240.22Z" fill="#ffd92f"/><path d="M540.5 237L540.95 240.22A3.25 3.25 0 0 0 542.25 239.73Z" fill="#e78ac3"/>
<circle cx="439.8" cy="182.6" r="3.25" fill="#8da0cb"/><path d="M439.8 182.6L443.06 182.63A3.25 3.25 0 0 0 439.96 179.38Z" fill="#ffd92f"/><path d="M439.8 182.6L439.96 179.38A3.25 3.25 0 0 0 439.10 179.45Z" fill="#a6d854"/><path d="M439.8 182.6L439.10 179.45A3.25 3.25 0 0 0 438.33 179.73Z" fill="#66c2a5"/>
<circle cx="560.2" cy="134.6" r="3.25" fill="#8da0cb"/><path d="M560.2 134.6L563.47 134.61A3.25 3.25 0 0 0 563.18 133.25Z" fill="#e5c494"/><path d="M560.2 134.6L563.18 133.25A3.25 3.25 0 0 0 559.36 131.47Z" fill="#b3b3b3"/><path d="M560.2 134.6L559.36 131.47A3.25 3.25 0 0 0 558.32 131.97Z" fill="#ffd92f"/><path d="M560.2 134.6L558.32 131.97A3.25 3.25 0 0 0 557.35 136.13Z" fill="#a6d854"/><path d="M560.2 134.6L557.35 136.13A3.25 3.25 0 0 0 562.22 137.17Z" fill="#e78ac3"/>
<circle cx="486" cy="157.4" r="3.25" fill="#8da0cb"/><path d="M486 157.4L489.28 157.42A3.25 3.25 0 0 0 489.04 156.21Z" fill="#ffd92f"/><path d="M486 157.4L489.04 156.21A3.25 3.25 0 0 0 488.26 155.05Z" fill="#a6d854"/><path d="M486 157.4L488.26 155.05A3.25 3.25 0 0 0 487.80 154.70Z" fill="#66c2a5"/>
<circle cx="577" cy="158.6" r="3.25" fill="#8da0cb"/><path d="M577 158.6L580.28 158.62A3.25 3.25 0 0 0 580.09 157.54Z" fill="#e5c494"/><path d="M577 158.6L580.09 157.54A3.25 3.25 0 0 0 579.13 156.14Z" fill="#b3b3b3"/><path d="M577 158.6L579.13 156.14A3.25 3.25 0 0 0 574.79 156.26Z" fill="#a6d854"/><path d="M577 158.6L574.79 156.26A3.25 3.25 0 0 0 574.94 161.10Z" fill="#66c2a5"/><path d="M577 158.6L574.94 161.10A3.25 3.25 0 0 0 579.36 160.88Z" fill="#e78ac3"/>
<circle cx="527.8" cy="188" r="3.25" fill="#8da0cb"/><path d="M527.8 188L531.06 188.03A3.25 3.25 0 0 0 530.76 186.67Z" fill="#fc8d62"/><path d="M527.8 188L530.76 186.67A3.25 3.25 0 0 0 525.98 185.34Z" fill="#b3b3b3"/><path d="M527.8 188L525.98 185.34A3.25 3.25 0 0 0 525.07 186.28Z" fill="#ffd92f"/><path d="M527.8 188L525.07 186.28A3.25 3.25 0 0 0 524.69 187.12Z" fill="#a6d854"/><path d="M527.8 188L524.69 187.12A3.25 3.25 0 0 0 524.58 188.41Z" fill="#e78ac3"/>
<circle cx="496.2" cy="194" r="3.25" fill="#8da0cb"/><path d="M496.2 194L499.48 194.03A3.25 3.25 0 0 0 493.10 193.17Z" fill="#e5c494"/><path d="M496.2 194L493.10 193.17A3.25 3.25 0 0 0 492.98 193.89Z" fill="#66c2a5"/><path d="M496.2 194L492.98 193.89A3.25 3.25 0 0 0 497.91 196.81Z" fill="#e78ac3"/>
<circle cx="432.6" cy="203.8" r="3.25" fill="#8da0cb"/><path d="M432.6 203.8L435.85 203.80A3.25 3.25 0 0 0 435.81 203.29Z" fill="#b3b3b3"/><path d="M432.6 203.8L435.81 203.29A3.25 3.25 0 0 0 435.11 201.73Z" fill="#ffd92f"/>
<circle cx="430.8" cy="207.4" r="3.25" fill="#8da0cb"/><path d="M430.8 207.4L434.05 207.41A3.25 3.25 0 0 0 433.98 206.70Z" fill="#b3b3b3"/>
<circle cx="533.8" cy="226" r="3.25" fill="#8da0cb"/><path d="M533.8 226L537.06 226.01A3.25 3.25 0 0 0 536.92 225.07Z" fill="#fc8d62"/><path d="M533.8 226L536.92 225.07A3.25 3.25 0 0 0 536.73 224.59Z" fill="#e5c494"/><path d="M533.8 226L536.73 224.59A3.25 3.25 0 0 0 533.03 222.86Z" fill="#b3b3b3"/><path d="M533.8 226L533.03 222.86A3.25 3.25 0 0 0 532.42 223.08Z" fill="#ffd92f"/><path d="M533.8 226L532.42 223.08A3.25 3.25 0 0 0 530.88 227.42Z" fill="#e78ac3"/>
<circle cx="437.5" cy="185" r="3.25" fill="#8da0cb"/><path d="M437.5 185L440.72 185.00A3.25 3.25 0 0 0 436.59 181.87Z" fill="#ffd92f"/><path d="M437.5 185L436.59 181.87A3.25 3.25 0 0 0 436.09 182.05Z" fill="#e78ac3"/>
<circle cx="489" cy="253" r="3.25" fill="#8da0cb"/><path d="M489 253L492.28 253.02A3.25 3.25 0 0 0 488.75 249.79Z" fill="#e5c494"/><path d="M489 253L488.75 249.79A3.25 3.25 0 0 0 486.05 254.34Z" fill="#66c2a5"/>
<circle cx="557.2" cy="136.4" r="3.25" fill="#8da0cb"/><path d="M557.2 136.4L560.47 136.41A3.25 3.25 0 0 0 560.40 135.75Z" fill="#fc8d62"/><path d="M557.2 136.4L560.40 135.75A3.25 3.25 0 0 0 556.40 133.26Z" fill="#e5c494"/><path d="M557.2 136.4L556.40 133.26A3.25 3.25 0 0 0 555.14 133.91Z" fill="#b3b3b3"/><path d="M557.2 136.4L555.14 133.91A3.25 3.25 0 0 0 554.62 134.46Z" fill="#ffd92f"/><path d="M557.2 136.4L554.62 134.46A3.25 3.25 0 0 0 554.03 135.80Z" fill="#a6d854"/><path d="M557.2 136.4L554.03 135.80A3.25 3.25 0 0 0 553.97 136.48Z" fill="#66c2a5"/><path d="M557.2 136.4L553.97 136.48A3.25 3.25 0 0 0 557.23 139.66Z" fill="#e78ac3"/>
<circle cx="483" cy="190.4" r="3.25" fill="#8da0cb"/><path d="M483 190.4L486.27 190.43A3.25 3.25 0 0 0 483.01 187.18Z" fill="#fc8d62"/><path d="M483 190.4L483.01 187.18A3.25 3.25 0 0 0 482.30 187.26Z" fill="#ffd92f"/><path d="M483 190.4L482.30 187.26A3.25 3.25 0 0 0 480.21 192.06Z" fill="#a6d854"/><path d="M483 190.4L480.21 192.06A3.25 3.25 0 0 0 480.49 192.46Z" fill="#66c2a5"/><path d="M483 190.4L480.49 192.46A3.25 3.25 0 0 0 481.38 193.23Z" fill="#e78ac3"/>
<circle cx="503.4" cy="247.6" r="3.25" fill="#8da0cb"/><path d="M503.4 247.6L506.68 247.62A3.25 3.25 0 0 0 501.72 244.86Z" fill="#fc8d62"/><path d="M503.4 247.6L501.72 244.86A3.25 3.25 0 0 0 500.92 245.57Z" fill="#ffd92f"/><path d="M503.4 247.6L500.92 245.57A3.25 3.25 0 0 0 500.64 245.96Z" fill="#a6d854"/><path d="M503.4 247.6L500.64 245.96A3.25 3.25 0 0 0 505.06 250.44Z" fill="#66c2a5"/>
<circle cx="479.4" cy="179.6" r="3.25" fill="#8da0cb"/><path d="M479.4 179.6L482.67 179.63A3.25 3.25 0 0 0 479.33 176.38Z" fill="#b3b3b3"/><path d="M479.4 179.6L479.33 176.38A3.25 3.25 0 0 0 478.65 176.47Z" fill="#ffd92f"/>
<circle cx="474.6" cy="189.8" r="3.25" fill="#8da0cb"/><path d="M474.6 189.8L477.87 189.83A3.25 3.25 0 0 0 475.56 186.72Z" fill="#fc8d62"/><path d="M474.6 189.8L475.56 186.72A3.25 3.25 0 0 0 471.66 191.16Z" fill="#e5c494"/><path d="M474.6 189.8L471.66 191.16A3.25 3.25 0 0 0 472.30 192.11Z" fill="#66c2a5"/>
<circle cx="536.8" cy="265.6" r="3.25" fill="#8da0cb"/><path d="M536.8 265.6L540.06 265.63A3.25 3.25 0 0 0 539.85 264.46Z" fill="#ffd92f"/><path d="M536.8 265.6L539.85 264.46A3.25 3.25 0 0 0 534.08 263.86Z" fill="#66c2a5"/><path d="M536.8 265.6L534.08 263.86A3.25 3.25 0 0 0 534.32 267.72Z" fill="#e78ac3"/>
<circle cx="543.5" cy="237.6" r="3.25" fill="#8da0cb"/><path d="M543.5 237.6L546.74 237.56A3.25 3.25 0 0 0 543.94 234.35Z" fill="#fc8d62"/><path d="M543.5 237.6L543.94 234.35A3.25 3.25 0 0 0 543.37 234.32Z" fill="#e5c494"/><path d="M543.5 237.6L543.37 234.32A3.25 3.25 0 0 0 542.48 234.48Z" fill="#b3b3b3"/><path d="M543.5 237.6L542.48 234.48A3.25 3.25 0 0 0 541.92 234.72Z" fill="#a6d854"/><path d="M543.5 237.6L541.92 234.72A3.25 3.25 0 0 0 541.00 235.47Z" fill="#66c2a5"/><path d="M543.5 237.6L541.00 235.47A3.25 3.25 0 0 0 541.42 240.07Z" fill="#e78ac3"/>
<circle cx="517" cy="218.8" r="3.25" fill="#8da0cb"/><path d="M517 218.8L520.25 218.81A3.25 3.25 0 0 0 516.77 215.57Z" fill="#e5c494"/><path d="M517 218.8L516.77 215.57A3.25 3.25 0 0 0 515.49 215.93Z" fill="#b3b3b3"/><path d="M517 218.8L515.49 215.93A3.25 3.25 0 0 0 514.43 216.83Z" fill="#ffd92f"/><path d="M517 218.8L514.43 216.83A3.25 3.25 0 0 0 518.89 221.46Z" fill="#a6d854"/>
<circle cx="540.4" cy="223" r="3.25" fill="#8da0cb"/><path d="M540.4 223L543.66 223.01A3.25 3.25 0 0 0 543.47 221.91Z" fill="#fc8d62"/><path d="M540.4 223L543.47 221.91A3.25 3.25 0 0 0 537.25 222.27Z" fill="#e5c494"/><path d="M540.4 223L537.25 222.27A3.25 3.25 0 0 0 541.29 226.14Z" fill="#b3b3b3"/><path d="M540.4 223L541.29 226.14A3.25 3.25 0 0 0 542.23 225.71Z" fill="#e78ac3"/>
<circle cx="532" cy="126.2" r="3.25" fill="#8da0cb"/><path d="M532 126.2L535.26 126.20A3.25 3.25 0 0 0 532.33 122.97Z" fill="#e5c494"/><path d="M532 126.2L532.33 122.97A3.25 3.25 0 0 0 531.17 123.06Z" fill="#b3b3b3"/><path d="M532 126.2L531.17 123.06A3.25 3.25 0 0 0 529.97 123.68Z" fill="#ffd92f"/><path d="M532 126.2L529.97 123.68A3.25 3.25 0 0 0 529.41 124.25Z" fill="#a6d854"/><path d="M532 126.2L529.41 124.25A3.25 3.25 0 0 0 529.65 128.44Z" fill="#66c2a5"/><path d="M532 126.2L529.65 128.44A3.25 3.25 0 0 0 534.25 128.56Z" fill="#e78ac3"/>
<circle cx="454.2" cy="193.4" r="3.25" fill="#8da0cb"/><path d="M454.2 193.4L457.46 193.43A3.25 3.25 0 0 0 457.42 192.88Z" fill="#e5c494"/><path d="M454.2 193.4L457.42 192.88A3.25 3.25 0 0 0 457.19 192.12Z" fill="#e78ac3"/>
<circle cx="572.8" cy="186.8" r="3.25" fill="#8da0cb"/><path d="M572.8 186.8L576.08 186.83A3.25 3.25 0 0 0 576.05 186.39Z" fill="#fc8d62"/><path d="M572.8 186.8L576.05 186.39A3.25 3.25 0 0 0 575.89 185.75Z" fill="#e5c494"/><path d="M572.8 186.8L575.89 185.75A3.25 3.25 0 0 0 569.79 185.66Z" fill="#b3b3b3"/><path d="M572.8 186.8L569.79 185.66A3.25 3.25 0 0 0 569.59 187.13Z" fill="#a6d854"/><path d="M572.8 186.8L569.59 187.13A3.25 3.25 0 0 0 574.91 189.32Z" fill="#e78ac3"/>
<circle cx="460.8" cy="147.2" r="3.25" fill="#8da0cb"/><path d="M460.8 147.2L464.07 147.21A3.25 3.25 0 0 0 463.91 146.21Z" fill="#b3b3b3"/><path d="M460.8 147.2L463.91 146.21A3.25 3.25 0 0 0 461.24 143.99Z" fill="#66c2a5"/>
<circle cx="491.4" cy="261.4" r="3.25" fill="#8da0cb"/><path d="M491.4 261.4L494.68 261.43A3.25 3.25 0 0 0 491.32 258.18Z" fill="#e5c494"/><path d="M491.4 261.4L491.32 258.18A3.25 3.25 0 0 0 488.18 261.35Z" fill="#b3b3b3"/><path d="M491.4 261.4L488.18 261.35A3.25 3.25 0 0 0 488.24 262.04Z" fill="#a6d854"/>
<circle cx="457.8" cy="162.8" r="3.25" fill="#8da0cb"/><path d="M457.8 162.8L461.06 162.82A3.25 3.25 0 0 0 461.04 162.39Z" fill="#b3b3b3"/><path d="M457.8 162.8L461.04 162.39A3.25 3.25 0 1 0 455.87 165.42Z" fill="#66c2a5"/><path d="M457.8 162.8L455.87 165.42A3.25 3.25 0 0 0 456.55 165.81Z" fill="#e78ac3"/>
<circle cx="568" cy="198.4" r="3.25" fill="#8da0cb"/><path d="M568 198.4L571.27 198.40A3.25 3.25 0 0 0 571.22 197.79Z" fill="#fc8d62"/><path d="M568 198.4L571.22 197.79A3.25 3.25 0 0 0 570.65 196.49Z" fill="#e5c494"/><path d="M568 198.4L570.65 196.49A3.25 3.25 0 0 0 569.39 195.45Z" fill="#b3b3b3"/><path d="M568 198.4L569.39 195.45A3.25 3.25 0 0 0 568.34 195.17Z" fill="#ffd92f"/><path d="M568 198.4L568.34 195.17A3.25 3.25 0 0 0 564.77 198.36Z" fill="#a6d854"/><path d="M568 198.4L564.77 198.36A3.25 3.25 0 0 0 565.07 199.76Z" fill="#66c2a5"/><path d="M568 198.4L565.07 199.76A3.25 3.25 0 0 0 570.35 200.67Z" fill="#e78ac3"/>
<circle cx="510.4" cy="209.8" r="3.25" fill="#8da0cb"/><path d="M510.4 209.8L513.65 209.81A3.25 3.25 0 0 0 510.60 206.56Z" fill="#fc8d62"/><path d="M510.4 209.8L510.60 206.56A3.25 3.25 0 0 0 507.20 210.38Z" fill="#e5c494"/><path d="M510.4 209.8L507.20 210.38A3.25 3.25 0 0 0 507.58 211.42Z" fill="#ffd92f"/><path d="M510.4 209.8L507.58 211.42A3.25 3.25 0 0 0 507.93 211.92Z" fill="#a6d854"/><path d="M510.4 209.8L507.93 211.92A3.25 3.25 0 0 0 508.49 212.44Z" fill="#66c2a5"/><path d="M510.4 209.8L508.49 212.44A3.25 3.25 0 0 0 509.66 212.97Z" fill="#e78ac3"/>
<circle cx="459.6" cy="182.6" r="3.25" fill="#8da0cb"/><path d="M459.6 182.6L462.86 182.63A3.25 3.25 0 0 0 462.84 182.21Z" fill="#e5c494"/><path d="M459.6 182.6L462.84 182.21A3.25 3.25 0 0 0 460.94 179.66Z" fill="#b3b3b3"/><path d="M459.6 182.6L460.94 179.66A3.25 3.25 0 0 0 459.98 179.40Z" fill="#a6d854"/><path d="M459.6 182.6L459.98 179.40A3.25 3.25 0 0 0 459.26 179.40Z" fill="#66c2a5"/>
<circle cx="536.8" cy="135.8" r="3.25" fill="#8da0cb"/><path d="M536.8 135.8L540.06 135.81A3.25 3.25 0 0 0 537.27 132.59Z" fill="#e5c494"/><path d="M536.8 135.8L537.27 132.59A3.25 3.25 0 0 0 535.93 132.68Z" fill="#ffd92f"/><path d="M536.8 135.8L535.93 132.68A3.25 3.25 0 0 0 533.92 137.28Z" fill="#a6d854"/><path d="M536.8 135.8L533.92 137.28A3.25 3.25 0 0 0 534.23 137.78Z" fill="#66c2a5"/><path d="M536.8 135.8L534.23 137.78A3.25 3.25 0 0 0 538.72 138.44Z" fill="#e78ac3"/>
<circle cx="444" cy="206.2" r="3.25" fill="#8da0cb"/><path d="M444 206.2L447.26 206.21A3.25 3.25 0 0 0 447.23 205.79Z" fill="#e5c494"/>
<circle cx="527.8" cy="226.6" r="3.25" fill="#8da0cb"/><path d="M527.8 226.6L531.06 226.61A3.25 3.25 0 0 0 527.03 223.46Z" fill="#fc8d62"/><path d="M527.8 226.6L527.03 223.46A3.25 3.25 0 0 0 524.68 227.51Z" fill="#b3b3b3"/><path d="M527.8 226.6L524.68 227.51A3.25 3.25 0 0 0 525.23 228.59Z" fill="#ffd92f"/><path d="M527.8 226.6L525.23 228.59A3.25 3.25 0 0 0 526.50 229.59Z" fill="#e78ac3"/>
<circle cx="539.2" cy="239.2" r="3.25" fill="#8da0cb"/><path d="M539.2 239.2L542.46 239.22A3.25 3.25 0 0 0 537.07 236.77Z" fill="#fc8d62"/><path d="M539.2 239.2L537.07 236.77A3.25 3.25 0 0 0 536.35 237.68Z" fill="#e5c494"/><path d="M539.2 239.2L536.35 237.68A3.25 3.25 0 0 0 535.97 239.00Z" fill="#ffd92f"/><path d="M539.2 239.2L535.97 239.00A3.25 3.25 0 0 0 536.05 239.96Z" fill="#a6d854"/><path d="M539.2 239.2L536.05 239.96A3.25 3.25 0 0 0 541.33 241.69Z" fill="#e78ac3"/>
<circle cx="558.4" cy="177.8" r="3.25" fill="#8da0cb"/><path d="M558.4 177.8L561.67 177.82A3.25 3.25 0 0 0 561.29 176.29Z" fill="#ffd92f"/><path d="M558.4 177.8L561.29 176.29A3.25 3.25 0 0 0 555.81 175.89Z" fill="#a6d854"/><path d="M558.4 177.8L555.81 175.89A3.25 3.25 0 0 0 556.47 180.43Z" fill="#66c2a5"/><path d="M558.4 177.8L556.47 180.43A3.25 3.25 0 0 0 560.21 180.54Z" fill="#e78ac3"/>
<circle cx="483.6" cy="217.6" r="3.25" fill="#8da0cb"/><path d="M483.6 217.6L486.87 217.61A3.25 3.25 0 0 0 486.76 216.74Z" fill="#fc8d62"/><path d="M483.6 217.6L486.76 216.74A3.25 3.25 0 0 0 482.48 214.57Z" fill="#e5c494"/><path d="M483.6 217.6L482.48 214.57A3.25 3.25 0 0 0 481.47 215.18Z" fill="#b3b3b3"/><path d="M483.6 217.6L481.47 215.18A3.25 3.25 0 0 0 480.94 215.77Z" fill="#a6d854"/><path d="M483.6 217.6L480.94 215.77A3.25 3.25 0 0 0 482.07 220.47Z" fill="#66c2a5"/><path d="M483.6 217.6L482.07 220.47A3.25 3.25 0 0 0 485.73 220.09Z" fill="#e78ac3"/>
<circle cx="451.8" cy="159.8" r="3.25" fill="#8da0cb"/><path d="M451.8 159.8L455.06 159.82A3.25 3.25 0 0 0 454.01 157.43Z" fill="#fc8d62"/>
<circle cx="487.8" cy="138.8" r="3.25" fill="#8da0cb"/><path d="M487.8 138.8L491.08 138.81A3.25 3.25 0 0 0 491.02 138.18Z" fill="#e5c494"/><path d="M487.8 138.8L491.02 138.18A3.25 3.25 0 0 0 489.73 136.18Z" fill="#b3b3b3"/><path d="M487.8 138.8L489.73 136.18A3.25 3.25 0 0 0 488.88 135.74Z" fill="#ffd92f"/><path d="M487.8 138.8L488.88 135.74A3.25 3.25 0 0 0 488.18 135.58Z" fill="#a6d854"/>
<circle cx="558.4" cy="245.8" r="3.25" fill="#8da0cb"/><path d="M558.4 245.8L561.67 245.82A3.25 3.25 0 0 0 561.50 244.79Z" fill="#e5c494"/><path d="M558.4 245.8L561.50 244.79A3.25 3.25 0 0 0 556.00 243.65Z" fill="#a6d854"/><path d="M558.4 245.8L556.00 243.65A3.25 3.25 0 0 0 555.40 244.62Z" fill="#66c2a5"/><path d="M558.4 245.8L555.40 244.62A3.25 3.25 0 0 0 556.28 248.27Z" fill="#e78ac3"/>
<circle cx="563.8" cy="185" r="3.25" fill="#8da0cb"/><path d="M563.8 185L567.07 185.03A3.25 3.25 0 0 0 566.98 184.25Z" fill="#e5c494"/><path d="M563.8 185L566.98 184.25A3.25 3.25 0 0 0 566.67 183.46Z" fill="#b3b3b3"/><path d="M563.8 185L566.67 183.46A3.25 3.25 0 0 0 562.86 181.92Z" fill="#ffd92f"/><path d="M563.8 185L562.86 181.92A3.25 3.25 0 0 0 561.69 187.48Z" fill="#66c2a5"/>
<circle cx="568.6" cy="144.2" r="3.25" fill="#8da0cb"/><path d="M568.6 144.2L571.87 144.21A3.25 3.25 0 0 0 568.00 141.02Z" fill="#fc8d62"/><path d="M568.6 144.2L568.00 141.02A3.25 3.25 0 0 0 566.87 141.48Z" fill="#a6d854"/><path d="M568.6 144.2L566.87 141.48A3.25 3.25 0 0 0 565.87 145.93Z" fill="#66c2a5"/><path d="M568.6 144.2L565.87 145.93A3.25 3.25 0 0 0 570.53 146.84Z" fill="#e78ac3"/>
<circle cx="468.9" cy="220.7" r="3.25" fill="#8da0cb"/><path d="M468.9 220.7L472.14 220.71A3.25 3.25 0 0 0 472.08 220.12Z" fill="#b3b3b3"/><path d="M468.9 220.7L472.08 220.12A3.25 3.25 0 0 0 467.62 217.72Z" fill="#ffd92f"/><path d="M468.9 220.7L467.62 217.72A3.25 3.25 0 0 0 466.42 222.82Z" fill="#66c2a5"/><path d="M468.9 220.7L466.42 222.82A3.25 3.25 0 0 0 467.08 223.41Z" fill="#e78ac3"/>
<circle cx="463.8" cy="162.2" r="3.25" fill="#8da0cb"/><path d="M463.8 162.2L467.07 162.22A3.25 3.25 0 0 0 467.04 161.78Z" fill="#b3b3b3"/><path d="M463.8 162.2L467.04 161.78A3.25 3.25 0 0 0 466.74 160.79Z" fill="#ffd92f"/><path d="M463.8 162.2L466.74 160.79A3.25 3.25 0 0 0 466.47 160.35Z" fill="#a6d854"/><path d="M463.8 162.2L466.47 160.35A3.25 3.25 0 0 0 466.20 160.01Z" fill="#66c2a5"/>
<circle cx="502.8" cy="142.4" r="3.25" fill="#8da0cb"/><path d="M502.8 142.4L506.08 142.41A3.25 3.25 0 0 0 505.98 141.62Z" fill="#fc8d62"/><path d="M502.8 142.4L505.98 141.62A3.25 3.25 0 0 0 503.56 139.24Z" fill="#e5c494"/><path d="M502.8 142.4L503.56 139.24A3.25 3.25 0 0 0 499.62 141.92Z" fill="#b3b3b3"/><path d="M502.8 142.4L499.62 141.92A3.25 3.25 0 0 0 499.59 142.60Z" fill="#ffd92f"/><path d="M502.8 142.4L499.59 142.60A3.25 3.25 0 0 0 499.72 143.34Z" fill="#a6d854"/><path d="M502.8 142.4L499.72 143.34A3.25 3.25 0 0 0 500.02 144.04Z" fill="#e78ac3"/>
<circle cx="532.6" cy="236" r="3.25" fill="#8da0cb"/><path d="M532.6 236L535.89 235.97A3.25 3.25 0 0 0 535.86 235.54Z" fill="#e5c494"/><path d="M532.6 236L535.86 235.54A3.25 3.25 0 0 0 535.31 234.12Z" fill="#b3b3b3"/><path d="M532.6 236L535.31 234.12A3.25 3.25 0 0 0 534.11 233.07Z" fill="#a6d854"/><path d="M532.6 236L534.11 233.07A3.25 3.25 0 0 0 529.48 236.72Z" fill="#e78ac3"/>
<circle cx="550" cy="211.6" r="3.25" fill="#8da0cb"/><path d="M550 211.6L553.27 211.61A3.25 3.25 0 0 0 553.19 210.92Z" fill="#fc8d62"/><path d="M550 211.6L553.19 210.92A3.25 3.25 0 0 0 553.07 210.50Z" fill="#e5c494"/><path d="M550 211.6L553.07 210.50A3.25 3.25 0 0 0 548.77 208.60Z" fill="#b3b3b3"/><path d="M550 211.6L548.77 208.60A3.25 3.25 0 0 0 547.81 209.22Z" fill="#ffd92f"/><path d="M550 211.6L547.81 209.22A3.25 3.25 0 0 0 546.99 210.41Z" fill="#a6d854"/><path d="M550 211.6L546.99 210.41A3.25 3.25 0 0 0 548.34 214.39Z" fill="#66c2a5"/>
<circle cx="521.2" cy="139.4" r="3.25" fill="#8da0cb"/><path d="M521.2 139.4L524.46 139.41A3.25 3.25 0 0 0 524.09 137.92Z" fill="#fc8d62"/><path d="M521.2 139.4L524.09 137.92A3.25 3.25 0 0 0 520.57 136.22Z" fill="#e5c494"/><path d="M521.2 139.4L520.57 136.22A3.25 3.25 0 0 0 519.15 136.89Z" fill="#ffd92f"/><path d="M521.2 139.4L519.15 136.89A3.25 3.25 0 0 0 518.35 140.96Z" fill="#66c2a5"/>
<circle cx="484.2" cy="143" r="3.25" fill="#8da0cb"/><path d="M484.2 143L487.47 143.01A3.25 3.25 0 0 0 487.43 142.46Z" fill="#fc8d62"/><path d="M484.2 143L487.43 142.46A3.25 3.25 0 0 0 486.25 140.47Z" fill="#e5c494"/><path d="M484.2 143L486.25 140.47A3.25 3.25 0 0 0 485.47 140.01Z" fill="#ffd92f"/>
<circle cx="490.8" cy="248.8" r="3.25" fill="#8da0cb"/><path d="M490.8 248.8L494.08 248.82A3.25 3.25 0 0 0 493.79 247.48Z" fill="#fc8d62"/><path d="M490.8 248.8L493.79 247.48A3.25 3.25 0 0 0 493.29 246.70Z" fill="#e5c494"/><path d="M490.8 248.8L493.29 246.70A3.25 3.25 0 0 0 492.85 246.28Z" fill="#ffd92f"/><path d="M490.8 248.8L492.85 246.28A3.25 3.25 0 0 0 487.61 248.34Z" fill="#66c2a5"/>
<circle cx="448.2" cy="183.2" r="3.25" fill="#8da0cb"/><path d="M448.2 183.2L451.46 183.23A3.25 3.25 0 0 0 450.88 181.37Z" fill="#e5c494"/><path d="M448.2 183.2L450.88 181.37A3.25 3.25 0 0 0 450.41 180.83Z" fill="#b3b3b3"/><path d="M448.2 183.2L450.41 180.83A3.25 3.25 0 0 0 450.05 180.55Z" fill="#a6d854"/><path d="M448.2 183.2L450.05 180.55A3.25 3.25 0 0 0 449.41 180.21Z" fill="#66c2a5"/>
<circle cx="438.6" cy="201.4" r="3.25" fill="#8da0cb"/><path d="M438.6 201.4L441.86 201.40A3.25 3.25 0 0 0 441.78 200.69Z" fill="#fc8d62"/><path d="M438.6 201.4L441.78 200.69A3.25 3.25 0 0 0 440.36 198.67Z" fill="#ffd92f"/>
<circle cx="482.4" cy="242.2" r="3.25" fill="#8da0cb"/><path d="M482.4 242.2L485.67 242.22A3.25 3.25 0 0 0 485.58 241.46Z" fill="#fc8d62"/><path d="M482.4 242.2L485.58 241.46A3.25 3.25 0 0 0 483.52 239.16Z" fill="#e5c494"/><path d="M482.4 242.2L483.52 239.16A3.25 3.25 0 0 0 482.83 239.00Z" fill="#a6d854"/><path d="M482.4 242.2L482.83 239.00A3.25 3.25 0 0 0 482.38 238.97Z" fill="#66c2a5"/>
<circle cx="547" cy="217.6" r="3.25" fill="#8da0cb"/><path d="M547 217.6L550.27 217.61A3.25 3.25 0 0 0 547.89 214.48Z" fill="#fc8d62"/><path d="M547 217.6L547.89 214.48A3.25 3.25 0 0 0 543.86 218.38Z" fill="#e5c494"/><path d="M547 217.6L543.86 218.38A3.25 3.25 0 0 0 544.12 219.08Z" fill="#b3b3b3"/><path d="M547 217.6L544.12 219.08A3.25 3.25 0 0 0 544.69 219.88Z" fill="#ffd92f"/><path d="M547 217.6L544.69 219.88A3.25 3.25 0 0 0 548.62 220.44Z" fill="#66c2a5"/><path d="M547 217.6L548.62 220.44A3.25 3.25 0 0 0 549.03 220.16Z" fill="#e78ac3"/>
<circle cx="467.4" cy="194.6" r="3.25" fill="#8da0cb"/><path d="M467.4 194.6L470.67 194.63A3.25 3.25 0 1 0 464.27 195.44Z" fill="#fc8d62"/><path d="M467.4 194.6L464.27 195.44A3.25 3.25 0 0 0 464.73 196.46Z" fill="#e5c494"/><path d="M467.4 194.6L464.73 196.46A3.25 3.25 0 0 0 465.42 197.19Z" fill="#b3b3b3"/>
<circle cx="468" cy="178.4" r="3.25" fill="#8da0cb"/><path d="M468 178.4L471.27 178.42A3.25 3.25 0 0 0 469.49 175.53Z" fill="#fc8d62"/><path d="M468 178.4L469.49 175.53A3.25 3.25 0 0 0 468.31 175.19Z" fill="#e5c494"/><path d="M468 178.4L468.31 175.19A3.25 3.25 0 0 0 467.76 175.19Z" fill="#ffd92f"/>
<circle cx="505.8" cy="228.4" r="3.25" fill="#8da0cb"/><path d="M505.8 228.4L509.08 228.41A3.25 3.25 0 0 0 508.99 227.64Z" fill="#fc8d62"/><path d="M505.8 228.4L508.99 227.64A3.25 3.25 0 0 0 502.68 227.63Z" fill="#e5c494"/><path d="M505.8 228.4L502.68 227.63A3.25 3.25 0 0 0 502.60 228.71Z" fill="#b3b3b3"/><path d="M505.8 228.4L502.60 228.71A3.25 3.25 0 0 0 507.06 231.43Z" fill="#ffd92f"/><path d="M505.8 228.4L507.06 231.43A3.25 3.25 0 0 0 507.82 230.99Z" fill="#a6d854"/>
<circle cx="524.2" cy="198.4" r="3.25" fill="#8da0cb"/><path d="M524.2 198.4L527.46 198.40A3.25 3.25 0 0 0 521.89 196.12Z" fill="#fc8d62"/><path d="M524.2 198.4L521.89 196.12A3.25 3.25 0 0 0 524.68 201.62Z" fill="#b3b3b3"/><path d="M524.2 198.4L524.68 201.62A3.25 3.25 0 0 0 525.77 201.25Z" fill="#66c2a5"/>
<circle cx="523" cy="218.8" r="3.25" fill="#8da0cb"/><path d="M523 218.8L526.26 218.81A3.25 3.25 0 0 0 521.83 215.78Z" fill="#e5c494"/><path d="M523 218.8L521.83 215.78A3.25 3.25 0 0 0 519.85 219.58Z" fill="#b3b3b3"/><path d="M523 218.8L519.85 219.58A3.25 3.25 0 0 0 523.89 221.94Z" fill="#a6d854"/><path d="M523 218.8L523.89 221.94A3.25 3.25 0 0 0 524.51 221.69Z" fill="#66c2a5"/><path d="M523 218.8L524.51 221.69A3.25 3.25 0 0 0 524.98 221.39Z" fill="#e78ac3"/>
<circle cx="520.6" cy="191" r="3.25" fill="#8da0cb"/><path d="M520.6 191L523.86 191.03A3.25 3.25 0 0 0 523.81 190.52Z" fill="#fc8d62"/><path d="M520.6 191L523.81 190.52A3.25 3.25 0 0 0 520.00 187.84Z" fill="#e5c494"/><path d="M520.6 191L520.00 187.84A3.25 3.25 0 0 0 517.49 191.94Z" fill="#b3b3b3"/><path d="M520.6 191L517.49 191.94A3.25 3.25 0 0 0 517.95 192.91Z" fill="#ffd92f"/><path d="M520.6 191L517.95 192.91A3.25 3.25 0 0 0 518.76 193.71Z" fill="#a6d854"/>
<circle cx="513.4" cy="133.4" r="3.25" fill="#8da0cb"/><path d="M513.4 133.4L516.65 133.41A3.25 3.25 0 0 0 511.73 130.62Z" fill="#e5c494"/><path d="M513.4 133.4L511.73 130.62A3.25 3.25 0 0 0 510.80 131.45Z" fill="#ffd92f"/><path d="M513.4 133.4L510.80 131.45A3.25 3.25 0 0 0 510.50 131.94Z" fill="#a6d854"/>
<circle cx="451.2" cy="218.8" r="3.25" fill="#8da0cb"/><path d="M451.2 218.8L454.46 218.81A3.25 3.25 0 0 0 450.74 215.59Z" fill="#fc8d62"/><path d="M451.2 218.8L450.74 215.59A3.25 3.25 0 0 0 450.28 215.70Z" fill="#e5c494"/><path d="M451.2 218.8L450.28 215.70A3.25 3.25 0 0 0 448.11 219.79Z" fill="#ffd92f"/><path d="M451.2 218.8L448.11 219.79A3.25 3.25 0 0 0 448.50 220.61Z" fill="#e78ac3"/>
<circle cx="576.4" cy="172.4" r="3.25" fill="#8da0cb"/><path d="M576.4 172.4L579.68 172.42A3.25 3.25 0 0 0 579.62 171.81Z" fill="#fc8d62"/><path d="M576.4 172.4L579.62 171.81A3.25 3.25 0 0 0 579.34 170.98Z" fill="#e5c494"/><path d="M576.4 172.4L579.34 170.98A3.25 3.25 0 0 0 578.31 169.78Z" fill="#b3b3b3"/><path d="M576.4 172.4L578.31 169.78A3.25 3.25 0 0 0 576.99 169.22Z" fill="#ffd92f"/><path d="M576.4 172.4L576.99 169.22A3.25 3.25 0 0 0 573.30 173.32Z" fill="#a6d854"/><path d="M576.4 172.4L573.30 173.32A3.25 3.25 0 0 0 574.06 174.65Z" fill="#66c2a5"/><path d="M576.4 172.4L574.06 174.65A3.25 3.25 0 0 0 578.83 174.62Z" fill="#e78ac3"/>
<circle cx="516" cy="134" r="3.25" fill="#8da0cb"/><path d="M516 134L519.25 133.98A3.25 3.25 0 0 0 513.27 132.21Z" fill="#e5c494"/><path d="M516 134L513.27 132.21A3.25 3.25 0 0 0 512.75 133.82Z" fill="#a6d854"/>
<circle cx="507" cy="164.6" r="3.25" fill="#8da0cb"/><path d="M507 164.6L510.28 164.62A3.25 3.25 0 0 0 510.19 163.85Z" fill="#e5c494"/><path d="M507 164.6L510.19 163.85A3.25 3.25 0 0 0 506.43 161.43Z" fill="#b3b3b3"/><path d="M507 164.6L506.43 161.43A3.25 3.25 0 0 0 503.79 164.37Z" fill="#a6d854"/><path d="M507 164.6L503.79 164.37A3.25 3.25 0 0 0 503.95 165.63Z" fill="#e78ac3"/>
<circle cx="564.4" cy="158" r="3.25" fill="#8da0cb"/><path d="M564.4 158L567.67 158.02A3.25 3.25 0 0 0 567.53 157.05Z" fill="#e5c494"/><path d="M564.4 158L567.53 157.05A3.25 3.25 0 0 0 567.07 156.14Z" fill="#b3b3b3"/><path d="M564.4 158L567.07 156.14A3.25 3.25 0 0 0 566.27 155.34Z" fill="#a6d854"/><path d="M564.4 158L566.27 155.34A3.25 3.25 0 0 0 561.90 155.97Z" fill="#66c2a5"/><path d="M564.4 158L561.90 155.97A3.25 3.25 0 0 0 562.53 160.66Z" fill="#e78ac3"/>
<circle cx="569.2" cy="176" r="3.25" fill="#8da0cb"/><path d="M569.2 176L572.47 176.02A3.25 3.25 0 0 0 572.45 175.59Z" fill="#fc8d62"/><path d="M569.2 176L572.45 175.59A3.25 3.25 0 0 0 568.86 172.79Z" fill="#e5c494"/><path d="M569.2 176L568.86 172.79A3.25 3.25 0 0 0 567.47 173.29Z" fill="#ffd92f"/><path d="M569.2 176L567.47 173.29A3.25 3.25 0 0 0 567.41 178.72Z" fill="#e78ac3"/>
<circle cx="489.6" cy="225.4" r="3.25" fill="#8da0cb"/><path d="M489.6 225.4L492.88 225.41A3.25 3.25 0 0 0 489.65 222.16Z" fill="#fc8d62"/><path d="M489.6 225.4L489.65 222.16A3.25 3.25 0 0 0 486.41 225.88Z" fill="#e5c494"/><path d="M489.6 225.4L486.41 225.88A3.25 3.25 0 0 0 486.60 226.60Z" fill="#b3b3b3"/><path d="M489.6 225.4L486.60 226.60A3.25 3.25 0 0 0 487.21 227.59Z" fill="#66c2a5"/>
<circle cx="524.9" cy="184.2" r="3.25" fill="#8da0cb"/><path d="M524.9 184.2L528.13 184.16A3.25 3.25 0 0 0 524.38 180.95Z" fill="#fc8d62"/><path d="M524.9 184.2L524.38 180.95A3.25 3.25 0 0 0 523.98 181.04Z" fill="#e5c494"/><path d="M524.9 184.2L523.98 181.04A3.25 3.25 0 0 0 522.11 185.86Z" fill="#b3b3b3"/><path d="M524.9 184.2L522.11 185.86A3.25 3.25 0 0 0 522.66 186.52Z" fill="#ffd92f"/><path d="M524.9 184.2L522.66 186.52A3.25 3.25 0 0 0 523.04 186.83Z" fill="#66c2a5"/>
<circle cx="453" cy="153.8" r="3.25" fill="#8da0cb"/><path d="M453 153.8L456.26 153.82A3.25 3.25 0 0 0 456.16 153.00Z" fill="#e5c494"/><path d="M453 153.8L456.16 153.00A3.25 3.25 0 0 0 454.44 150.90Z" fill="#b3b3b3"/><path d="M453 153.8L454.44 150.90A3.25 3.25 0 0 0 453.59 150.62Z" fill="#a6d854"/><path d="M453 153.8L453.59 150.62A3.25 3.25 0 0 0 451.31 151.05Z" fill="#e78ac3"/>
<circle cx="471" cy="141.8" r="3.25" fill="#8da0cb"/><path d="M471 141.8L474.27 141.81A3.25 3.25 0 0 0 474.10 140.76Z" fill="#a6d854"/><path d="M471 141.8L474.10 140.76A3.25 3.25 0 0 0 473.75 140.05Z" fill="#e78ac3"/>
<circle cx="473.4" cy="153.2" r="3.25" fill="#8da0cb"/><path d="M473.4 153.2L476.67 153.21A3.25 3.25 0 0 0 476.52 152.23Z" fill="#e5c494"/><path d="M473.4 153.2L476.52 152.23A3.25 3.25 0 0 0 476.15 151.46Z" fill="#b3b3b3"/><path d="M473.4 153.2L476.15 151.46A3.25 3.25 0 0 0 475.90 151.12Z" fill="#e78ac3"/>
<circle cx="540.1" cy="224.1" r="3.25" fill="#8da0cb"/><path d="M540.1 224.1L543.33 224.08A3.25 3.25 0 0 0 542.98 222.62Z" fill="#fc8d62"/><path d="M540.1 224.1L542.98 222.62A3.25 3.25 0 0 0 537.23 222.52Z" fill="#e5c494"/><path d="M540.1 224.1L537.23 222.52A3.25 3.25 0 0 0 536.87 223.56Z" fill="#b3b3b3"/><path d="M540.1 224.1L536.87 223.56A3.25 3.25 0 0 0 536.86 224.50Z" fill="#ffd92f"/><path d="M540.1 224.1L536.86 224.50A3.25 3.25 0 0 0 537.10 225.38Z" fill="#a6d854"/>
<circle cx="451.2" cy="238" r="3.25" fill="#8da0cb"/><path d="M451.2 238L454.46 238.02A3.25 3.25 0 0 0 454.36 237.22Z" fill="#a6d854"/><path d="M451.2 238L454.36 237.22A3.25 3.25 0 0 0 452.99 235.30Z" fill="#66c2a5"/><path d="M451.2 238L452.99 235.30A3.25 3.25 0 0 0 452.49 235.03Z" fill="#e78ac3"/>
<circle cx="534.4" cy="238" r="3.25" fill="#8da0cb"/><path d="M534.4 238L537.66 238.02A3.25 3.25 0 0 0 537.51 237.03Z" fill="#fc8d62"/><path d="M534.4 238L537.51 237.03A3.25 3.25 0 0 0 537.06 236.14Z" fill="#ffd92f"/><path d="M534.4 238L537.06 236.14A3.25 3.25 0 0 0 535.98 235.17Z" fill="#a6d854"/><path d="M534.4 238L535.98 235.17A3.25 3.25 0 0 0 534.59 234.77Z" fill="#66c2a5"/><path d="M534.4 238L534.59 234.77A3.25 3.25 0 0 0 531.40 239.25Z" fill="#e78ac3"/>
<circle cx="439.8" cy="208.6" r="3.25" fill="#8da0cb"/>
<circle cx="458.4" cy="177.2" r="3.25" fill="#8da0cb"/><path d="M458.4 177.2L461.66 177.22A3.25 3.25 0 0 0 459.38 174.12Z" fill="#ffd92f"/><path d="M458.4 177.2L459.38 174.12A3.25 3.25 0 0 0 458.63 173.98Z" fill="#66c2a5"/>
<circle cx="563.8" cy="233.8" r="3.25" fill="#8da0cb"/><path d="M563.8 233.8L567.07 233.82A3.25 3.25 0 0 0 566.78 232.48Z" fill="#fc8d62"/><path d="M563.8 233.8L566.78 232.48A3.25 3.25 0 0 0 566.19 231.59Z" fill="#b3b3b3"/><path d="M563.8 233.8L566.19 231.59A3.25 3.25 0 0 0 565.13 230.84Z" fill="#ffd92f"/><path d="M563.8 233.8L565.13 230.84A3.25 3.25 0 0 0 561.15 231.97Z" fill="#a6d854"/><path d="M563.8 233.8L561.15 231.97A3.25 3.25 0 0 0 560.58 233.57Z" fill="#66c2a5"/><path d="M563.8 233.8L560.58 233.57A3.25 3.25 0 0 0 563.08 236.98Z" fill="#e78ac3"/>
<circle cx="582.4" cy="176.6" r="3.25" fill="#8da0cb"/><path d="M582.4 176.6L585.68 176.62A3.25 3.25 0 0 0 585.64 176.10Z" fill="#e5c494"/><path d="M582.4 176.6L585.64 176.10A3.25 3.25 0 0 0 584.88 174.49Z" fill="#b3b3b3"/><path d="M582.4 176.6L584.88 174.49A3.25 3.25 0 0 0 583.97 173.76Z" fill="#a6d854"/><path d="M582.4 176.6L583.97 173.76A3.25 3.25 0 0 0 583.33 173.50Z" fill="#66c2a5"/><path d="M582.4 176.6L583.33 173.50A3.25 3.25 0 1 0 584.64 179.00Z" fill="#e78ac3"/>
<circle cx="469.8" cy="209.2" r="3.25" fill="#8da0cb"/><path d="M469.8 209.2L473.07 209.21A3.25 3.25 0 0 0 473.01 208.59Z" fill="#b3b3b3"/><path d="M469.8 209.2L473.01 208.59A3.25 3.25 0 0 0 472.83 207.98Z" fill="#ffd92f"/><path d="M469.8 209.2L472.83 207.98A3.25 3.25 0 0 0 472.45 207.30Z" fill="#a6d854"/><path d="M469.8 209.2L472.45 207.30A3.25 3.25 0 0 0 469.07 206.04Z" fill="#e78ac3"/>
<circle cx="550" cy="189.8" r="3.25" fill="#8da0cb"/><path d="M550 189.8L553.27 189.83A3.25 3.25 0 0 0 547.34 187.98Z" fill="#e5c494"/><path d="M550 189.8L547.34 187.98A3.25 3.25 0 0 0 546.80 189.33Z" fill="#b3b3b3"/><path d="M550 189.8L546.80 189.33A3.25 3.25 0 0 0 550.24 193.07Z" fill="#a6d854"/><path d="M550 189.8L550.24 193.07A3.25 3.25 0 0 0 551.39 192.78Z" fill="#66c2a5"/><path d="M550 189.8L551.39 192.78A3.25 3.25 0 0 0 551.90 192.48Z" fill="#e78ac3"/>
<circle cx="575.8" cy="192.2" r="3.25" fill="#8da0cb"/><path d="M575.8 192.2L579.08 192.23A3.25 3.25 0 0 0 579.01 191.56Z" fill="#e5c494"/><path d="M575.8 192.2L579.01 191.56A3.25 3.25 0 0 0 573.51 189.96Z" fill="#b3b3b3"/><path d="M575.8 192.2L573.51 189.96A3.25 3.25 0 0 0 575.28 195.43Z" fill="#ffd92f"/><path d="M575.8 192.2L575.28 195.43A3.25 3.25 0 0 0 576.99 195.27Z" fill="#66c2a5"/><path d="M575.8 192.2L576.99 195.27A3.25 3.25 0 0 0 577.71 194.88Z" fill="#e78ac3"/>
<circle cx="493.8" cy="238.6" r="3.25" fill="#8da0cb"/><path d="M493.8 238.6L497.08 238.62A3.25 3.25 0 0 0 491.02 236.99Z" fill="#e5c494"/><path d="M493.8 238.6L491.02 236.99A3.25 3.25 0 0 0 494.34 241.83Z" fill="#b3b3b3"/><path d="M493.8 238.6L494.34 241.83A3.25 3.25 0 0 0 495.38 241.47Z" fill="#a6d854"/>
<circle cx="538" cy="234.4" r="3.25" fill="#8da0cb"/><path d="M538 234.4L541.26 234.42A3.25 3.25 0 0 0 541.07 233.31Z" fill="#fc8d62"/><path d="M538 234.4L541.07 233.31A3.25 3.25 0 0 0 534.89 233.52Z" fill="#e5c494"/><path d="M538 234.4L534.89 233.52A3.25 3.25 0 0 0 538.36 237.65Z" fill="#ffd92f"/><path d="M538 234.4L538.36 237.65A3.25 3.25 0 0 0 538.94 237.53Z" fill="#66c2a5"/><path d="M538 234.4L538.94 237.53A3.25 3.25 0 0 0 540.14 236.87Z" fill="#e78ac3"/>
<circle cx="571.6" cy="153.2" r="3.25" fill="#8da0cb"/><path d="M571.6 153.2L574.88 153.21A3.25 3.25 0 0 0 574.57 151.84Z" fill="#fc8d62"/><path d="M571.6 153.2L574.57 151.84A3.25 3.25 0 0 0 574.11 151.12Z" fill="#e5c494"/><path d="M571.6 153.2L574.11 151.12A3.25 3.25 0 0 0 573.01 150.27Z" fill="#ffd92f"/><path d="M571.6 153.2L573.01 150.27A3.25 3.25 0 0 0 572.31 150.04Z" fill="#a6d854"/><path d="M571.6 153.2L572.31 150.04A3.25 3.25 0 1 0 571.26 156.44Z" fill="#e78ac3"/>
<circle cx="491.4" cy="183.8" r="3.25" fill="#8da0cb"/><path d="M491.4 183.8L494.68 183.83A3.25 3.25 0 0 0 493.36 181.21Z" fill="#b3b3b3"/><path d="M491.4 183.8L493.36 181.21A3.25 3.25 0 0 0 492.74 180.85Z" fill="#ffd92f"/><path d="M491.4 183.8L492.74 180.85A3.25 3.25 0 0 0 488.58 182.27Z" fill="#a6d854"/>
<circle cx="516.4" cy="129.2" r="3.25" fill="#8da0cb"/><path d="M516.4 129.2L519.65 129.21A3.25 3.25 0 0 0 515.67 126.04Z" fill="#e5c494"/><path d="M516.4 129.2L515.67 126.04A3.25 3.25 0 0 0 515.07 126.24Z" fill="#ffd92f"/><path d="M516.4 129.2L515.07 126.24A3.25 3.25 0 0 0 513.73 131.06Z" fill="#66c2a5"/><path d="M516.4 129.2L513.73 131.06A3.25 3.25 0 0 0 514.42 131.78Z" fill="#e78ac3"/>
<circle cx="474.6" cy="149" r="3.25" fill="#8da0cb"/><path d="M474.6 149L477.87 149.01A3.25 3.25 0 0 0 477.77 148.20Z" fill="#ffd92f"/><path d="M474.6 149L477.77 148.20A3.25 3.25 0 0 0 477.64 147.81Z" fill="#e78ac3"/>
<circle cx="560.2" cy="204.4" r="3.25" fill="#8da0cb"/><path d="M560.2 204.4L563.47 204.40A3.25 3.25 0 0 0 563.17 203.04Z" fill="#fc8d62"/><path d="M560.2 204.4L563.17 203.04A3.25 3.25 0 0 0 562.14 201.78Z" fill="#e5c494"/><path d="M560.2 204.4L562.14 201.78A3.25 3.25 0 0 0 557.23 203.14Z" fill="#b3b3b3"/><path d="M560.2 204.4L557.23 203.14A3.25 3.25 0 0 0 557.06 203.64Z" fill="#ffd92f"/><path d="M560.2 204.4L557.06 203.64A3.25 3.25 0 0 0 557.10 205.31Z" fill="#66c2a5"/><path d="M560.2 204.4L557.10 205.31A3.25 3.25 0 0 0 562.45 206.77Z" fill="#e78ac3"/>
<circle cx="473.4" cy="133.4" r="3.25" fill="#8da0cb"/><path d="M473.4 133.4L476.67 133.41A3.25 3.25 0 0 0 476.62 132.84Z" fill="#fc8d62"/><path d="M473.4 133.4L476.62 132.84A3.25 3.25 0 0 0 476.45 132.23Z" fill="#b3b3b3"/><path d="M473.4 133.4L476.45 132.23A3.25 3.25 0 0 0 475.89 131.30Z" fill="#66c2a5"/><path d="M473.4 133.4L475.89 131.30A3.25 3.25 0 0 0 474.53 130.35Z" fill="#e78ac3"/>
<circle cx="574" cy="206.2" r="3.25" fill="#8da0cb"/><path d="M574 206.2L577.28 206.21A3.25 3.25 0 0 0 577.10 205.14Z" fill="#e5c494"/><path d="M574 206.2L577.10 205.14A3.25 3.25 0 0 0 576.22 203.81Z" fill="#b3b3b3"/><path d="M574 206.2L576.22 203.81A3.25 3.25 0 0 0 570.80 206.57Z" fill="#ffd92f"/><path d="M574 206.2L570.80 206.57A3.25 3.25 0 0 0 575.63 209.03Z" fill="#a6d854"/><path d="M574 206.2L575.63 209.03A3.25 3.25 0 0 0 576.37 208.45Z" fill="#66c2a5"/>
<circle cx="580" cy="164" r="3.25" fill="#8da0cb"/><path d="M580 164L583.28 164.02A3.25 3.25 0 0 0 582.96 162.61Z" fill="#fc8d62"/><path d="M580 164L582.96 162.61A3.25 3.25 0 0 0 582.66 162.11Z" fill="#e5c494"/><path d="M580 164L582.66 162.11A3.25 3.25 0 0 0 578.56 161.12Z" fill="#ffd92f"/><path d="M580 164L578.56 161.12A3.25 3.25 0 0 0 577.36 162.16Z" fill="#a6d854"/><path d="M580 164L577.36 162.16A3.25 3.25 0 0 0 577.71 166.29Z" fill="#e78ac3"/>
<circle cx="484.8" cy="250" r="3.25" fill="#8da0cb"/><path d="M484.8 250L488.07 250.02A3.25 3.25 0 0 0 487.79 248.70Z" fill="#fc8d62"/><path d="M484.8 250L487.79 248.70A3.25 3.25 0 0 0 487.25 247.86Z" fill="#e5c494"/>
<circle cx="503.4" cy="218.2" r="3.25" fill="#8da0cb"/><path d="M503.4 218.2L506.68 218.21A3.25 3.25 0 0 0 502.84 215.02Z" fill="#fc8d62"/><path d="M503.4 218.2L502.84 215.02A3.25 3.25 0 0 0 502.19 221.21Z" fill="#e5c494"/><path d="M503.4 218.2L502.19 221.21A3.25 3.25 0 0 0 502.87 221.41Z" fill="#a6d854"/><path d="M503.4 218.2L502.87 221.41A3.25 3.25 0 0 0 504.12 221.39Z" fill="#66c2a5"/><path d="M503.4 218.2L504.12 221.39A3.25 3.25 0 0 0 505.32 220.85Z" fill="#e78ac3"/>
<circle cx="454.2" cy="245.2" r="3.25" fill="#8da0cb"/><path d="M454.2 245.2L457.46 245.22A3.25 3.25 0 0 0 457.38 244.50Z" fill="#fc8d62"/><path d="M454.2 245.2L457.38 244.50A3.25 3.25 0 0 0 457.25 244.07Z" fill="#a6d854"/><path d="M454.2 245.2L457.25 244.07A3.25 3.25 0 0 0 456.81 243.26Z" fill="#66c2a5"/><path d="M454.2 245.2L456.81 243.26A3.25 3.25 0 0 0 455.38 242.19Z" fill="#e78ac3"/>
<circle cx="566.8" cy="162.8" r="3.25" fill="#8da0cb"/><path d="M566.8 162.8L570.07 162.82A3.25 3.25 0 0 0 569.77 161.45Z" fill="#fc8d62"/><path d="M566.8 162.8L569.77 161.45A3.25 3.25 0 0 0 569.47 160.93Z" fill="#e5c494"/><path d="M566.8 162.8L569.47 160.93A3.25 3.25 0 0 0 568.43 160.00Z" fill="#a6d854"/><path d="M566.8 162.8L568.43 160.00A3.25 3.25 0 0 0 567.51 159.64Z" fill="#66c2a5"/><path d="M566.8 162.8L567.51 159.64A3.25 3.25 0 1 0 566.27 166.02Z" fill="#e78ac3"/>
<circle cx="508.6" cy="233.8" r="3.25" fill="#8da0cb"/><path d="M508.6 233.8L511.85 233.82A3.25 3.25 0 0 0 505.69 232.38Z" fill="#fc8d62"/><path d="M508.6 233.8L505.69 232.38A3.25 3.25 0 0 0 505.37 233.47Z" fill="#e5c494"/><path d="M508.6 233.8L505.37 233.47A3.25 3.25 0 0 0 505.37 234.18Z" fill="#e78ac3"/>
<circle cx="475.8" cy="207.4" r="3.25" fill="#8da0cb"/><path d="M475.8 207.4L479.07 207.41A3.25 3.25 0 0 0 476.11 204.17Z" fill="#fc8d62"/><path d="M475.8 207.4L476.11 204.17A3.25 3.25 0 0 0 475.02 204.26Z" fill="#e5c494"/><path d="M475.8 207.4L475.02 204.26A3.25 3.25 0 0 0 472.65 208.10Z" fill="#ffd92f"/><path d="M475.8 207.4L472.65 208.10A3.25 3.25 0 0 0 473.13 209.22Z" fill="#a6d854"/>
<circle cx="566.2" cy="224.2" r="3.25" fill="#8da0cb"/><path d="M566.2 224.2L569.47 224.21A3.25 3.25 0 0 0 563.87 221.97Z" fill="#fc8d62"/><path d="M566.2 224.2L563.87 221.97A3.25 3.25 0 0 0 564.39 226.90Z" fill="#ffd92f"/><path d="M566.2 224.2L564.39 226.90A3.25 3.25 0 0 0 567.91 226.99Z" fill="#a6d854"/>
<circle cx="549.4" cy="157.4" r="3.25" fill="#8da0cb"/><path d="M549.4 157.4L552.67 157.42A3.25 3.25 0 0 0 552.35 156.01Z" fill="#fc8d62"/><path d="M549.4 157.4L552.35 156.01A3.25 3.25 0 0 0 546.48 156.02Z" fill="#e5c494"/><path d="M549.4 157.4L546.48 156.02A3.25 3.25 0 0 0 550.82 160.35Z" fill="#b3b3b3"/><path d="M549.4 157.4L550.82 160.35A3.25 3.25 0 0 0 551.38 160.01Z" fill="#ffd92f"/>
<circle cx="544.7" cy="146.5" r="3.25" fill="#8da0cb"/><path d="M544.7 146.5L547.91 146.48A3.25 3.25 0 0 0 547.50 144.89Z" fill="#fc8d62"/><path d="M544.7 146.5L547.50 144.89A3.25 3.25 0 0 0 542.92 143.74Z" fill="#66c2a5"/><path d="M544.7 146.5L542.92 143.74A3.25 3.25 0 0 0 542.55 148.95Z" fill="#e78ac3"/>
<circle cx="553.6" cy="205.6" r="3.25" fill="#8da0cb"/><path d="M553.6 205.6L556.87 205.61A3.25 3.25 0 0 0 554.30 202.43Z" fill="#fc8d62"/><path d="M553.6 205.6L554.30 202.43A3.25 3.25 0 0 0 550.74 204.10Z" fill="#e5c494"/><path d="M553.6 205.6L550.74 204.10A3.25 3.25 0 0 0 552.09 208.48Z" fill="#b3b3b3"/><path d="M553.6 205.6L552.09 208.48A3.25 3.25 0 0 0 553.21 208.83Z" fill="#ffd92f"/><path d="M553.6 205.6L553.21 208.83A3.25 3.25 0 0 0 554.12 208.82Z" fill="#a6d854"/><path d="M553.6 205.6L554.12 208.82A3.25 3.25 0 0 0 555.37 208.34Z" fill="#66c2a5"/><path d="M553.6 205.6L555.37 208.34A3.25 3.25 0 0 0 556.01 207.80Z" fill="#e78ac3"/>
<circle cx="472.2" cy="239.2" r="3.25" fill="#8da0cb"/><path d="M472.2 239.2L475.47 239.22A3.25 3.25 0 0 0 475.37 238.42Z" fill="#fc8d62"/><path d="M472.2 239.2L475.37 238.42A3.25 3.25 0 0 0 475.16 237.84Z" fill="#e5c494"/><path d="M472.2 239.2L475.16 237.84A3.25 3.25 0 0 0 474.60 237.01Z" fill="#a6d854"/><path d="M472.2 239.2L474.60 237.01A3.25 3.25 0 0 0 471.12 236.16Z" fill="#66c2a5"/><path d="M472.2 239.2L471.12 236.16A3.25 3.25 0 0 0 470.18 236.69Z" fill="#e78ac3"/>
<circle cx="439.8" cy="188.6" r="3.25" fill="#8da0cb"/><path d="M439.8 188.6L443.06 188.63A3.25 3.25 0 0 0 441.66 185.96Z" fill="#e5c494"/><path d="M439.8 188.6L441.66 185.96A3.25 3.25 0 0 0 440.90 185.57Z" fill="#a6d854"/>
<circle cx="523" cy="127.4" r="3.25" fill="#8da0cb"/><path d="M523 127.4L526.26 127.40A3.25 3.25 0 0 0 521.98 124.32Z" fill="#b3b3b3"/><path d="M523 127.4L521.98 124.32A3.25 3.25 0 0 0 520.13 128.91Z" fill="#66c2a5"/><path d="M523 127.4L520.13 128.91A3.25 3.25 0 0 0 521.03 129.98Z" fill="#e78ac3"/>
<circle cx="518.2" cy="194.6" r="3.25" fill="#8da0cb"/><path d="M518.2 194.6L521.45 194.63A3.25 3.25 0 1 0 514.97 194.95Z" fill="#e5c494"/><path d="M518.2 194.6L514.97 194.95A3.25 3.25 0 0 0 519.86 197.43Z" fill="#ffd92f"/>
<circle cx="469.2" cy="170" r="3.25" fill="#8da0cb"/><path d="M469.2 170L472.47 170.02A3.25 3.25 0 0 0 471.59 167.80Z" fill="#fc8d62"/><path d="M469.2 170L471.59 167.80A3.25 3.25 0 0 0 470.78 167.17Z" fill="#e5c494"/><path d="M469.2 170L470.78 167.17A3.25 3.25 0 0 0 470.06 166.88Z" fill="#ffd92f"/><path d="M469.2 170L470.06 166.88A3.25 3.25 0 0 0 469.38 166.78Z" fill="#a6d854"/><path d="M469.2 170L469.38 166.78A3.25 3.25 0 0 0 468.62 166.83Z" fill="#66c2a5"/>
<circle cx="533.2" cy="211" r="3.25" fill="#8da0cb"/><path d="M533.2 211L536.46 211.01A3.25 3.25 0 0 0 536.39 210.33Z" fill="#fc8d62"/><path d="M533.2 211L536.39 210.33A3.25 3.25 0 0 0 536.17 209.66Z" fill="#e5c494"/><path d="M533.2 211L536.17 209.66A3.25 3.25 0 0 0 535.24 208.47Z" fill="#ffd92f"/><path d="M533.2 211L535.24 208.47A3.25 3.25 0 0 0 531.13 208.51Z" fill="#a6d854"/><path d="M533.2 211L531.13 208.51A3.25 3.25 0 0 0 530.84 213.23Z" fill="#e78ac3"/>
<circle cx="512.2" cy="168.8" r="3.25" fill="#8da0cb"/><path d="M512.2 168.8L515.45 168.82A3.25 3.25 0 0 0 509.66 166.80Z" fill="#fc8d62"/><path d="M512.2 168.8L509.66 166.80A3.25 3.25 0 0 0 509.08 167.92Z" fill="#ffd92f"/><path d="M512.2 168.8L509.08 167.92A3.25 3.25 0 0 0 508.97 168.49Z" fill="#a6d854"/><path d="M512.2 168.8L508.97 168.49A3.25 3.25 0 0 0 509.14 169.91Z" fill="#e78ac3"/>
<circle cx="484.6" cy="245.9" r="3.25" fill="#8da0cb"/><path d="M484.6 245.9L487.86 245.85A3.25 3.25 0 0 0 487.68 244.78Z" fill="#fc8d62"/><path d="M484.6 245.9L487.68 244.78A3.25 3.25 0 0 0 484.18 242.63Z" fill="#e5c494"/><path d="M484.6 245.9L484.18 242.63A3.25 3.25 0 0 0 483.30 242.88Z" fill="#ffd92f"/><path d="M484.6 245.9L483.30 242.88A3.25 3.25 0 0 0 482.33 243.54Z" fill="#66c2a5"/>
<circle cx="487.2" cy="178.4" r="3.25" fill="#8da0cb"/><path d="M487.2 178.4L490.48 178.42A3.25 3.25 0 0 0 490.32 177.44Z" fill="#e5c494"/><path d="M487.2 178.4L490.32 177.44A3.25 3.25 0 0 0 489.89 176.56Z" fill="#ffd92f"/><path d="M487.2 178.4L489.89 176.56A3.25 3.25 0 0 0 486.89 175.19Z" fill="#a6d854"/><path d="M487.2 178.4L486.89 175.19A3.25 3.25 0 0 0 486.46 175.27Z" fill="#66c2a5"/>
<circle cx="499.8" cy="227.8" r="3.25" fill="#8da0cb"/><path d="M499.8 227.8L503.08 227.81A3.25 3.25 0 0 0 503.00 227.08Z" fill="#fc8d62"/><path d="M499.8 227.8L503.00 227.08A3.25 3.25 0 0 0 499.70 224.57Z" fill="#e5c494"/><path d="M499.8 227.8L499.70 224.57A3.25 3.25 0 0 0 498.73 224.76Z" fill="#b3b3b3"/><path d="M499.8 227.8L498.73 224.76A3.25 3.25 0 0 0 496.80 228.99Z" fill="#a6d854"/><path d="M499.8 227.8L496.80 228.99A3.25 3.25 0 0 0 497.13 229.62Z" fill="#66c2a5"/>
<circle cx="575.8" cy="179" r="3.25" fill="#8da0cb"/><path d="M575.8 179L579.08 179.03A3.25 3.25 0 0 0 578.81 177.74Z" fill="#e5c494"/><path d="M575.8 179L578.81 177.74A3.25 3.25 0 0 0 578.61 177.34Z" fill="#b3b3b3"/><path d="M575.8 179L578.61 177.34A3.25 3.25 0 0 0 572.60 179.42Z" fill="#ffd92f"/><path d="M575.8 179L572.60 179.42A3.25 3.25 0 0 0 572.71 179.96Z" fill="#66c2a5"/><path d="M575.8 179L572.71 179.96A3.25 3.25 0 0 0 577.75 181.65Z" fill="#e78ac3"/>
<circle cx="513.4" cy="181.4" r="3.25" fill="#8da0cb"/><path d="M513.4 181.4L516.65 181.43A3.25 3.25 0 1 0 512.78 184.62Z" fill="#b3b3b3"/><path d="M513.4 181.4L512.78 184.62A3.25 3.25 0 0 0 514.32 184.54Z" fill="#ffd92f"/><path d="M513.4 181.4L514.32 184.54A3.25 3.25 0 0 0 515.17 184.15Z" fill="#66c2a5"/>
<circle cx="503.9" cy="232.1" r="3.25" fill="#8da0cb"/><path d="M503.9 232.1L507.13 232.13A3.25 3.25 0 0 0 501.41 230.01Z" fill="#e5c494"/><path d="M503.9 232.1L501.41 230.01A3.25 3.25 0 0 0 501.08 230.47Z" fill="#b3b3b3"/><path d="M503.9 232.1L501.08 230.47A3.25 3.25 0 0 0 505.10 235.14Z" fill="#ffd92f"/><path d="M503.9 232.1L505.10 235.14A3.25 3.25 0 0 0 505.81 234.74Z" fill="#66c2a5"/>
<circle cx="572.8" cy="181.4" r="3.25" fill="#8da0cb"/><path d="M572.8 181.4L576.08 181.43A3.25 3.25 0 0 0 575.82 180.17Z" fill="#fc8d62"/><path d="M572.8 181.4L575.82 180.17A3.25 3.25 0 0 0 569.91 179.99Z" fill="#ffd92f"/><path d="M572.8 181.4L569.91 179.99A3.25 3.25 0 0 0 569.73 180.44Z" fill="#a6d854"/><path d="M572.8 181.4L569.73 180.44A3.25 3.25 0 0 0 569.66 182.16Z" fill="#66c2a5"/><path d="M572.8 181.4L569.66 182.16A3.25 3.25 0 0 0 575.03 183.82Z" fill="#e78ac3"/>
<circle cx="556.6" cy="221.2" r="3.25" fill="#8da0cb"/><path d="M556.6 221.2L559.87 221.21A3.25 3.25 0 0 0 559.73 220.26Z" fill="#fc8d62"/><path d="M556.6 221.2L559.73 220.26A3.25 3.25 0 0 0 559.44 219.60Z" fill="#ffd92f"/><path d="M556.6 221.2L559.44 219.60A3.25 3.25 0 0 0 555.66 218.11Z" fill="#a6d854"/><path d="M556.6 221.2L555.66 218.11A3.25 3.25 0 0 0 553.46 221.96Z" fill="#66c2a5"/><path d="M556.6 221.2L553.46 221.96A3.25 3.25 0 0 0 558.70 223.71Z" fill="#e78ac3"/>
<circle cx="576.4" cy="208" r="3.25" fill="#8da0cb"/><path d="M576.4 208L579.68 208.01A3.25 3.25 0 0 0 579.48 206.88Z" fill="#fc8d62"/><path d="M576.4 208L579.48 206.88A3.25 3.25 0 0 0 576.95 204.80Z" fill="#e5c494"/><path d="M576.4 208L576.95 204.80A3.25 3.25 0 0 0 576.23 204.76Z" fill="#b3b3b3"/><path d="M576.4 208L576.23 204.76A3.25 3.25 0 0 0 575.21 204.99Z" fill="#ffd92f"/><path d="M576.4 208L575.21 204.99A3.25 3.25 0 0 0 573.81 209.94Z" fill="#a6d854"/><path d="M576.4 208L573.81 209.94A3.25 3.25 0 0 0 574.17 210.35Z" fill="#66c2a5"/><path d="M576.4 208L574.17 210.35A3.25 3.25 0 0 0 578.60 210.42Z" fill="#e78ac3"/>
<circle cx="544" cy="186.2" r="3.25" fill="#8da0cb"/><path d="M544 186.2L547.26 186.23A3.25 3.25 0 0 0 547.14 185.33Z" fill="#fc8d62"/><path d="M544 186.2L547.14 185.33A3.25 3.25 0 0 0 546.88 184.70Z" fill="#e5c494"/><path d="M544 186.2L546.88 184.70A3.25 3.25 0 0 0 541.84 183.81Z" fill="#b3b3b3"/><path d="M544 186.2L541.84 183.81A3.25 3.25 0 0 0 542.02 188.79Z" fill="#ffd92f"/>
<circle cx="580.2" cy="173.2" r="3.25" fill="#8da0cb"/><path d="M580.2 173.2L583.47 173.24A3.25 3.25 0 0 0 582.97 171.51Z" fill="#e5c494"/><path d="M580.2 173.2L582.97 171.51A3.25 3.25 0 0 0 582.67 171.11Z" fill="#ffd92f"/><path d="M580.2 173.2L582.67 171.11A3.25 3.25 0 0 0 577.67 171.23Z" fill="#a6d854"/><path d="M580.2 173.2L577.67 171.23A3.25 3.25 0 0 0 577.07 172.45Z" fill="#66c2a5"/><path d="M580.2 173.2L577.07 172.45A3.25 3.25 0 0 0 582.36 175.69Z" fill="#e78ac3"/>
<circle cx="498" cy="238.6" r="3.25" fill="#8da0cb"/><path d="M498 238.6L501.28 238.62A3.25 3.25 0 0 0 496.24 235.91Z" fill="#fc8d62"/><path d="M498 238.6L496.24 235.91A3.25 3.25 0 0 0 498.52 241.83Z" fill="#e5c494"/><path d="M498 238.6L498.52 241.83A3.25 3.25 0 0 0 499.76 241.37Z" fill="#a6d854"/>
<circle cx="448.8" cy="222.4" r="3.25" fill="#8da0cb"/><path d="M448.8 222.4L452.06 222.41A3.25 3.25 0 0 0 451.90 221.41Z" fill="#fc8d62"/><path d="M448.8 222.4L451.90 221.41A3.25 3.25 0 0 0 451.67 220.87Z" fill="#b3b3b3"/><path d="M448.8 222.4L451.67 220.87A3.25 3.25 0 0 0 450.40 219.58Z" fill="#ffd92f"/>
<circle cx="545.8" cy="130.4" r="3.25" fill="#8da0cb"/><path d="M545.8 130.4L549.07 130.41A3.25 3.25 0 0 0 548.94 129.51Z" fill="#e5c494"/><path d="M545.8 130.4L548.94 129.51A3.25 3.25 0 0 0 548.27 128.28Z" fill="#ffd92f"/><path d="M545.8 130.4L548.27 128.28A3.25 3.25 0 0 0 545.13 127.23Z" fill="#a6d854"/><path d="M545.8 130.4L545.13 127.23A3.25 3.25 0 0 0 544.05 127.68Z" fill="#66c2a5"/><path d="M545.8 130.4L544.05 127.68A3.25 3.25 0 0 0 543.65 132.83Z" fill="#e78ac3"/>
<circle cx="496.2" cy="167" r="3.25" fill="#8da0cb"/><path d="M496.2 167L499.48 167.02A3.25 3.25 0 0 0 495.88 163.79Z" fill="#fc8d62"/><path d="M496.2 167L495.88 163.79A3.25 3.25 0 0 0 495.13 163.96Z" fill="#b3b3b3"/><path d="M496.2 167L495.13 163.96A3.25 3.25 0 0 0 493.24 168.30Z" fill="#a6d854"/><path d="M496.2 167L493.24 168.30A3.25 3.25 0 0 0 493.88 169.27Z" fill="#66c2a5"/><path d="M496.2 167L493.88 169.27A3.25 3.25 0 0 0 494.48 169.76Z" fill="#e78ac3"/>
<circle cx="550.6" cy="253.6" r="3.25" fill="#8da0cb"/><path d="M550.6 253.6L553.87 253.62A3.25 3.25 0 0 0 553.83 253.14Z" fill="#fc8d62"/><path d="M550.6 253.6L553.83 253.14A3.25 3.25 0 0 0 553.19 251.64Z" fill="#e5c494"/><path d="M550.6 253.6L553.19 251.64A3.25 3.25 0 0 0 549.06 250.77Z" fill="#b3b3b3"/><path d="M550.6 253.6L549.06 250.77A3.25 3.25 0 0 0 547.85 251.92Z" fill="#a6d854"/><path d="M550.6 253.6L547.85 251.92A3.25 3.25 0 0 0 547.55 252.56Z" fill="#66c2a5"/><path d="M550.6 253.6L547.55 252.56A3.25 3.25 0 0 0 549.28 256.59Z" fill="#e78ac3"/>
<circle cx="553.6" cy="241.6" r="3.25" fill="#8da0cb"/><path d="M553.6 241.6L556.87 241.62A3.25 3.25 0 0 0 556.32 239.81Z" fill="#fc8d62"/><path d="M553.6 241.6L556.32 239.81A3.25 3.25 0 0 0 550.38 241.87Z" fill="#e5c494"/><path d="M553.6 241.6L550.38 241.87A3.25 3.25 0 0 0 554.74 244.67Z" fill="#b3b3b3"/><path d="M553.6 241.6L554.74 244.67A3.25 3.25 0 0 0 555.42 244.33Z" fill="#ffd92f"/>
<circle cx="506.4" cy="262.6" r="3.25" fill="#8da0cb"/><path d="M506.4 262.6L509.68 262.63A3.25 3.25 0 0 0 509.40 261.30Z" fill="#fc8d62"/><path d="M506.4 262.6L509.40 261.30A3.25 3.25 0 0 0 503.50 261.22Z" fill="#e5c494"/><path d="M506.4 262.6L503.50 261.22A3.25 3.25 0 0 0 503.23 262.06Z" fill="#a6d854"/>
<circle cx="502.8" cy="214.6" r="3.25" fill="#8da0cb"/><path d="M502.8 214.6L506.08 214.61A3.25 3.25 0 0 0 499.77 213.53Z" fill="#fc8d62"/><path d="M502.8 214.6L499.77 213.53A3.25 3.25 0 0 0 499.60 214.27Z" fill="#b3b3b3"/><path d="M502.8 214.6L499.60 214.27A3.25 3.25 0 0 0 503.35 217.82Z" fill="#a6d854"/><path d="M502.8 214.6L503.35 217.82A3.25 3.25 0 0 0 504.61 217.33Z" fill="#e78ac3"/>
<circle cx="478.2" cy="208.6" r="3.25" fill="#8da0cb"/><path d="M478.2 208.6L481.47 208.61A3.25 3.25 0 0 0 477.40 205.46Z" fill="#fc8d62"/><path d="M478.2 208.6L477.40 205.46A3.25 3.25 0 0 0 476.29 206.00Z" fill="#b3b3b3"/><path d="M478.2 208.6L476.29 206.00A3.25 3.25 0 0 0 475.48 206.86Z" fill="#ffd92f"/><path d="M478.2 208.6L475.48 206.86A3.25 3.25 0 0 0 476.79 211.52Z" fill="#a6d854"/>
<circle cx="442.5" cy="203.3" r="3.25" fill="#8da0cb"/><path d="M442.5 203.3L445.77 203.32A3.25 3.25 0 0 0 444.82 201.03Z" fill="#e5c494"/><path d="M442.5 203.3L444.82 201.03A3.25 3.25 0 0 0 444.47 200.72Z" fill="#b3b3b3"/><path d="M442.5 203.3L444.47 200.72A3.25 3.25 0 0 0 443.75 200.31Z" fill="#ffd92f"/><path d="M442.5 203.3L443.75 200.31A3.25 3.25 0 0 0 442.96 200.10Z" fill="#a6d854"/><path d="M442.5 203.3L442.96 200.10A3.25 3.25 0 0 0 442.42 200.07Z" fill="#66c2a5"/>
<circle cx="476.4" cy="194.2" r="3.25" fill="#8da0cb"/><path d="M476.4 194.2L479.67 194.20A3.25 3.25 0 0 0 473.56 192.67Z" fill="#fc8d62"/><path d="M476.4 194.2L473.56 192.67A3.25 3.25 0 0 0 473.35 193.14Z" fill="#b3b3b3"/><path d="M476.4 194.2L473.35 193.14A3.25 3.25 0 0 0 473.23 193.60Z" fill="#ffd92f"/>
<circle cx="540.4" cy="242.8" r="3.25" fill="#8da0cb"/><path d="M540.4 242.8L543.66 242.82A3.25 3.25 0 0 0 543.30 241.34Z" fill="#fc8d62"/><path d="M540.4 242.8L543.30 241.34A3.25 3.25 0 0 0 543.05 240.93Z" fill="#e5c494"/><path d="M540.4 242.8L543.05 240.93A3.25 3.25 0 0 0 542.58 240.40Z" fill="#ffd92f"/><path d="M540.4 242.8L542.58 240.40A3.25 3.25 0 0 0 541.98 239.98Z" fill="#a6d854"/><path d="M540.4 242.8L541.98 239.98A3.25 3.25 0 0 0 537.21 243.34Z" fill="#e78ac3"/>
<circle cx="580" cy="173.6" r="3.25" fill="#8da0cb"/><path d="M580 173.6L583.28 173.62A3.25 3.25 0 0 0 583.22 173.00Z" fill="#fc8d62"/><path d="M580 173.6L583.22 173.00A3.25 3.25 0 0 0 582.86 172.03Z" fill="#e5c494"/><path d="M580 173.6L582.86 172.03A3.25 3.25 0 0 0 582.26 171.26Z" fill="#b3b3b3"/><path d="M580 173.6L582.26 171.26A3.25 3.25 0 0 0 576.79 173.85Z" fill="#a6d854"/><path d="M580 173.6L576.79 173.85A3.25 3.25 0 0 0 576.85 174.32Z" fill="#66c2a5"/><path d="M580 173.6L576.85 174.32A3.25 3.25 0 0 0 582.16 176.08Z" fill="#e78ac3"/>
<circle cx="514" cy="235.6" r="3.25" fill="#8da0cb"/><path d="M514 235.6L517.25 235.62A3.25 3.25 0 0 0 514.98 232.52Z" fill="#fc8d62"/><path d="M514 235.6L514.98 232.52A3.25 3.25 0 0 0 514.19 232.37Z" fill="#e5c494"/><path d="M514 235.6L514.19 232.37A3.25 3.25 0 0 0 513.14 232.48Z" fill="#b3b3b3"/><path d="M514 235.6L513.14 232.48A3.25 3.25 0 0 0 512.44 232.77Z" fill="#ffd92f"/><path d="M514 235.6L512.44 232.77A3.25 3.25 0 0 0 511.71 237.92Z" fill="#66c2a5"/>
<circle cx="457.2" cy="241.6" r="3.25" fill="#8da0cb"/><path d="M457.2 241.6L460.46 241.62A3.25 3.25 0 0 0 456.99 238.38Z" fill="#e5c494"/><path d="M457.2 241.6L456.99 238.38A3.25 3.25 0 0 0 456.05 238.59Z" fill="#b3b3b3"/><path d="M457.2 241.6L456.05 238.59A3.25 3.25 0 0 0 454.42 243.27Z" fill="#ffd92f"/><path d="M457.2 241.6L454.42 243.27A3.25 3.25 0 0 0 454.79 243.78Z" fill="#66c2a5"/><path d="M457.2 241.6L454.79 243.78A3.25 3.25 0 0 0 455.24 244.20Z" fill="#e78ac3"/>
<circle cx="466.8" cy="154.4" r="3.25" fill="#8da0cb"/><path d="M466.8 154.4L470.07 154.42A3.25 3.25 0 0 0 469.92 153.45Z" fill="#e5c494"/><path d="M466.8 154.4L469.92 153.45A3.25 3.25 0 0 0 468.25 151.50Z" fill="#ffd92f"/>
<circle cx="462" cy="215.2" r="3.25" fill="#8da0cb"/><path d="M462 215.2L465.27 215.21A3.25 3.25 0 0 0 465.20 214.57Z" fill="#fc8d62"/><path d="M462 215.2L465.20 214.57A3.25 3.25 0 0 0 464.53 213.15Z" fill="#e5c494"/><path d="M462 215.2L464.53 213.15A3.25 3.25 0 0 0 464.07 212.69Z" fill="#ffd92f"/><path d="M462 215.2L464.07 212.69A3.25 3.25 0 0 0 463.58 212.36Z" fill="#a6d854"/>
<circle cx="536.8" cy="211" r="3.25" fill="#8da0cb"/><path d="M536.8 211L540.06 211.01A3.25 3.25 0 0 0 539.97 210.24Z" fill="#ffd92f"/><path d="M536.8 211L539.97 210.24A3.25 3.25 0 0 0 533.56 211.04Z" fill="#66c2a5"/><path d="M536.8 211L533.56 211.04A3.25 3.25 0 0 0 538.31 213.89Z" fill="#e78ac3"/>
<circle cx="450.6" cy="171.2" r="3.25" fill="#8da0cb"/><path d="M450.6 171.2L453.86 171.22A3.25 3.25 0 0 0 453.43 169.60Z" fill="#ffd92f"/><path d="M450.6 171.2L453.43 169.60A3.25 3.25 0 0 0 452.73 168.76Z" fill="#a6d854"/>
<circle cx="554.8" cy="139.4" r="3.25" fill="#8da0cb"/><path d="M554.8 139.4L558.07 139.41A3.25 3.25 0 0 0 557.81 138.13Z" fill="#fc8d62"/><path d="M554.8 139.4L557.81 138.13A3.25 3.25 0 0 0 557.53 137.62Z" fill="#b3b3b3"/><path d="M554.8 139.4L557.53 137.62A3.25 3.25 0 0 0 551.71 138.46Z" fill="#a6d854"/><path d="M554.8 139.4L551.71 138.46A3.25 3.25 0 0 0 551.59 139.06Z" fill="#66c2a5"/><path d="M554.8 139.4L551.59 139.06A3.25 3.25 0 0 0 556.91 141.90Z" fill="#e78ac3"/>
<circle cx="566.2" cy="217" r="3.25" fill="#8da0cb"/><path d="M566.2 217L569.47 217.01A3.25 3.25 0 0 0 569.40 216.32Z" fill="#fc8d62"/><path d="M566.2 217L569.40 216.32A3.25 3.25 0 0 0 565.74 213.80Z" fill="#b3b3b3"/><path d="M566.2 217L565.74 213.80A3.25 3.25 0 0 0 563.63 218.97Z" fill="#ffd92f"/><path d="M566.2 217L563.63 218.97A3.25 3.25 0 0 0 564.30 219.63Z" fill="#66c2a5"/>
<circle cx="543.4" cy="219.4" r="3.25" fill="#8da0cb"/><path d="M543.4 219.4L546.66 219.41A3.25 3.25 0 0 0 546.57 218.65Z" fill="#fc8d62"/><path d="M543.4 219.4L546.57 218.65A3.25 3.25 0 0 0 546.37 218.06Z" fill="#ffd92f"/><path d="M543.4 219.4L546.37 218.06A3.25 3.25 0 0 0 543.22 216.17Z" fill="#a6d854"/><path d="M543.4 219.4L543.22 216.17A3.25 3.25 0 0 0 540.41 220.66Z" fill="#e78ac3"/>
<circle cx="547.6" cy="171.2" r="3.25" fill="#8da0cb"/><path d="M547.6 171.2L550.87 171.22A3.25 3.25 0 0 0 550.54 169.81Z" fill="#fc8d62"/><path d="M547.6 171.2L550.54 169.81A3.25 3.25 0 0 0 544.42 170.64Z" fill="#e5c494"/><path d="M547.6 171.2L544.42 170.64A3.25 3.25 0 0 0 548.31 174.40Z" fill="#b3b3b3"/><path d="M547.6 171.2L548.31 174.40A3.25 3.25 0 0 0 548.79 174.25Z" fill="#ffd92f"/><path d="M547.6 171.2L548.79 174.25A3.25 3.25 0 0 0 549.61 173.79Z" fill="#a6d854"/>
<circle cx="564.4" cy="205.6" r="3.25" fill="#8da0cb"/><path d="M564.4 205.6L567.67 205.61A3.25 3.25 0 0 0 561.62 203.96Z" fill="#fc8d62"/><path d="M564.4 205.6L561.62 203.96A3.25 3.25 0 0 0 561.17 205.68Z" fill="#e5c494"/><path d="M564.4 205.6L561.17 205.68A3.25 3.25 0 0 0 561.34 206.65Z" fill="#b3b3b3"/><path d="M564.4 205.6L561.34 206.65A3.25 3.25 0 0 0 566.64 207.98Z" fill="#e78ac3"/>
<circle cx="487.8" cy="245.2" r="3.25" fill="#8da0cb"/><path d="M487.8 245.2L491.08 245.22A3.25 3.25 0 0 0 486.41 242.30Z" fill="#fc8d62"/><path d="M487.8 245.2L486.41 242.30A3.25 3.25 0 0 0 485.24 247.19Z" fill="#e5c494"/><path d="M487.8 245.2L485.24 247.19A3.25 3.25 0 0 0 485.63 247.62Z" fill="#b3b3b3"/><path d="M487.8 245.2L485.63 247.62A3.25 3.25 0 0 0 486.41 248.14Z" fill="#a6d854"/>
<circle cx="476.4" cy="219.4" r="3.25" fill="#8da0cb"/><path d="M476.4 219.4L479.67 219.41A3.25 3.25 0 0 0 479.63 218.91Z" fill="#b3b3b3"/><path d="M476.4 219.4L479.63 218.91A3.25 3.25 0 0 0 476.53 216.16Z" fill="#ffd92f"/><path d="M476.4 219.4L476.53 216.16A3.25 3.25 0 0 0 473.29 220.28Z" fill="#66c2a5"/><path d="M476.4 219.4L473.29 220.28A3.25 3.25 0 0 0 473.59 221.01Z" fill="#e78ac3"/>
<circle cx="555.4" cy="165.8" r="3.25" fill="#8da0cb"/><path d="M555.4 165.8L558.67 165.82A3.25 3.25 0 0 0 558.44 164.61Z" fill="#fc8d62"/><path d="M555.4 165.8L558.44 164.61A3.25 3.25 0 0 0 552.18 166.02Z" fill="#e5c494"/><path d="M555.4 165.8L552.18 166.02A3.25 3.25 0 0 0 552.51 167.27Z" fill="#b3b3b3"/><path d="M555.4 165.8L552.51 167.27A3.25 3.25 0 0 0 557.16 168.57Z" fill="#ffd92f"/><path d="M555.4 165.8L557.16 168.57A3.25 3.25 0 0 0 557.61 168.22Z" fill="#66c2a5"/>
</g>
<text x="402.5" y="121" font-size="18.7" text-anchor="start" font-weight="bold">B</text>
<text x="507.6" y="282.2" font-size="10.4" text-anchor="middle">UMAP dimension 1</text>
<text transform="translate(420.9 194.2) rotate(-90)" font-size="10.4" text-anchor="middle">UMAP dimension 2</text>
<rect x="148.5" y="19.2" width="58.0" height="60.099999999999994" fill="none" stroke="#999" stroke-width="1"/>
<path d="M175.8 72.7h.01M174.3 76.6h.01M177.2 72.9h.01" stroke="#7fc97f" stroke-opacity=".2" stroke-width="2" stroke-linecap="round" fill="none"/>
<path d="M177 76.6h.01M176 75h.01M174.1 72.9h.01" stroke="#7fc97f" stroke-opacity=".3" stroke-width="2" stroke-linecap="round" fill="none"/>
<path d="M178 56.3h.01M176.2 55.9h.01M178.6 72.9h.01M154.4 48.2h.01M195.6 44h.01M170.8 56.3h.01M178.6 76.3h.01M176.2 63h.01" stroke="#7fc97f" stroke-opacity=".5" stroke-width="2" stroke-linecap="round" fill="none"/>
<path d="M165.4 57.5h.01M175 60.7h.01M174.3 59.5h.01M165 46.8h.01M185 52.4h.01M182.1 67.6h.01M174.7 68.5h.01M179.8 69.2h.01M188.1 66.2h.01M189.2 70.4h.01M166.7 53.8h.01M180.3 70.1h.01M178 76.3h.01M160.5 51h.01M179.3 56.9h.01" stroke="#7fc97f" stroke-opacity=".6" stroke-width="2" stroke-linecap="round" fill="none"/>
<path d="M173.5 50.3h.01M159.6 54.2h.01M199.3 51h.01M178.2 63.9h.01M184.2 28.8h.01M182.1 63.9h.01M187.3 68.7h.01M181.1 69.7h.01M190.2 69.5h.01M169.8 49.1h.01M181.7 62.1h.01M170.2 50.2h.01M200.1 47h.01M168.9 23.1h.01M201.4 61.1h.01M184.8 59.1h.01M179.6 76.3h.01M179.3 76.1h.01M153 35.5h.01M181.7 24.7h.01M177.2 56.3h.01M197.9 41h.01M183.8 56.1h.01M189.6 39.7h.01M152.2 33.2h.01M181.8 32.4h.01M199.1 57.9h.01M175.9 50.1h.01M202.3 46h.01M162.1 48.4h.01M195.7 45.2h.01M203.8 61h.01M177 54h.01M167.9 51.7h.01" stroke="#7fc97f" stroke-opacity=".7" stroke-width="2" stroke-linecap="round" fill="none"/>
<path d="M156.7 31.8h.01M172.1 48.6h.01M175 50.8h.01M178.4 61.8h.01M159.6 57h.01M164.6 41.5h.01M184.2 32.8h.01M196.8 52.4h.01M184.8 49.3h.01M179.4 26.3h.01M180.9 31.6h.01M174.7 22.9h.01M178.8 24.2h.01M172.3 42.9h.01M176.6 68.5h.01M177.4 65.1h.01M202.8 56.1h.01M166.6 46.3h.01M202 47.3h.01M156.1 32.8h.01M153.4 33.9h.01M173.1 48h.01M176 41.7h.01M153.2 49.1h.01M185.6 29.5h.01M200.6 57.8h.01M184.3 25.7h.01M201.6 55.2h.01M162.3 40.6h.01M185.1 49h.01M158.2 30h.01M170.8 47.3h.01M153 44.3h.01M192.9 63.9h.01M184.2 27.5h.01M200.8 48.6h.01M182.3 25.6h.01M195.7 63.1h.01M194.1 62.1h.01M186.5 32.3h.01M199.9 40.6h.01M199.6 52.3h.01M200.8 51.7h.01M161.5 51.5h.01M151.8 44.3h.01M177 58.8h.01M166.6 24.3h.01M195.8 37.8h.01M164.2 40.4h.01M198.3 41.2h.01M168.1 23.5h.01M200.8 42.7h.01M178.8 64.8h.01M167.9 26.3h.01M169.6 42.4h.01M200.4 54.7h.01M176.8 22.8h.01M168.5 55.6h.01M202.1 57.4h.01M162.3 54h.01M179.4 24.9h.01M196.6 43.6h.01M174.1 38.7h.01M154.9 50.3h.01M179.5 52.4h.01M155.5 52.3h.01" stroke="#7fc97f" stroke-opacity=".8" stroke-width="2" stroke-linecap="round" fill="none"/>
<path d="M188.7 57.7h.01M174.5 58.6h.01M165.4 23.8h.01M184.4 34.1h.01M167.3 28.1h.01M178.9 27.2h.01M173.1 56.1h.01M186.6 37.7h.01M192.5 39.2h.01M164.8 27.2h.01M164.4 49.6h.01M171.2 26.8h.01M165.6 44h.01M197 39.4h.01M179.8 66.4h.01M180.7 47.7h.01M199.5 52.9h.01M177.8 40.1h.01M164.8 54.9h.01M167.5 56.3h.01M193.3 42h.01M194.3 39.7h.01M198.3 42.4h.01M175.4 52.4h.01M186.3 64.4h.01M174.3 28.6h.01M196.8 55.2h.01M199.7 45.4h.01M165.4 33.9h.01M194.1 60.2h.01M189.7 54.2h.01M183.6 70.1h.01M179.2 46.3h.01M169.2 23.7h.01M189.4 63.7h.01M181.7 72.9h.01M201.4 57.2h.01M190.6 62.3h.01M182.3 33.7h.01M190 40.4h.01M192.5 58.6h.01M169.4 26.5h.01M189.4 62.8h.01M152.6 46.8h.01M179.1 57.6h.01M162.9 51h.01M172.1 23.5h.01M199.3 63.4h.01M181.1 53.1h.01M174.7 48.6h.01M172.7 46.3h.01M176.8 38.6h.01M153.8 52.2h.01M163.8 54.5h.01M195.9 39.3h.01M153.2 37.4h.01M187.9 54h.01M177.8 45h.01M178.8 58.6h.01M174.7 45h.01M183.4 66.4h.01M178 53.1h.01M195.2 64.4h.01M154.4 49.2h.01M168.5 38.3h.01M178.4 51.5h.01M155.1 34.8h.01M180.6 33.3h.01M162.7 56.3h.01M172.3 25.3h.01M177.2 45h.01M191.2 64.2h.01M157.8 50.8h.01M203 58.6h.01M203.4 64.4h.01M171.6 25.4h.01M198.9 41.3h.01M166.5 29.5h.01M188.6 60.4h.01M190 36.4h.01M176.4 48.2h.01M171.4 48.9h.01M195.4 42.3h.01M177.2 40.1h.01M191.6 60.2h.01M154 53.3h.01M191.2 65.7h.01M151.3 45.9h.01M191 67.1h.01M156.3 49.3h.01M183.4 26.8h.01M188.1 39h.01M184.7 31.8h.01M168.8 52.5h.01M166 39h.01M201.4 52.9h.01M191.9 68.5h.01M188.5 59.3h.01M161.7 56.3h.01M187.3 33.5h.01M202.1 63.7h.01M166.9 25.4h.01M202.6 61.8h.01M161.9 46.1h.01M200.8 54.4h.01M166.8 34.3h.01M176.8 26.8h.01M173.5 26.1h.01M203.5 62.8h.01M183.9 28h.01M189.6 68.7h.01M162.5 28.4h.01M151.1 48.6h.01M190.6 38.6h.01M170.6 22.9h.01M203.9 60h.01M193.5 59h.01M186.9 38h.01M189 56.8h.01M187.5 34.4h.01M180.7 66.4h.01M187.3 36.9h.01M162.7 38h.01M198.3 47.5h.01M201.8 63.9h.01M182.3 30.9h.01M201.2 45.2h.01M167.4 22.3h.01M174.7 41h.01M164.4 50.3h.01M195.8 39h.01M165.8 32.5h.01M181.5 26.1h.01M165.8 27.7h.01M177.8 21.9h.01M176.8 49.4h.01M185.4 57.5h.01M172.1 27.6h.01M167.9 52.9h.01M198.6 45.8h.01M189.8 55.7h.01M152.5 48.9h.01M184.4 48.2h.01M170.1 25.6h.01M155.1 29.8h.01M152.2 49.4h.01M178.8 30.2h.01M162.6 46.8h.01M200.1 43.8h.01M154 44h.01M163 49.7h.01M174.7 57.2h.01M178 43.1h.01M167.9 45.9h.01M160.7 56.7h.01M165.2 38.3h.01M176.4 23.8h.01M169.8 53.1h.01M189.4 52.4h.01M182.9 29.5h.01M153.6 32.5h.01M170.2 55.2h.01M172.3 25.1h.01M187.3 59.3h.01M163 55.2h.01M151.8 50.5h.01M188.7 46.1h.01M172.1 39h.01M166.9 38h.01" stroke="#7fc97f" stroke-opacity=".9" stroke-width="2" stroke-linecap="round" fill="none"/>
<text x="125.6" y="14.5" font-size="14.5" text-anchor="start" font-weight="bold">i</text>
<text x="177.6" y="7.8" font-size="8.6" text-anchor="middle">Deg. of</text>
<text x="177.6" y="17.0" font-size="8.6" text-anchor="middle">conciousness</text>
<rect x="259" y="19.2" width="58.5" height="60.099999999999994" fill="none" stroke="#999" stroke-width="1"/>
<path d="M299.6 57.7h.01M297.5 37.7h.01M285.1 28.6h.01M307.7 55.2h.01M276.1 33.9h.01M292.5 72.9h.01M291.9 69.7h.01M303.4 58.6h.01M300.2 62.8h.01M287.5 38.6h.01M298.8 54h.01M279.6 23.1h.01M288 45h.01M282.3 25.4h.01M296.5 29.5h.01M279.5 52.5h.01M312.3 52.9h.01M277.5 34.3h.01M263.5 35.5h.01M301.5 38.6h.01M305 62.1h.01M299.8 56.8h.01M298.3 34.4h.01M310.9 40.6h.01M309.2 47.5h.01M311.7 51.7h.01M310 57.9h.01M278.8 23.5h.01M309.5 45.8h.01M313.2 46h.01M278.6 26.3h.01M264.6 44h.01M271.4 56.7h.01M275.9 38.3h.01M264.2 32.5h.01M280.9 55.2h.01M283 25.1h.01M273.7 55.2h.01" stroke="#fdc086" stroke-opacity=".1" stroke-width="2" stroke-linecap="round" fill="none"/>
<path d="M285.7 50.8h.01M275.2 41.5h.01M275.4 54.9h.01M273.6 51h.01M281.5 47.3h.01M261.7 48.6h.01M274.8 40.4h.01M278.6 45.9h.01M284.8 38.7h.01" stroke="#fdc086" stroke-opacity=".2" stroke-width="2" stroke-linecap="round" fill="none"/>
<path d="M282.8 48.6h.01M283.8 56.1h.01M289.1 61.8h.01M270.2 57h.01M275 49.6h.01M291.4 47.7h.01M287.4 68.5h.01M263.1 46.8h.01M310.2 63.4h.01M291.9 53.1h.01M294.2 66.4h.01M302.1 64.2h.01M299.5 60.4h.01M282.1 48.9h.01M302.5 60.2h.01M263.7 49.1h.01M263.5 44.3h.01M303.8 63.9h.01M300.4 68.7h.01M275 50.3h.01M262.3 44.3h.01M286.7 50.1h.01M280.2 42.4h.01M262.3 50.5h.01M265.4 50.3h.01M282.8 39h.01M290.3 52.4h.01" stroke="#fdc086" stroke-opacity=".3" stroke-width="2" stroke-linecap="round" fill="none"/>
<path d="M270.2 54.2h.01M288.9 63.9h.01M286.1 52.4h.01M298.1 68.7h.01M301.1 69.5h.01M283.4 46.3h.01M292.5 62.1h.01M288.2 65.1h.01M277.3 46.3h.01M283.8 48h.01M287.1 48.2h.01M299.4 59.3h.01M272.5 46.1h.01M272.7 48.4h.01M273.2 46.8h.01M273.7 49.7h.01" stroke="#fdc086" stroke-opacity=".5" stroke-width="2" stroke-linecap="round" fill="none"/>
<path d="M285.7 60.7h.01M289.4 72.9h.01M295.8 52.4h.01M285.5 68.5h.01M290.4 76.3h.01M290.1 76.1h.01M291.1 70.1h.01M278.6 52.9h.01M263.1 48.9h.01M289.6 64.8h.01M281.5 56.3h.01" stroke="#fdc086" stroke-opacity=".6" stroke-width="2" stroke-linecap="round" fill="none"/>
<path d="M276.1 57.5h.01M284.2 50.3h.01M285.1 59.5h.01M292.9 63.9h.01M280.5 49.1h.01M280.9 50.2h.01M292.9 67.6h.01M290.6 69.2h.01M299 66.2h.01M295.6 59.1h.01M300 70.4h.01M286.7 75h.01M288.7 76.3h.01M288 56.3h.01M294.6 56.1h.01M287.8 58.8h.01M272.9 54h.01M289.4 76.3h.01M286.9 63h.01M278.6 51.7h.01" stroke="#fdc086" stroke-opacity=".7" stroke-width="2" stroke-linecap="round" fill="none"/>
<path d="M288.7 56.3h.01M287 55.9h.01M275.7 46.8h.01M277.3 53.8h.01M290.1 56.9h.01" stroke="#fdc086" stroke-opacity=".8" stroke-width="2" stroke-linecap="round" fill="none"/>
<path d="M286.5 72.7h.01M287.8 76.6h.01M285.1 76.6h.01M288 72.9h.01M284.8 72.9h.01" stroke="#fdc086" stroke-opacity=".9" stroke-width="2" stroke-linecap="round" fill="none"/>
<text x="235.6" y="14.5" font-size="14.5" text-anchor="start" font-weight="bold">ii</text>
<text x="288" y="7.8" font-size="8.6" text-anchor="middle">Intracranial</text>
<text x="288" y="17.0" font-size="8.6" text-anchor="middle">injury</text>
<rect x="38.5" y="164.5" width="58.5" height="59.0" fill="none" stroke="#999" stroke-width="1"/>
<path d="M55.6 169h.01M55.8 188.9h.01M70.9 192.5h.01M90 197.5h.01M64.6 220.8h.01M65.6 197.1h.01M90.2 190.2h.01M65 168.1h.01M66.9 212.9h.01M68.2 200.9h.01M80.3 185.3h.01M53.1 195.7h.01M67.5 189.8h.01M93.5 203.2h.01M61.8 170.6h.01M79 204.9h.01M70.1 213.6h.01M61.6 193.7h.01M44.1 198h.01M41.4 190.7h.01M79.5 214.7h.01M92 199.8h.01M61 192h.01M56.8 198.4h.01M69.9 220.6h.01M69.6 220.3h.01M70.6 214.5h.01M67.1 171.9h.01M68.2 220.6h.01M63.7 171.3h.01M72 169.9h.01M93.9 207.3h.01M79.9 213.1h.01M77.8 179.4h.01M90.4 185.5h.01M92.3 208.4h.01M91.6 190h.01M50.6 195.7h.01M66.2 194.8h.01M60.2 170.8h.01M68.2 188h.01M69.7 170.1h.01M77.6 203.9h.01M41.8 195.3h.01M44.9 195h.01M57 183h.01" stroke="#386cb0" stroke-opacity=".1" stroke-width="2" stroke-linecap="round" fill="none"/>
<path d="M57.5 173.3h.01M62.3 193.4h.01M63.3 200.7h.01M77 182.7h.01M74.5 177.8h.01M70.1 210.9h.01M87.2 197.1h.01M75.1 194.1h.01M49.7 198.9h.01M57.7 200.9h.01M87.2 199.8h.01M62.5 187.8h.01M77.6 213.1h.01M69.5 191.1h.01M71.4 197.8h.01M65 193.4h.01M67 183.6h.01M72 206.6h.01M65 189.8h.01M85.6 208.8h.01M58.7 183.2h.01M68.9 217.2h.01M56.8 191.1h.01M70.9 178.4h.01M81.6 208.7h.01M46.2 177.8h.01M63.3 192.7h.01M80.3 181.4h.01M65 212.9h.01M66.2 186.6h.01M75 176.8h.01M52.4 185.5h.01M83.3 208.4h.01M74.3 173.1h.01M94.3 204.5h.01M86.1 207.6h.01M79.3 201.4h.01M77.6 181.9h.01M57.5 167.5h.01M75.8 202.1h.01M69.1 175.3h.01M58.1 171.5h.01M59.7 187.3h.01M90.6 188.7h.01M67.1 168h.01M58.1 190.7h.01M68.9 220.6h.01M60 197.8h.01M73.2 174.6h.01M45.6 197h.01" stroke="#386cb0" stroke-opacity=".2" stroke-width="2" stroke-linecap="round" fill="none"/>
<path d="M68 185h.01M83.7 186.8h.01M76.6 208.8h.01M71.2 176.7h.01M80 198.9h.01M79.7 208.2h.01M72.6 178.7h.01M82.9 203.2h.01M80.6 213.9h.01M43.9 196.9h.01M68 189.8h.01M68.2 197.8h.01M68.6 196.2h.01M85.9 187.2h.01M91.1 202.4h.01M59 197.1h.01M84.5 206.6h.01M83.8 203.5h.01M70.9 210.9h.01M72.1 177.4h.01M56 177.6h.01M56.8 169.5h.01M68 167.2h.01M62.3 172.8h.01M80.1 200.3h.01M91.2 187.5h.01M44.1 188.9h.01M79.7 197.1h.01M87 188.4h.01M60.4 199.8h.01M94.3 205.5h.01M69.8 197.1h.01" stroke="#386cb0" stroke-opacity=".3" stroke-width="2" stroke-linecap="round" fill="none"/>
<path d="M61.4 171.9h.01M84.5 204.8h.01M73.9 214.5h.01M81 206.8h.01M79.7 207.3h.01M53.9 199.1h.01M67.5 185h.01M76.8 177.4h.01M65 185.9h.01M89.5 202.5h.01M86.1 190h.01M64.9 201.8h.01" stroke="#386cb0" stroke-opacity=".5" stroke-width="2" stroke-linecap="round" fill="none"/>
<path d="M64.8 203.2h.01M72 217.2h.01M77.6 178.5h.01M86 188.9h.01M74.7 193h.01" stroke="#386cb0" stroke-opacity=".6" stroke-width="2" stroke-linecap="round" fill="none"/>
<path d="M69.4 202.2h.01M69.1 203.2h.01M75.4 193.7h.01M67.3 198.7h.01" stroke="#386cb0" stroke-opacity=".7" stroke-width="2" stroke-linecap="round" fill="none"/>
<path d="M71.4 214h.01" stroke="#386cb0" stroke-opacity=".8" stroke-width="2" stroke-linecap="round" fill="none"/>
<text x="15.6" y="160.5" font-size="14.5" text-anchor="start" font-weight="bold">iii</text>
<text x="68" y="162.5" font-size="8.6" text-anchor="middle">PEMHC</text>
<rect x="148.5" y="309.6" width="58.0" height="59.89999999999998" fill="none" stroke="#999" stroke-width="1"/>
<path d="M164.8 317.6h.01M197 329.8h.01M199.5 343.1h.01M174.3 349.8h.01M198.3 332.7h.01M165.4 324.3h.01M194.1 350.5h.01M189.7 344.5h.01M189.4 354h.01M201.4 347.5h.01M190.6 352.5h.01M189.4 353h.01M172.1 313.9h.01M172.7 336.6h.01M174.7 335.3h.01M176.2 346.1h.01M177.4 355.3h.01M183.4 356.7h.01M168.5 328.6h.01M191.2 354.4h.01M182.1 357.8h.01M203 348.9h.01M156.1 323.1h.01M198.9 331.6h.01M188.6 350.6h.01M191.6 350.5h.01M184.8 349.3h.01M188.1 329.3h.01M200.6 348h.01M201.4 343.1h.01M188.5 349.6h.01M187.3 323.8h.01M200.8 344.6h.01M183.8 346.4h.01M203.9 350.3h.01M195.7 353.4h.01M186.9 328.4h.01M189 347h.01M187.3 327.2h.01M186.5 322.6h.01M201.8 354.2h.01M177.2 363.1h.01M172.1 318h.01M189.8 346h.01M184.4 338.5h.01M178.8 355.1h.01M200.1 334.1h.01M169.8 343.4h.01M187.3 349.6h.01M203.8 351.2h.01M151.8 340.8h.01" stroke="#f0027f" stroke-opacity=".1" stroke-width="2" stroke-linecap="round" fill="none"/>
<path d="M165.4 347.7h.01M175 350.9h.01M176.6 358.7h.01M185 342.7h.01M151.3 336.2h.01M191 357.4h.01M153 334.6h.01M195.8 329.3h.01M154 334.4h.01M165.2 328.6h.01M176.2 353.2h.01M170.2 345.4h.01M172.1 329.3h.01" stroke="#f0027f" stroke-opacity=".2" stroke-width="2" stroke-linecap="round" fill="none"/>
<path d="M165.4 314.2h.01M178.4 352.1h.01M159.6 347.3h.01M196.8 342.7h.01M164.8 345.2h.01M179.4 316.7h.01M169.2 314h.01M182.3 324h.01M152.6 337.1h.01M153.8 342.5h.01M153.2 327.7h.01M178.4 341.8h.01M180.6 323.7h.01M157.8 341.1h.01M153.2 339.4h.01M185.6 319.9h.01M183.4 317.1h.01M184.3 316h.01M162.5 318.7h.01M194.1 352.3h.01M180.7 356.7h.01M198.3 337.8h.01M167.4 312.7h.01M151.8 334.6h.01M165.8 322.9h.01M175.9 340.4h.01M177.8 312.3h.01M185.4 347.7h.01M168.1 313.9h.01M198.6 336.2h.01M162.1 338.7h.01M170.8 346.6h.01M196.6 333.9h.01M163 345.5h.01M154.9 340.6h.01" stroke="#f0027f" stroke-opacity=".3" stroke-width="2" stroke-linecap="round" fill="none"/>
<path d="M188.7 348h.01M156.7 322.2h.01M167.3 318.5h.01M178.9 317.5h.01M175 341.1h.01M164.6 331.8h.01M165.6 334.4h.01M167.5 346.6h.01M180.9 322h.01M174.7 338.9h.01M168.9 313.5h.01M155.1 325.2h.01M162.7 346.6h.01M166.5 319.9h.01M195.4 332.6h.01M162.3 330.9h.01M170.8 337.6h.01M181.7 315.1h.01M182.3 315.9h.01M151.1 338.9h.01M170.6 313.2h.01M195.6 334.4h.01M166.6 314.7h.01M195.8 328.2h.01M164.2 330.7h.01M195.7 335.5h.01M155.1 320.1h.01M176.8 313.2h.01M174.1 329.1h.01M166.9 328.4h.01" stroke="#f0027f" stroke-opacity=".5" stroke-width="2" stroke-linecap="round" fill="none"/>
<path d="M184.8 339.6h.01M172.3 333.2h.01M154.4 339.5h.01M176 332.1h.01M162.7 328.4h.01M181.8 322.7h.01M152.2 339.7h.01M155.5 342.6h.01" stroke="#f0027f" stroke-opacity=".6" stroke-width="2" stroke-linecap="round" fill="none"/>
<path d="M153 325.9h.01M168.5 345.9h.01M178 333.4h.01" stroke="#f0027f" stroke-opacity=".7" stroke-width="2" stroke-linecap="round" fill="none"/>
<path d="M153.4 324.3h.01M156.3 339.6h.01M161.5 341.8h.01" stroke="#f0027f" stroke-opacity=".8" stroke-width="2" stroke-linecap="round" fill="none"/>
<path d="M154.4 338.5h.01M152.2 323.6h.01M160.5 341.3h.01" stroke="#f0027f" stroke-opacity=".9" stroke-width="2" stroke-linecap="round" fill="none"/>
<text x="125.6" y="305.8" font-size="14.5" text-anchor="start" font-weight="bold">iv</text>
<text x="177.8" y="307.9" font-size="8.6" text-anchor="middle">PEMC</text>
<rect x="259" y="309.6" width="58.5" height="59.89999999999998" fill="none" stroke="#999" stroke-width="1"/>
<path d="M299.6 348h.01M285.3 348.9h.01M276.1 314.2h.01M278 318.5h.01M283.8 346.4h.01M286.5 362.9h.01M289.1 352.1h.01M275.2 331.8h.01M275 339.9h.01M276.3 334.4h.01M291.4 338h.01M288.5 330.5h.01M285.7 350.9h.01M285.1 366.8h.01M285.1 349.8h.01M307.7 345.4h.01M292.5 363.1h.01M263.1 337.1h.01M287.5 329h.01M287 346.1h.01M288.2 355.3h.01M294.2 356.7h.01M289.4 363.1h.01M291.4 323.7h.01M292.9 357.8h.01M287.1 338.5h.01M282.1 339.2h.01M299 356.5h.01M264.6 343.6h.01M261.9 336.2h.01M299.4 349.6h.01M263.5 334.6h.01M272.5 336.4h.01M303.8 354.2h.01M265 338.5h.01M291.1 360.3h.01M273.1 318.7h.01M304.3 349.2h.01M291.4 356.7h.01M297.3 322.6h.01M285.5 331.4h.01M292.6 322.7h.01M286.7 340.4h.01M288.5 312.3h.01M296.3 347.7h.01M282.8 318h.01M262.7 339.7h.01M280.2 332.7h.01M273.7 340h.01M281.5 346.6h.01M278.6 336.2h.01M289.4 366.5h.01M280.5 343.4h.01M290.1 347.2h.01M280.9 345.4h.01" stroke="#bf5b17" stroke-opacity=".1" stroke-width="2" stroke-linecap="round" fill="none"/>
<path d="M300.5 344.5h.01M294.4 360.4h.01M298.8 344.3h.01M273.4 328.4h.01" stroke="#bf5b17" stroke-opacity=".2" stroke-width="2" stroke-linecap="round" fill="none"/>
<path d="M289.7 317.5h.01M297.5 328.1h.01M307.7 342.7h.01M288.9 354.2h.01M263.5 325.9h.01M265.6 320.1h.01M311.1 334.1h.01" stroke="#bf5b17" stroke-opacity=".3" stroke-width="2" stroke-linecap="round" fill="none"/>
<path d="M267.3 322.2h.01M295 323.1h.01M275.4 317.6h.01M307.9 329.8h.01M304.2 332.3h.01M290.2 316.7h.01M279.9 314h.01M263.7 327.7h.01M306.1 354.6h.01M265.6 325.2h.01M300.8 326.8h.01M296.5 319.9h.01M294.2 317.1h.01M299 329.3h.01M311.6 348h.01M295.5 322.1h.01M295.2 316h.01M286.7 365.2h.01M294.8 318.3h.01M293 315.9h.01M301.5 328.9h.01M281.3 313.2h.01M314.8 350.3h.01M298.1 327.2h.01M309.2 337.8h.01M312.1 335.5h.01M310 348.2h.01M306.7 328.2h.01M278.8 313.9h.01M309.5 336.2h.01M264.2 322.9h.01" stroke="#bf5b17" stroke-opacity=".5" stroke-width="2" stroke-linecap="round" fill="none"/>
<path d="M303.4 329.5h.01M305.2 330h.01M300.8 330.7h.01M280 316.9h.01M282.8 313.9h.01M279.6 313.5h.01M283 315.7h.01M314.4 354.6h.01M266.7 323.1h.01M282.3 315.8h.01M313.1 353.9h.01M313.6 352.1h.01M311.7 344.6h.01M284.2 316.5h.01M292.5 315.1h.01M314.4 353.1h.01M306.6 353.4h.01M298.3 324.7h.01M312.8 354.2h.01M311.7 333h.01M280.7 316h.01M278.6 316.7h.01M287.1 314.2h.01M293.7 319.9h.01M283 315.5h.01M314.8 351.2h.01" stroke="#bf5b17" stroke-opacity=".6" stroke-width="2" stroke-linecap="round" fill="none"/>
<path d="M295.2 324.5h.01M309.2 332.7h.01M310.7 335.7h.01M314 348.9h.01M309.9 331.6h.01M312.3 343.1h.01M302.7 358.7h.01M277.5 315.8h.01M287.6 317.1h.01M293.1 321.3h.01M276.4 318h.01" stroke="#bf5b17" stroke-opacity=".7" stroke-width="2" stroke-linecap="round" fill="none"/>
<path d="M306.8 329.6h.01M292.3 316.5h.01" stroke="#bf5b17" stroke-opacity=".8" stroke-width="2" stroke-linecap="round" fill="none"/>
<path d="M310.2 341.3h.01M295 319.1h.01M285.5 313.2h.01M289.6 314.5h.01M313.8 346.4h.01M313 337.6h.01M311.1 337.3h.01M312.3 351.4h.01M312.5 345.4h.01M268.8 320.4h.01M295 317.8h.01M311.7 338.9h.01M308.8 331.4h.01M310.9 330.9h.01M300.4 330h.01M310.5 342.6h.01M311.7 342h.01M309.3 331.5h.01M313.2 336.3h.01M311.4 345h.01M313.1 347.7h.01M290.2 315.3h.01" stroke="#bf5b17" stroke-opacity=".9" stroke-width="2" stroke-linecap="round" fill="none"/>
<text x="235.6" y="305.8" font-size="14.5" text-anchor="start" font-weight="bold">v</text>
<text x="287.5" y="298.2" font-size="8.6" text-anchor="middle">Other sociomedical</text>
<text x="287.5" y="307.5" font-size="8.6" text-anchor="middle">factors</text>
<rect x="423.5" y="19.2" width="58.5" height="60.099999999999994" fill="none" stroke="#999" stroke-width="1"/>
<path d="M465.8 51.9h.01M476 52.2h.01M471.6 54.9h.01M456.9 66.2h.01M476.6 32.5h.01M468.5 43.1h.01M473.5 48.9h.01M477.9 49.1h.01M478.1 55.8h.01M463.5 70.4h.01M476.8 35.5h.01M461.2 23.1h.01M473.7 50.8h.01M476.6 40.8h.01M478.7 42.4h.01M471 53.1h.01M475.8 53.8h.01M468.7 53.5h.01" stroke="#8da0cb" stroke-opacity=".2" stroke-width="2" stroke-linecap="round" fill="none"/>
<path d="M462.7 57.7h.01M468.7 58.6h.01M474.1 47.3h.01M470.9 44.5h.01M448.6 60.5h.01M465 68.7h.01M468.1 35.3h.01M473.3 47.7h.01M446.1 59.8h.01M462.3 45h.01M469.1 45.6h.01M470.4 49.3h.01M452.6 53.1h.01M468.3 68.7h.01M452.2 64.1h.01M466.9 30.9h.01M463.9 44.7h.01M466.3 50.9h.01M465.4 32.8h.01M460.4 48.9h.01M466.4 37.4h.01M450.9 68.5h.01M464.6 51.2h.01M459.6 23.1h.01M472.3 29.8h.01M461.2 67.8h.01M464.2 65.6h.01M471 26.3h.01M448.8 49.1h.01M451.3 69.7h.01M456 58.6h.01M464.2 60.2h.01M475.4 46.3h.01M462.9 26.8h.01M463.7 66.4h.01M470.4 42.9h.01M444.5 58.1h.01M473.9 30h.01M466.4 58.1h.01M452.2 62.3h.01M458.5 50.8h.01M458.1 58.6h.01M467.5 47.5h.01M476.4 48.4h.01M448 66.2h.01M463.3 64.6h.01M451.3 58.4h.01M473.1 60.7h.01M467.3 35.1h.01M456.5 49.3h.01M476.4 43.3h.01M454.8 44.3h.01M451.5 63.7h.01M475.4 44.3h.01M469.8 59.5h.01M476.6 54.5h.01M478 41.1h.01M449.5 66.2h.01M468.7 67.4h.01M451.1 57h.01M477.9 41.3h.01M462.9 55.6h.01M469.1 28.1h.01M466.6 40.4h.01M472.5 53.5h.01M469.4 38.3h.01" stroke="#8da0cb" stroke-opacity=".3" stroke-width="2" stroke-linecap="round" fill="none"/>
<path d="M464.6 30.7h.01M470 27h.01M472.3 64.4h.01M475 33.4h.01M473.3 37.1h.01" stroke="#8da0cb" stroke-opacity=".6" stroke-width="2" stroke-linecap="round" fill="none"/>
<path d="M463.1 39.9h.01M462.2 22.9h.01M475.6 57.7h.01M479.3 52.4h.01M463.7 42.4h.01M468.5 56.9h.01M458.3 26.1h.01M444.3 47.7h.01M435.5 37.1h.01M453.7 55.2h.01M459.8 61.6h.01M467.5 55.8h.01M457.3 48h.01M467.7 72h.01M442.6 54.7h.01M445.9 68.7h.01" stroke="#8da0cb" stroke-opacity=".7" stroke-width="2" stroke-linecap="round" fill="none"/>
<path d="M457.7 44.5h.01M468.5 63.7h.01M479.1 47.7h.01M443.8 64.4h.01M440.2 47.7h.01M463.5 21.9h.01M441.3 47.5h.01M462.9 76.6h.01M465.2 65.8h.01M470.4 69h.01M472.3 45.6h.01M439.4 59.3h.01M438.9 49.3h.01M472.5 35.3h.01M474.1 42.2h.01M446.5 61.1h.01M458.8 45.3h.01M455.8 24.2h.01M477.9 37.6h.01M465.6 30.9h.01M458.1 23.5h.01M461.7 55.6h.01M465.4 46.1h.01M466 24.7h.01M448.8 38.7h.01M455 65.1h.01M435.3 67.4h.01M473.1 57.9h.01" stroke="#8da0cb" stroke-opacity=".8" stroke-width="2" stroke-linecap="round" fill="none"/>
<path d="M430.1 61.8h.01M431.8 52.4h.01M431.2 42.7h.01M440.1 43.1h.01M466.4 65.3h.01M438.9 63.2h.01M443.2 62.1h.01M444 30.7h.01M470.8 65.7h.01M440.1 36.9h.01M440.5 60.2h.01M441.3 38.3h.01M448.6 33h.01M436.1 41h.01M461 54h.01M436.6 64.1h.01M457.1 67.8h.01M439.7 45.6h.01M439.3 31.8h.01M442.8 31.6h.01M462.7 73.6h.01M459.2 52.6h.01M465 61.6h.01M443 66h.01M440.3 53.3h.01M442.6 38.7h.01M435.9 54h.01M434.1 40.8h.01M432 48.4h.01M439.1 51.5h.01M451.8 47.3h.01M432.8 54.5h.01M427.4 47.7h.01M447 51.2h.01M433.4 50.8h.01M442.8 51.9h.01M429.7 49.6h.01M434.2 66.8h.01M434.5 45.4h.01M460.2 75.9h.01M452.6 25.6h.01M434.3 39.4h.01M445.3 33.2h.01M443.4 26.8h.01M427.8 53.1h.01M454 52.4h.01M453.1 62.5h.01M434.3 46.7h.01M442.2 72h.01M438.6 60.5h.01M436.8 28.8h.01M437 70.1h.01M430.1 40.1h.01M437.4 50.8h.01M451.5 71.7h.01M453.3 37.6h.01M442.2 33h.01M437.6 48.2h.01M455.9 67.8h.01M450.5 76.1h.01M456.9 74.7h.01M432.4 61.1h.01M440 54.3h.01M439.9 71h.01M429.3 44.7h.01M445.3 35.1h.01M459.8 46.8h.01M426.8 52.9h.01M426.2 54.2h.01M461.9 61.4h.01M428.5 45.6h.01M446.3 71.7h.01M443 43.6h.01M434.3 48.9h.01M436.6 31.1h.01M447.2 75h.01M436.1 44.7h.01M430.7 53.8h.01M433.4 36h.01M445.9 27.9h.01M437.6 36.9h.01M451.1 29.3h.01M461.5 65.2h.01M457.5 28.1h.01M444.7 29.5h.01M447 70.1h.01M432.2 45h.01M428.9 51.9h.01M444.1 67.6h.01M439.1 43.1h.01M454.8 25.8h.01M433.2 58.6h.01M455.7 26.1h.01M452.6 37.8h.01M433.9 33.7h.01M440.1 29.1h.01M440.9 33.4h.01M464 60.6h.01M433.2 66h.01M462.1 66h.01M429.3 54.7h.01M435.7 42.7h.01M439.7 54.9h.01M447.2 45.2h.01M441.3 31.8h.01M440.9 25.8h.01M444.9 70.6h.01M434.3 68.7h.01M453.1 64.4h.01M441.8 54.2h.01M440.5 66.4h.01M429.3 47h.01M439.5 39.9h.01M454.4 39.4h.01M444.8 69h.01M445.7 43.1h.01M450.1 62.1h.01M432.4 60h.01M452.4 75.4h.01M430.2 52.7h.01M442 49.2h.01M464.2 67.8h.01M438.6 33.9h.01M437 57.2h.01M433 40.4h.01M465.2 58.8h.01M442 58.8h.01" stroke="#8da0cb" stroke-opacity=".9" stroke-width="2" stroke-linecap="round" fill="none"/>
<text x="400.6" y="14.5" font-size="14.5" text-anchor="start" font-weight="bold">i</text>
<text x="452.6" y="7.8" font-size="8.6" text-anchor="middle">Func.</text>
<text x="452.6" y="17.0" font-size="8.6" text-anchor="middle">rec.</text>
<rect x="533.5" y="19.2" width="58.5" height="60.099999999999994" fill="none" stroke="#999" stroke-width="1"/>
<path d="M540.1 61.8h.01M575.8 51.9h.01M586 52.2h.01M548.9 63.2h.01M578.7 58.6h.01M551.3 38.3h.01M558.6 33h.01M566.9 66.2h.01M572.3 45h.01M579.1 45.6h.01M573.1 39.9h.01M562.6 53.1h.01M572.7 73.6h.01M549.1 51.5h.01M557 51.2h.01M578.5 43.1h.01M562.6 25.6h.01M570.4 48.9h.01M553.4 26.8h.01M573.7 42.4h.01M560.9 68.5h.01M546.8 28.8h.01M550.2 47.7h.01M540.1 40.1h.01M578.5 56.9h.01M552.2 33h.01M569.6 23.1h.01M568.3 26.1h.01M574.2 65.6h.01M569.8 46.8h.01M538.5 45.6h.01M554.3 47.7h.01M574.2 60.2h.01M544.3 48.9h.01M545.5 37.1h.01M563.7 55.2h.01M549.4 59.3h.01M561.1 29.3h.01M568.1 58.6h.01M543.2 58.6h.01M562.6 37.8h.01M550.1 29.1h.01M543.2 66h.01M577.5 47.5h.01M586.4 48.4h.01M573.3 64.6h.01M565.8 24.2h.01M561.3 58.4h.01M563.1 64.4h.01M578.7 53.5h.01M550.5 66.4h.01M568.1 23.5h.01M564.4 39.4h.01M558.8 38.7h.01M561.1 57h.01M545.3 67.4h.01M552 58.8h.01" stroke="#e78ac3" stroke-opacity=".1" stroke-width="2" stroke-linecap="round" fill="none"/>
<path d="M578.3 68.7h.01M576.3 50.9h.01M574.6 51.2h.01M569.8 61.6h.01M543.9 33.7h.01M550.9 25.8h.01M544.3 68.7h.01" stroke="#e78ac3" stroke-opacity=".2" stroke-width="2" stroke-linecap="round" fill="none"/>
<path d="M576.9 30.9h.01" stroke="#e78ac3" stroke-opacity=".3" stroke-width="2" stroke-linecap="round" fill="none"/>
<path d="M576.4 65.3h.01M571 54h.01M575.4 32.8h.01M560.5 76.1h.01M572.9 76.6h.01M580.4 42.9h.01M554.5 58.1h.01M580.4 69h.01M582.3 64.4h.01M549.7 54.9h.01M587.9 37.6h.01" stroke="#e78ac3" stroke-opacity=".5" stroke-width="2" stroke-linecap="round" fill="none"/>
<path d="M572.7 57.7h.01M580.8 65.7h.01M572.2 22.9h.01M586.6 32.5h.01M553.8 64.4h.01M574.6 30.7h.01M552.2 72h.01M561.5 71.7h.01M573.5 70.4h.01M573.5 21.9h.01M566.9 74.7h.01M581 26.3h.01M586.8 35.5h.01M571.9 61.4h.01M580 27h.01M575.2 65.8h.01M571.2 23.1h.01M572.9 26.8h.01M583.9 30h.01M586.6 40.8h.01M582.5 35.3h.01M571.7 55.6h.01M586.6 54.5h.01M577.7 72h.01" stroke="#e78ac3" stroke-opacity=".6" stroke-width="2" stroke-linecap="round" fill="none"/>
<path d="M581.6 54.9h.01M580.9 44.5h.01M575 68.7h.01M583.3 47.7h.01M582.3 29.8h.01M583.7 50.8h.01M573.7 66.4h.01M584.1 42.2h.01M572.1 66h.01M581 53.1h.01M575.6 30.9h.01M586.4 43.3h.01M585.4 44.3h.01M579.8 59.5h.01M576 24.7h.01M587.9 41.3h.01M572.9 55.6h.01M575.2 58.8h.01M582.5 53.5h.01" stroke="#e78ac3" stroke-opacity=".7" stroke-width="2" stroke-linecap="round" fill="none"/>
<path d="M580.4 49.3h.01M567.1 67.8h.01M589.3 52.4h.01M588.1 55.8h.01M558.8 49.1h.01M585.4 46.3h.01M571.5 65.2h.01M574.2 67.8h.01M579.1 28.1h.01" stroke="#e78ac3" stroke-opacity=".8" stroke-width="2" stroke-linecap="round" fill="none"/>
<path d="M584.1 47.3h.01M589.1 47.7h.01M583.5 48.9h.01M587.9 49.1h.01M565.9 67.8h.01M588.7 42.4h.01M585 33.4h.01M583.3 37.1h.01M588 41.1h.01" stroke="#e78ac3" stroke-opacity=".9" stroke-width="2" stroke-linecap="round" fill="none"/>
<text x="510.6" y="14.5" font-size="14.5" text-anchor="start" font-weight="bold">ii</text>
<text x="562.6" y="7.8" font-size="8.6" text-anchor="middle">Post-TBI</text>
<text x="562.6" y="17.0" font-size="8.6" text-anchor="middle">stress</text>
<rect x="643.5" y="19.2" width="58.0" height="60.099999999999994" fill="none" stroke="#999" stroke-width="1"/>
<path d="M685.5 51.9h.01M651.1 42.7h.01M686.1 65.3h.01M677.4 44.5h.01M691.2 54.9h.01M690.5 44.5h.01M660 36.9h.01M684.6 68.7h.01M660.4 60.2h.01M692.9 47.7h.01M681.9 22.9h.01M698.9 52.4h.01M678.9 52.6h.01M683.6 44.7h.01M688.1 63.7h.01M647.4 47.7h.01M688.1 43.1h.01M679.9 75.9h.01M663.3 26.8h.01M684.2 30.7h.01M697.4 49.1h.01M650.1 40.1h.01M671.3 71.7h.01M673.1 37.6h.01M683.2 21.9h.01M657.5 48.2h.01M670.3 76.1h.01M678 26.1h.01M690.6 26.3h.01M696.4 35.5h.01M681.5 61.4h.01M684.9 65.8h.01M654.2 48.9h.01M694.9 46.3h.01M693.3 50.8h.01M683.4 66.4h.01M665.7 27.9h.01M690 69h.01M691.9 45.6h.01M666.8 70.1h.01M658.7 49.3h.01M658.9 43.1h.01M696.2 40.8h.01M672.3 37.8h.01M692.1 35.3h.01M653.8 33.7h.01M660.8 33.4h.01M698.2 42.4h.01M696 48.4h.01M694.5 33.4h.01M695.4 53.8h.01M697.4 37.6h.01M664.7 70.6h.01M692.9 37.1h.01M672.9 64.4h.01M661.6 54.2h.01M660.4 66.4h.01M659.3 39.9h.01M681.3 55.6h.01M665.5 43.1h.01M696 43.3h.01M685 46.1h.01M685.7 24.7h.01M697.4 41.3h.01M674.7 65.1h.01M658.5 33.9h.01" stroke="#e5c494" stroke-opacity=".1" stroke-width="2" stroke-linecap="round" fill="none"/>
<path d="M651.7 52.4h.01M663.9 30.7h.01M680.7 54h.01M695.2 57.7h.01M693.1 48.9h.01M683.4 42.4h.01M697.6 55.8h.01M664.5 29.5h.01M652.1 45h.01M690.6 53.1h.01M697.5 41.1h.01M687.3 72h.01M656.9 57.2h.01M692.1 53.5h.01" stroke="#e5c494" stroke-opacity=".2" stroke-width="2" stroke-linecap="round" fill="none"/>
<path d="M662.4 38.7h.01M663.9 67.6h.01M649.2 47h.01M696.2 54.5h.01M650.2 52.7h.01" stroke="#e5c494" stroke-opacity=".3" stroke-width="2" stroke-linecap="round" fill="none"/>
<path d="M687.7 35.3h.01M682.8 39.9h.01M666.8 51.2h.01M656.9 70.1h.01M683.2 70.4h.01M676.6 74.7h.01M670.9 29.3h.01M677.2 28.1h.01M688.3 53.5h.01M669.9 62.1h.01" stroke="#e5c494" stroke-opacity=".5" stroke-width="2" stroke-linecap="round" fill="none"/>
<path d="M695.6 52.2h.01M671.9 64.1h.01M682.4 73.6h.01M659.8 71h.01M666.1 71.7h.01M689.6 27h.01M675.8 58.6h.01M680.9 23.1h.01M667 75h.01M682.6 26.8h.01M677 48h.01M693.7 42.2h.01M664.6 69h.01M655.2 67.4h.01" stroke="#e5c494" stroke-opacity=".6" stroke-width="2" stroke-linecap="round" fill="none"/>
<path d="M688.8 45.6h.01M656.5 64.1h.01M684.6 61.6h.01M680.1 48.9h.01M663.7 64.4h.01M660 47.7h.01M684.2 51.2h.01M680.9 67.8h.01M673.5 55.2h.01M664.3 58.1h.01M677.8 58.6h.01M666.4 61.1h.01M675.6 24.2h.01M665.7 68.7h.01" stroke="#e5c494" stroke-opacity=".7" stroke-width="2" stroke-linecap="round" fill="none"/>
<path d="M668.4 60.5h.01M696.2 32.5h.01M670.7 68.5h.01M686.1 58.1h.01M674.5 25.8h.01M683.7 60.6h.01M686.9 35.1h.01" stroke="#e5c494" stroke-opacity=".8" stroke-width="2" stroke-linecap="round" fill="none"/>
<path d="M665.9 59.8h.01M686.1 37.4h.01M683.8 65.6h.01M668.6 49.1h.01M661.2 47.5h.01M683.8 60.2h.01M671.9 62.3h.01M675.4 26.1h.01M687.1 47.5h.01M667.8 66.2h.01M683 64.6h.01M671.1 58.4h.01M676.2 49.3h.01M671.2 63.7h.01M669.2 66.2h.01M688.3 67.4h.01M672.1 75.4h.01M686.3 40.4h.01M689 38.3h.01" stroke="#e5c494" stroke-opacity=".9" stroke-width="2" stroke-linecap="round" fill="none"/>
<text x="620.6" y="14.5" font-size="14.5" text-anchor="start" font-weight="bold">iii</text>
<text x="672.6" y="7.8" font-size="8.6" text-anchor="middle">Cognitive</text>
<text x="672.6" y="17.0" font-size="8.6" text-anchor="middle">impairment</text>
<rect x="643.5" y="116.5" width="58.0" height="59.69999999999999" fill="none" stroke="#999" stroke-width="1"/>
<path d="M650.1 158.8h.01M651.1 139.8h.01M660 140.3h.01M690.5 141.6h.01M660 134.1h.01M692.9 144.8h.01M668.4 130.2h.01M680.7 151.1h.01M690 146.4h.01M676.8 164.8h.01M687.9 165.7h.01M684.6 158.6h.01M662.8 163h.01M660.2 150.4h.01M655.8 151.1h.01M666.8 148.3h.01M653.4 147.9h.01M693.1 146h.01M663.7 161.4h.01M697.4 146.2h.01M670.7 165.5h.01M673.1 134.8h.01M679.3 120.4h.01M683.2 167.3h.01M678 123.3h.01M676.6 171.7h.01M646.8 149.9h.01M646.1 151.3h.01M689.6 124.2h.01M684.9 162.8h.01M675.8 155.6h.01M680.9 120.4h.01M656.5 128.4h.01M664.3 155.2h.01M691.9 142.8h.01M659.2 156.4h.01M652.1 142.1h.01M686.1 155.2h.01M658.7 146.4h.01M671.9 159.3h.01M692.1 132.5h.01M666.4 158.2h.01M660.8 130.6h.01M683.7 157.7h.01M691.9 161.4h.01M659.5 152h.01M687.1 144.6h.01M660.8 123.1h.01M669.9 159.1h.01M671.2 160.7h.01M696.2 151.5h.01M652.3 157h.01M668.6 135.9h.01M670.9 154h.01M662.4 151.8h.01M661.8 146.3h.01M697.4 138.4h.01M674.7 162.1h.01M655.2 164.3h.01M688.8 125.4h.01M692.1 150.6h.01M665.7 165.7h.01M661.8 155.9h.01M689 135.5h.01" stroke="#b3b3b3" stroke-opacity=".1" stroke-width="2" stroke-linecap="round" fill="none"/>
<path d="M687.7 132.5h.01M682.4 170.5h.01M683.6 141.9h.01M696.2 129.7h.01M696.4 132.7h.01M693.3 147.9h.01M665.7 125.2h.01M681.1 162.2h.01M696.2 138h.01M698.2 139.6h.01M695.4 150.8h.01" stroke="#b3b3b3" stroke-opacity=".2" stroke-width="2" stroke-linecap="round" fill="none"/>
<path d="M659.5 142.8h.01M656 141.9h.01M653.8 130.9h.01M667 142.3h.01" stroke="#b3b3b3" stroke-opacity=".3" stroke-width="2" stroke-linecap="round" fill="none"/>
<path d="M685.5 149h.01M681.9 120.1h.01M679.9 172.8h.01M670.3 173h.01" stroke="#b3b3b3" stroke-opacity=".5" stroke-width="2" stroke-linecap="round" fill="none"/>
<path d="M682.4 154.7h.01M677.4 141.6h.01M691.2 152h.01M678.9 149.7h.01M688.1 160.7h.01M662.6 149h.01M683.4 139.6h.01M688.1 153.9h.01M683.2 119.2h.01M690.6 123.6h.01M681.5 158.4h.01M662.8 140.7h.01M667 171.9h.01M679.5 158.6h.01M670.9 126.5h.01M687.1 152.9h.01M677.8 155.6h.01M677 145.1h.01M672.3 135h.01M688.3 150.6h.01M687.3 168.9h.01M692.7 155h.01" stroke="#b3b3b3" stroke-opacity=".6" stroke-width="2" stroke-linecap="round" fill="none"/>
<path d="M682.8 137.1h.01M671.5 144.4h.01M685.9 148h.01M688.1 140.3h.01M680.9 164.8h.01M659.8 168h.01M679.5 143.9h.01M678.5 142.4h.01M690.6 150.2h.01M677.8 120.8h.01M685 143.2h.01M688.3 164.3h.01M686.3 137.5h.01" stroke="#b3b3b3" stroke-opacity=".7" stroke-width="2" stroke-linecap="round" fill="none"/>
<path d="M680.1 146h.01M683.8 157.2h.01M696 145.5h.01M667.8 163.2h.01" stroke="#b3b3b3" stroke-opacity=".8" stroke-width="2" stroke-linecap="round" fill="none"/>
<path d="M688.3 155.6h.01M681.9 142.1h.01M684.2 148.3h.01M694.9 143.5h.01M678.2 147.9h.01M686.9 132.3h.01M674.5 141.4h.01" stroke="#b3b3b3" stroke-opacity=".9" stroke-width="2" stroke-linecap="round" fill="none"/>
<text x="620.6" y="111.9" font-size="14.5" text-anchor="start" font-weight="bold">iv</text>
<text x="672.6" y="104.4" font-size="8.6" text-anchor="middle">3-month</text>
<text x="672.6" y="114" font-size="8.6" text-anchor="middle">NBI</text>
<rect x="643.5" y="213" width="58.0" height="59.80000000000001" fill="none" stroke="#999" stroke-width="1"/>
<path d="M650.1 255.4h.01M651.7 246h.01M688.3 252.2h.01M681.9 238.6h.01M672.3 246.7h.01M687.9 262.3h.01M659.5 239.3h.01M659.1 225.6h.01M671.9 257.7h.01M662.6 225.3h.01M698.9 246h.01M678.9 246.3h.01M688.1 257.3h.01M671.5 240.9h.01M666.8 244.9h.01M653.4 244.4h.01M680.1 242.5h.01M663.3 220.5h.01M698.7 241.4h.01M693.1 242.6h.01M656.9 263.7h.01M657.3 244.4h.01M688.1 250.5h.01M683.2 263.9h.01M675.6 261.3h.01M670.3 269.6h.01M676.6 268.2h.01M680.9 261.4h.01M659.8 264.6h.01M679.5 240.5h.01M681.5 255h.01M689.6 220.8h.01M683.8 253.8h.01M693.3 244.4h.01M664.3 251.8h.01M670.9 223h.01M687.1 249.5h.01M664.5 223.3h.01M666.8 263.7h.01M648.8 245.6h.01M663.9 261.1h.01M671.9 255.9h.01M677 241.6h.01M696.2 234.5h.01M681.7 259.5h.01M691.9 257.9h.01M683 258.2h.01M694.5 227.2h.01M690.6 246.7h.01M660.8 219.6h.01M697.4 231.3h.01M664.7 264.1h.01M654.2 262.3h.01M692.9 230.8h.01M686.9 228.8h.01M660.4 260h.01M681.3 249.2h.01M664.6 262.5h.01M669.9 255.6h.01M694.9 237.9h.01M689.4 253.1h.01M696.2 248.1h.01M685 239.8h.01M652.3 253.6h.01M672.1 268.9h.01M697.4 235h.01M656.9 250.8h.01M688.8 221.9h.01M692.7 251.5h.01M684.8 252.4h.01M686.3 234h.01M689 232h.01" stroke="#fc8d62" stroke-opacity=".1" stroke-width="2" stroke-linecap="round" fill="none"/>
<path d="M651.1 236.3h.01M695.6 245.8h.01M688.8 239.3h.01M690 243h.01M681.9 216.6h.01M684.6 255.2h.01M684.2 224.4h.01M697.4 242.8h.01M650.1 233.8h.01M677.2 221.9h.01M683.7 254.2h.01M685.3 224.6h.01M659.3 233.6h.01M688.3 260.9h.01M683.8 261.4h.01" stroke="#fc8d62" stroke-opacity=".2" stroke-width="2" stroke-linecap="round" fill="none"/>
<path d="M662.4 232.4h.01M655.8 247.6h.01M665.1 226.9h.01M691.9 223.5h.01M653.4 229.7h.01" stroke="#fc8d62" stroke-opacity=".3" stroke-width="2" stroke-linecap="round" fill="none"/>
<path d="M668.4 226.7h.01M695.2 251.3h.01M682.4 267.1h.01M685.9 244.6h.01M661.2 241.1h.01M686.1 251.8h.01M658.9 236.8h.01M688.3 247.2h.01M674.7 258.6h.01" stroke="#fc8d62" stroke-opacity=".5" stroke-width="2" stroke-linecap="round" fill="none"/>
<path d="M677.4 238.2h.01M683.4 236.1h.01M662 265.5h.01M660 241.4h.01M679.3 216.9h.01M664.1 241.4h.01M684.9 259.4h.01M673.5 248.8h.01M666.4 254.7h.01M661.6 247.9h.01" stroke="#fc8d62" stroke-opacity=".6" stroke-width="2" stroke-linecap="round" fill="none"/>
<path d="M685.5 245.6h.01M686.1 258.9h.01M686.5 224.7h.01M688.1 236.8h.01M679.5 255.2h.01M693.5 223.7h.01M653.1 252.2h.01M678.5 239h.01M671.1 252h.01M668.6 232.4h.01M662.4 248.3h.01" stroke="#fc8d62" stroke-opacity=".7" stroke-width="2" stroke-linecap="round" fill="none"/>
<path d="M676.6 259.8h.01M673.7 246h.01M686.1 231.1h.01M670.7 262.1h.01M671.1 263.2h.01M669.2 259.8h.01M665.7 262.3h.01" stroke="#fc8d62" stroke-opacity=".8" stroke-width="2" stroke-linecap="round" fill="none"/>
<path d="M668.4 254h.01M684.6 262.3h.01M687.7 229h.01M672.3 219.4h.01M673.1 231.3h.01M683.4 260h.01M658.7 243h.01M678.2 244.4h.01M672.9 257.9h.01M692.7 254.3h.01M674.1 233.1h.01M670.9 250.6h.01M661.8 242.8h.01M692.1 247.2h.01" stroke="#fc8d62" stroke-opacity=".9" stroke-width="2" stroke-linecap="round" fill="none"/>
<text x="620.6" y="208.3" font-size="14.5" text-anchor="start" font-weight="bold">v</text>
<text x="672.6" y="201.2" font-size="8.6" text-anchor="middle">Emotional</text>
<text x="672.6" y="211.1" font-size="8.6" text-anchor="middle">distress</text>
<rect x="643.5" y="309.6" width="58.0" height="59.89999999999998" fill="none" stroke="#999" stroke-width="1"/>
<path d="M650.1 352.1h.01M651.1 333h.01M686.1 355.5h.01M663.9 321.1h.01M668.4 350.7h.01M656 331.4h.01M676.6 356.5h.01M682.8 330.2h.01M678.9 342.9h.01M684.6 351.9h.01M654.4 335.7h.01M672.3 316h.01M680.1 339.2h.01M647.8 343.4h.01M698.7 338h.01M663.7 354.6h.01M686.1 327.7h.01M670.7 358.7h.01M658.5 350.7h.01M656.7 319.2h.01M684.2 341.5h.01M657.3 341.1h.01M662 323.3h.01M683.2 360.6h.01M691.9 320.1h.01M690.6 316.7h.01M665.1 325.4h.01M681.5 351.6h.01M689.6 317.4h.01M664.1 338h.01M671.1 359.9h.01M662.8 333.9h.01M682.6 366.8h.01M693.3 341.1h.01M673.5 345.4h.01M679.5 351.9h.01M665.7 318.3h.01M657.5 327.2h.01M670.9 319.7h.01M687.1 346.1h.01M664.5 319.9h.01M666.8 360.4h.01M686.1 348.4h.01M658.9 333.4h.01M677 338.3h.01M674.5 316.2h.01M678.5 335.6h.01M683.7 350.9h.01M681.7 356.2h.01M659.5 345.2h.01M667 335.5h.01M675.6 314.6h.01M661.2 322.2h.01M690.6 343.4h.01M686.9 325.4h.01M688.3 343.8h.01M659.3 330.2h.01M674.1 329.8h.01M664.6 359.2h.01M665.5 333.4h.01M689.4 349.8h.01M696.2 344.7h.01M697.5 331.5h.01M688.3 357.6h.01M662.4 345h.01M650.2 343h.01M661.8 339.5h.01M683.8 358.1h.01M674.7 355.3h.01M656.9 347.5h.01M682.6 345.9h.01M684.8 349.1h.01M686.3 330.7h.01" stroke="#ffd92f" stroke-opacity=".1" stroke-width="2" stroke-linecap="round" fill="none"/>
<path d="M677.4 334.8h.01M691.2 345.2h.01M693.7 337.6h.01M690.4 356h.01M661.2 328.6h.01M687.7 325.6h.01M681.9 313.2h.01M686.5 321.3h.01M688.1 353.9h.01M688.1 333.4h.01M663.3 317.1h.01M673.7 342.7h.01M697.6 346.1h.01M679.5 337.1h.01M646.8 343.1h.01M675.8 348.9h.01M680.9 313.5h.01M682.6 317.1h.01M683.4 356.7h.01M690 333.2h.01M677.2 318.5h.01M696.2 331.1h.01M693.7 332.5h.01M691.9 354.6h.01M694.5 323.8h.01M681.3 345.9h.01M674.5 334.6h.01M652.3 350.3h.01M685.7 315.1h.01M652.9 330.7h.01" stroke="#ffd92f" stroke-opacity=".2" stroke-width="2" stroke-linecap="round" fill="none"/>
<path d="M659.5 336h.01M654.1 331.2h.01M650.1 330.5h.01M648.8 342.2h.01M658.5 324.3h.01" stroke="#ffd92f" stroke-opacity=".3" stroke-width="2" stroke-linecap="round" fill="none"/>
<path d="M680.9 358.1h.01" stroke="#ffd92f" stroke-opacity=".5" stroke-width="2" stroke-linecap="round" fill="none"/>
<path d="M695.6 342.5h.01M668.4 323.3h.01M691.9 336h.01M655.6 333h.01M697.4 327.9h.01M661.8 349.1h.01" stroke="#ffd92f" stroke-opacity=".6" stroke-width="2" stroke-linecap="round" fill="none"/>
<path d="M682.4 348h.01M685.5 342.2h.01M660.4 350.5h.01M671.9 354.4h.01M683.6 335h.01M666.8 341.5h.01M685.9 341.2h.01M671.3 362h.01M649.2 335h.01M653.1 348.9h.01M661.6 344.5h.01M689 328.6h.01" stroke="#ffd92f" stroke-opacity=".7" stroke-width="2" stroke-linecap="round" fill="none"/>
<path d="M658.7 353.5h.01M687.9 359h.01M685 323.1h.01M679.9 366.1h.01M648.4 335.9h.01M659.2 349.6h.01M671.9 352.5h.01M683 354.8h.01M692.7 350.9h.01M685 336.4h.01M655.2 357.6h.01" stroke="#ffd92f" stroke-opacity=".8" stroke-width="2" stroke-linecap="round" fill="none"/>
<path d="M663.1 352.3h.01M665.9 350h.01M688.8 336h.01M672.3 343.4h.01M683.8 355.8h.01M696 338.7h.01M695.4 344.1h.01M676.2 339.6h.01M696 333.7h.01M671.2 354h.01M694.9 334.6h.01M692.7 348.2h.01" stroke="#ffd92f" stroke-opacity=".9" stroke-width="2" stroke-linecap="round" fill="none"/>
<text x="620.6" y="305.8" font-size="14.5" text-anchor="start" font-weight="bold">vi</text>
<text x="672.6" y="298.1" font-size="8.6" text-anchor="middle">Conc. and</text>
<text x="672.6" y="307.6" font-size="8.6" text-anchor="middle">ep. memory</text>
<rect x="533.5" y="309.6" width="58.5" height="59.89999999999998" fill="none" stroke="#999" stroke-width="1"/>
<path d="M575.8 342.2h.01M548.9 353.5h.01M567.7 334.8h.01M581.6 345.2h.01M553.2 352.3h.01M584.1 337.6h.01M554 321.1h.01M575 359h.01M546.1 331.4h.01M556.1 350h.01M579.1 336h.01M573.1 330.2h.01M572.2 313.2h.01M572.7 363.8h.01M569.2 342.9h.01M553 356.2h.01M550.3 343.6h.01M549.1 341.8h.01M570.2 366.1h.01M570.4 339.2h.01M555.3 323.6h.01M564 342.7h.01M544.3 337h.01M587.9 339.4h.01M552.2 362.2h.01M560.9 358.7h.01M546.8 319.2h.01M547 360.4h.01M574.6 341.5h.01M578.5 347.2h.01M573.5 312.3h.01M539.3 335h.01M569.8 337.1h.01M561.3 359.9h.01M575.2 356h.01M571.2 313.5h.01M557.2 365.2h.01M563.7 345.4h.01M546.1 335h.01M573.7 356.7h.01M554.5 348.4h.01M555.9 318.3h.01M583.9 320.4h.01M547.6 327.2h.01M561.1 319.7h.01M542.2 335.3h.01M554.1 357.8h.01M562.2 352.5h.01M567.3 338.3h.01M564.8 316.2h.01M582.5 325.6h.01M543.9 324h.01M550.1 319.4h.01M574 350.9h.01M543.2 356.2h.01M588.7 332.7h.01M549.7 345.2h.01M558 356.5h.01M585 323.8h.01M561.3 348.6h.01M544.3 359h.01M551.8 344.5h.01M578.7 343.8h.01M550.5 356.7h.01M539.3 337.3h.01M549.5 330.2h.01M564.4 329.8h.01M585.4 334.6h.01M562.4 365.6h.01M540.2 343h.01M574.2 358.1h.01M547 347.5h.01M543 330.7h.01M576.6 330.7h.01M555.9 359h.01" stroke="#a6d854" stroke-opacity=".1" stroke-width="2" stroke-linecap="round" fill="none"/>
<path d="M558.6 350.7h.01M549.3 322.2h.01M552.8 322h.01M578.5 333.4h.01M589.1 338h.01M583.5 339.2h.01M574.6 321h.01M560.5 366.3h.01M555.3 325.4h.01M580 317.4h.01M585.4 336.6h.01M571.5 355.4h.01M577.5 346.1h.01M565.7 316.4h.01M572.1 356.2h.01M587.9 327.9h.01M583.3 327.5h.01M559.5 356.5h.01M577.7 362.2h.01" stroke="#a6d854" stroke-opacity=".2" stroke-width="2" stroke-linecap="round" fill="none"/>
<path d="M550.1 333.4h.01" stroke="#a6d854" stroke-opacity=".3" stroke-width="2" stroke-linecap="round" fill="none"/>
<path d="M586.6 322.9h.01M568.3 316.5h.01M583.1 350.9h.01M555.7 333.4h.01M576 315.1h.01" stroke="#a6d854" stroke-opacity=".5" stroke-width="2" stroke-linecap="round" fill="none"/>
<path d="M580.9 334.8h.01M548.6 350.7h.01M569.6 313.5h.01M573.5 360.6h.01M581 316.7h.01M562.6 328.2h.01M582.3 354.6h.01M571.7 345.9h.01M579.8 349.8h.01M575.2 349.1h.01" stroke="#a6d854" stroke-opacity=".6" stroke-width="2" stroke-linecap="round" fill="none"/>
<path d="M580.8 356h.01M562.2 354.4h.01M561.8 337.6h.01M586.8 325.9h.01M583.7 341.1h.01M568.1 348.9h.01M557.2 335.5h.01M560.1 352.3h.01M558.8 329.1h.01M552.6 345h.01" stroke="#a6d854" stroke-opacity=".7" stroke-width="2" stroke-linecap="round" fill="none"/>
<path d="M585.6 348h.01M575.4 323.1h.01M588.1 346.1h.01M554.3 338h.01M572.9 317.1h.01M577.5 337.8h.01M586.6 344.7h.01M588 331.5h.01M561.1 347.3h.01" stroke="#a6d854" stroke-opacity=".8" stroke-width="2" stroke-linecap="round" fill="none"/>
<path d="M578.7 348.9h.01M566.9 356.5h.01M572.3 335.3h.01M580.4 339.6h.01M562.6 343.4h.01M578.3 359h.01M573.9 335h.01M582.3 320.1h.01M566 348.9h.01M580.4 333.2h.01M580.4 359.2h.01M586.6 331.1h.01M585.8 344.1h.01M587.9 331.6h.01M579.1 318.5h.01" stroke="#a6d854" stroke-opacity=".9" stroke-width="2" stroke-linecap="round" fill="none"/>
<text x="504.6" y="305.8" font-size="14.5" text-anchor="start" font-weight="bold">vii</text>
<text x="562.6" y="298.1" font-size="8.6" text-anchor="middle">Vestibulo-</text>
<text x="562.6" y="307.6" font-size="8.6" text-anchor="middle">ocular</text>
<rect x="423.5" y="309.6" width="58.5" height="59.89999999999998" fill="none" stroke="#999" stroke-width="1"/>
<path d="M440.1 333.4h.01M444 321.1h.01M441.3 328.6h.01M468.1 325.6h.01M436.1 331.4h.01M456.9 356.5h.01M446.1 350h.01M462.3 335.3h.01M469.1 336h.01M470.4 339.6h.01M436.6 354.4h.01M463.1 330.2h.01M457.1 358.1h.01M462.2 313.2h.01M452.2 354.4h.01M459.2 342.9h.01M465 351.9h.01M442.6 329.1h.01M434.1 331.2h.01M439.1 341.8h.01M432.8 344.7h.01M433.4 341.1h.01M466.3 341.2h.01M465.4 323.1h.01M434.3 329.8h.01M473.5 339.2h.01M453.1 352.8h.01M466.4 327.7h.01M477.9 339.4h.01M438.6 350.7h.01M440.2 338h.01M464.6 341.5h.01M451.5 362h.01M453.3 327.9h.01M463.5 360.6h.01M463.5 312.3h.01M437.6 338.5h.01M455.9 358h.01M450.5 366.3h.01M461.2 358.1h.01M440 344.6h.01M429.3 335h.01M445.3 325.4h.01M448.8 339.4h.01M470 317.4h.01M444.3 338h.01M441.3 337.8h.01M465.2 356h.01M453.7 345.4h.01M436.1 335h.01M462.9 317.1h.01M470.4 359.2h.01M437.6 327.2h.01M432.2 335.3h.01M444.1 357.8h.01M458.5 341.1h.01M458.1 348.9h.01M446.5 351.4h.01M458.8 335.6h.01M435.7 333h.01M478.7 332.7h.01M467.5 337.8h.01M463.3 354.8h.01M440.9 316.2h.01M475.8 344.1h.01M451.3 348.6h.01M434.3 359h.01M473.3 327.5h.01M439.5 330.2h.01M444.8 359.2h.01M445.7 333.4h.01M450.1 352.3h.01M476.4 333.7h.01M454.8 334.6h.01M451.5 354h.01M476.6 344.7h.01M466 315.1h.01M448.8 329.1h.01M467.7 362.2h.01M430.2 343h.01M477.9 331.6h.01M435.3 357.6h.01M469.1 318.5h.01M473.1 348.2h.01M469.4 328.6h.01" stroke="#66c2a5" stroke-opacity=".1" stroke-width="2" stroke-linecap="round" fill="none"/>
<path d="M462.7 348h.01M475.6 348h.01M476.6 322.9h.01M463.7 332.7h.01M454 342.7h.01M478.1 346.1h.01M473.7 341.1h.01M476.6 331.1h.01M462.1 356.2h.01M472.3 354.6h.01M476.4 338.7h.01M471 343.4h.01M468.7 343.8h.01M475.4 334.6h.01M478 331.5h.01" stroke="#66c2a5" stroke-opacity=".2" stroke-width="2" stroke-linecap="round" fill="none"/>
<path d="M471.6 345.2h.01M434.2 357h.01M445.3 323.6h.01M434.3 337h.01M433.2 356.2h.01" stroke="#66c2a5" stroke-opacity=".3" stroke-width="2" stroke-linecap="round" fill="none"/>
<path d="M442.8 322h.01M443 356.2h.01M434.5 335.7h.01M436.6 321.5h.01M440.5 356.7h.01" stroke="#66c2a5" stroke-opacity=".5" stroke-width="2" stroke-linecap="round" fill="none"/>
<path d="M438.9 353.5h.01M479.3 342.7h.01M468.5 353.9h.01M461.2 313.5h.01M467.5 346.1h.01M457.5 318.5h.01M466.4 348.4h.01" stroke="#66c2a5" stroke-opacity=".6" stroke-width="2" stroke-linecap="round" fill="none"/>
<path d="M476 342.5h.01M470.9 334.8h.01M440.5 350.5h.01M461 344.3h.01M464.6 321h.01M468.5 347.2h.01M459.6 313.5h.01M476.8 325.9h.01M470.4 333.2h.01M444.5 348.4h.01M473.9 320.4h.01M472.5 325.6h.01M465.6 321.2h.01M469.8 349.8h.01" stroke="#66c2a5" stroke-opacity=".7" stroke-width="2" stroke-linecap="round" fill="none"/>
<path d="M466.9 321.3h.01M437 360.4h.01M446.3 362h.01M439.4 349.6h.01M455.8 314.6h.01M458.1 313.9h.01M455 355.3h.01M442 349.1h.01" stroke="#66c2a5" stroke-opacity=".8" stroke-width="2" stroke-linecap="round" fill="none"/>
<path d="M473.3 338h.01M458.3 316.5h.01M451.3 359.9h.01M462.9 366.8h.01M435.5 327.5h.01M472.3 336h.01M447 360.4h.01M462.9 345.9h.01" stroke="#66c2a5" stroke-opacity=".9" stroke-width="2" stroke-linecap="round" fill="none"/>
<text x="395.1" y="305.8" font-size="14.5" text-anchor="start" font-weight="bold">viii</text>
<text x="452.6" y="298.1" font-size="8.6" text-anchor="middle">Sleep</text>
<text x="452.6" y="307.6" font-size="8.6" text-anchor="middle">disturbance</text>
<rect x="104.2" y="409.9" width="33.7" height="62.6" fill="#808080"/>
<rect x="146.3" y="461.4" width="33.7" height="11.1" fill="#808080"/>
<rect x="188.6" y="472.2" width="33.7" height="0.3" fill="#808080"/>
<rect x="230.8" y="472.0" width="33.7" height="0.5" fill="#808080"/>
<rect x="272.9" y="472.5" width="33.7" height="0.0" fill="#808080"/>
<rect x="104.2" y="550.5" width="33.7" height="110.3" fill="#7fc97f"/>
<rect x="104.2" y="528.8" width="33.7" height="22.1" fill="#fdc086"/>
<rect x="104.2" y="512.0" width="33.7" height="17.1" fill="#386cb0"/>
<rect x="104.2" y="496.8" width="33.7" height="15.4" fill="#f0027f"/>
<rect x="104.2" y="476.0" width="33.7" height="21.1" fill="#bf5b17"/>
<rect x="146.3" y="613.5" width="33.7" height="47.3" fill="#7fc97f"/>
<rect x="146.3" y="501.8" width="33.7" height="111.9" fill="#fdc086"/>
<rect x="146.3" y="492.2" width="33.7" height="9.9" fill="#386cb0"/>
<rect x="146.3" y="481.0" width="33.7" height="11.6" fill="#f0027f"/>
<rect x="146.3" y="476.0" width="33.7" height="5.3" fill="#bf5b17"/>
<rect x="188.6" y="589.3" width="33.7" height="71.5" fill="#7fc97f"/>
<rect x="188.6" y="558.8" width="33.7" height="30.7" fill="#fdc086"/>
<rect x="188.6" y="476.6" width="33.7" height="82.6" fill="#386cb0"/>
<rect x="188.6" y="476.0" width="33.7" height="0.9" fill="#f0027f"/>
<rect x="230.8" y="623.0" width="33.7" height="37.8" fill="#7fc97f"/>
<rect x="230.8" y="576.0" width="33.7" height="47.3" fill="#fdc086"/>
<rect x="230.8" y="535.6" width="33.7" height="40.7" fill="#386cb0"/>
<rect x="230.8" y="485.0" width="33.7" height="50.9" fill="#f0027f"/>
<rect x="230.8" y="476.0" width="33.7" height="9.3" fill="#bf5b17"/>
<clipPath id="c1"><rect x="272.50" y="476.2" width="34.30" height="184.3"/></clipPath>
<rect x="272.50" y="476.2" width="34.30" height="184.3" fill="#fff"/>
<path clip-path="url(#c1)" d="M272.5 478.4l34.3 -34.3M272.5 481.7l34.3 -34.3M272.5 485.0l34.3 -34.3M272.5 488.3l34.3 -34.3M272.5 491.6l34.3 -34.3M272.5 494.9l34.3 -34.3M272.5 498.2l34.3 -34.3M272.5 501.5l34.3 -34.3M272.5 504.8l34.3 -34.3M272.5 508.1l34.3 -34.3M272.5 511.4l34.3 -34.3M272.5 514.7l34.3 -34.3M272.5 518.0l34.3 -34.3M272.5 521.3l34.3 -34.3M272.5 524.6l34.3 -34.3M272.5 527.9l34.3 -34.3M272.5 531.2l34.3 -34.3M272.5 534.5l34.3 -34.3M272.5 537.8l34.3 -34.3M272.5 541.1l34.3 -34.3M272.5 544.4l34.3 -34.3M272.5 547.7l34.3 -34.3M272.5 551.0l34.3 -34.3M272.5 554.3l34.3 -34.3M272.5 557.6l34.3 -34.3M272.5 560.9l34.3 -34.3M272.5 564.2l34.3 -34.3M272.5 567.5l34.3 -34.3M272.5 570.8l34.3 -34.3M272.5 574.1l34.3 -34.3M272.5 577.4l34.3 -34.3M272.5 580.7l34.3 -34.3M272.5 584.0l34.3 -34.3M272.5 587.3l34.3 -34.3M272.5 590.6l34.3 -34.3M272.5 593.9l34.3 -34.3M272.5 597.2l34.3 -34.3M272.5 600.5l34.3 -34.3M272.5 603.8l34.3 -34.3M272.5 607.1l34.3 -34.3M272.5 610.4l34.3 -34.3M272.5 613.7l34.3 -34.3M272.5 617.0l34.3 -34.3M272.5 620.3l34.3 -34.3M272.5 623.6l34.3 -34.3M272.5 626.9l34.3 -34.3M272.5 630.2l34.3 -34.3M272.5 633.5l34.3 -34.3M272.5 636.8l34.3 -34.3M272.5 640.1l34.3 -34.3M272.5 643.4l34.3 -34.3M272.5 646.7l34.3 -34.3M272.5 650.0l34.3 -34.3M272.5 653.3l34.3 -34.3M272.5 656.6l34.3 -34.3M272.5 659.9l34.3 -34.3M272.5 663.2l34.3 -34.3M272.5 666.5l34.3 -34.3M272.5 669.8l34.3 -34.3M272.5 673.1l34.3 -34.3M272.5 676.4l34.3 -34.3M272.5 679.7l34.3 -34.3M272.5 683.0l34.3 -34.3M272.5 686.3l34.3 -34.3M272.5 689.6l34.3 -34.3M272.5 692.9l34.3 -34.3" stroke="#727272" stroke-width="1" fill="none"/>
<rect x="272.90" y="476.6" width="33.50" height="183.9" fill="none" stroke="#808080" stroke-width=".8"/>
<path d="M93.7 406.5V660.5H316.9V406.5M93.7 472.5H316.9" fill="none" stroke="#999" stroke-width="1"/>
<text x="91.60000000000001" y="664.7" font-size="10.2" text-anchor="end">0</text>
<text x="91.60000000000001" y="627.8" font-size="10.2" text-anchor="end">20</text>
<text x="91.60000000000001" y="590.9" font-size="10.2" text-anchor="end">40</text>
<text x="91.60000000000001" y="554.0" font-size="10.2" text-anchor="end">60</text>
<text x="91.60000000000001" y="517.1" font-size="10.2" text-anchor="end">80</text>
<text x="91.60000000000001" y="480.2" font-size="10.2" text-anchor="end">100</text>
<text x="91.60000000000001" y="417.2" font-size="10.2" text-anchor="end">0.8</text>
<text x="91.60000000000001" y="446.9" font-size="10.2" text-anchor="end">0.4</text>
<text x="319.2" y="423" font-size="10.2" text-anchor="start">200</text>
<text x="319.2" y="449.4" font-size="10.2" text-anchor="start">100</text>
<text transform="translate(68.6 566.6) rotate(-90)" font-size="10.4" text-anchor="middle">Average Percent of Total Weight</text>
<text transform="translate(60.4 439.2) rotate(-90)" font-size="10.4" text-anchor="middle">Fraction of</text>
<text transform="translate(73.0 440.2) rotate(-90)" font-size="10.4" text-anchor="middle">patients</text>
<text transform="translate(348.4 439) rotate(-90)" font-size="10.4" text-anchor="middle">Number of</text>
<text transform="translate(361.2 440.6) rotate(-90)" font-size="10.4" text-anchor="middle">patients</text>
<text x="44.7" y="406.7" font-size="18.7" text-anchor="start" font-weight="bold">C</text>
<g transform="translate(120 663.6) rotate(-45)">
<text x="0" y="7.9" font-size="10.4" text-anchor="end">Deg. of</text>
<text x="0" y="19.7" font-size="10.4" text-anchor="end">conciousness</text>
</g>
<g transform="translate(162.2 663.6) rotate(-45)">
<text x="0" y="7.9" font-size="10.4" text-anchor="end">Intracranial injury</text>
</g>
<g transform="translate(204.4 663.6) rotate(-45)">
<text x="0" y="7.9" font-size="10.4" text-anchor="end">PEMHC</text>
</g>
<g transform="translate(246.6 663.6) rotate(-45)">
<text x="0" y="7.9" font-size="10.4" text-anchor="end">PEMC</text>
</g>
<g transform="translate(288.8 663.6) rotate(-45)">
<text x="0" y="7.9" font-size="10.4" text-anchor="end">Other sociomedical</text>
<text x="0" y="19.7" font-size="10.4" text-anchor="end">factors</text>
</g>
<rect x="433.9" y="409.9" width="20.8" height="62.6" fill="#808080"/>
<rect x="459.9" y="460.8" width="20.8" height="11.7" fill="#808080"/>
<rect x="485.9" y="470.2" width="20.8" height="2.3" fill="#808080"/>
<rect x="511.9" y="471.4" width="20.8" height="1.1" fill="#808080"/>
<rect x="537.9" y="471.9" width="20.8" height="0.6" fill="#808080"/>
<rect x="563.9" y="472.5" width="20.8" height="0.0" fill="#808080"/>
<rect x="589.9" y="472.5" width="20.8" height="0.0" fill="#808080"/>
<rect x="615.9" y="472.5" width="20.8" height="0.0" fill="#808080"/>
<rect x="433.9" y="549.9" width="20.8" height="110.9" fill="#8da0cb"/>
<rect x="433.9" y="535.8" width="20.8" height="14.4" fill="#e78ac3"/>
<rect x="433.9" y="520.8" width="20.8" height="15.3" fill="#e5c494"/>
<rect x="433.9" y="506.6" width="20.8" height="14.5" fill="#b3b3b3"/>
<rect x="433.9" y="498.1" width="20.8" height="8.8" fill="#fc8d62"/>
<rect x="433.9" y="491.9" width="20.8" height="6.5" fill="#ffd92f"/>
<rect x="433.9" y="484.7" width="20.8" height="7.5" fill="#a6d854"/>
<rect x="433.9" y="476.0" width="20.8" height="9.0" fill="#66c2a5"/>
<rect x="459.9" y="609.8" width="20.8" height="51.0" fill="#8da0cb"/>
<rect x="459.9" y="541.1" width="20.8" height="69.0" fill="#e78ac3"/>
<rect x="459.9" y="532.0" width="20.8" height="9.4" fill="#e5c494"/>
<rect x="459.9" y="517.1" width="20.8" height="15.2" fill="#b3b3b3"/>
<rect x="459.9" y="510.9" width="20.8" height="6.5" fill="#fc8d62"/>
<rect x="459.9" y="503.2" width="20.8" height="8.0" fill="#ffd92f"/>
<rect x="459.9" y="487.1" width="20.8" height="16.4" fill="#a6d854"/>
<rect x="459.9" y="476.0" width="20.8" height="11.4" fill="#66c2a5"/>
<rect x="485.9" y="627.8" width="20.8" height="33.0" fill="#8da0cb"/>
<rect x="485.9" y="622.9" width="20.8" height="5.2" fill="#e78ac3"/>
<rect x="485.9" y="563.0" width="20.8" height="60.2" fill="#e5c494"/>
<rect x="485.9" y="525.3" width="20.8" height="38.0" fill="#b3b3b3"/>
<rect x="485.9" y="507.4" width="20.8" height="18.2" fill="#fc8d62"/>
<rect x="485.9" y="497.5" width="20.8" height="10.2" fill="#ffd92f"/>
<rect x="485.9" y="484.7" width="20.8" height="13.1" fill="#a6d854"/>
<rect x="485.9" y="476.0" width="20.8" height="9.0" fill="#66c2a5"/>
<rect x="511.9" y="597.5" width="20.8" height="63.3" fill="#8da0cb"/>
<rect x="511.9" y="589.0" width="20.8" height="8.8" fill="#e78ac3"/>
<rect x="511.9" y="582.6" width="20.8" height="6.7" fill="#e5c494"/>
<rect x="511.9" y="517.3" width="20.8" height="65.6" fill="#b3b3b3"/>
<rect x="511.9" y="499.4" width="20.8" height="18.2" fill="#fc8d62"/>
<rect x="511.9" y="498.3" width="20.8" height="1.4" fill="#ffd92f"/>
<rect x="511.9" y="476.0" width="20.8" height="22.6" fill="#a6d854"/>
<rect x="537.9" y="632.0" width="20.8" height="28.8" fill="#8da0cb"/>
<rect x="537.9" y="587.9" width="20.8" height="44.4" fill="#e78ac3"/>
<rect x="537.9" y="553.7" width="20.8" height="34.5" fill="#e5c494"/>
<rect x="537.9" y="535.0" width="20.8" height="19.0" fill="#b3b3b3"/>
<rect x="537.9" y="481.8" width="20.8" height="53.5" fill="#fc8d62"/>
<rect x="537.9" y="477.2" width="20.8" height="4.9" fill="#ffd92f"/>
<rect x="537.9" y="476.0" width="20.8" height="1.5" fill="#66c2a5"/>
<clipPath id="c2"><rect x="563.45" y="476.2" width="21.40" height="184.3"/></clipPath>
<rect x="563.45" y="476.2" width="21.40" height="184.3" fill="#fff"/>
<path clip-path="url(#c2)" d="M563.4 478.4l21.4 -21.4M563.4 481.7l21.4 -21.4M563.4 485.0l21.4 -21.4M563.4 488.3l21.4 -21.4M563.4 491.6l21.4 -21.4M563.4 494.9l21.4 -21.4M563.4 498.2l21.4 -21.4M563.4 501.5l21.4 -21.4M563.4 504.8l21.4 -21.4M563.4 508.1l21.4 -21.4M563.4 511.4l21.4 -21.4M563.4 514.7l21.4 -21.4M563.4 518.0l21.4 -21.4M563.4 521.3l21.4 -21.4M563.4 524.6l21.4 -21.4M563.4 527.9l21.4 -21.4M563.4 531.2l21.4 -21.4M563.4 534.5l21.4 -21.4M563.4 537.8l21.4 -21.4M563.4 541.1l21.4 -21.4M563.4 544.4l21.4 -21.4M563.4 547.7l21.4 -21.4M563.4 551.0l21.4 -21.4M563.4 554.3l21.4 -21.4M563.4 557.6l21.4 -21.4M563.4 560.9l21.4 -21.4M563.4 564.2l21.4 -21.4M563.4 567.5l21.4 -21.4M563.4 570.8l21.4 -21.4M563.4 574.1l21.4 -21.4M563.4 577.4l21.4 -21.4M563.4 580.7l21.4 -21.4M563.4 584.0l21.4 -21.4M563.4 587.3l21.4 -21.4M563.4 590.6l21.4 -21.4M563.4 593.9l21.4 -21.4M563.4 597.2l21.4 -21.4M563.4 600.5l21.4 -21.4M563.4 603.8l21.4 -21.4M563.4 607.1l21.4 -21.4M563.4 610.4l21.4 -21.4M563.4 613.7l21.4 -21.4M563.4 617.0l21.4 -21.4M563.4 620.3l21.4 -21.4M563.4 623.6l21.4 -21.4M563.4 626.9l21.4 -21.4M563.4 630.2l21.4 -21.4M563.4 633.5l21.4 -21.4M563.4 636.8l21.4 -21.4M563.4 640.1l21.4 -21.4M563.4 643.4l21.4 -21.4M563.4 646.7l21.4 -21.4M563.4 650.0l21.4 -21.4M563.4 653.3l21.4 -21.4M563.4 656.6l21.4 -21.4M563.4 659.9l21.4 -21.4M563.4 663.2l21.4 -21.4M563.4 666.5l21.4 -21.4M563.4 669.8l21.4 -21.4M563.4 673.1l21.4 -21.4M563.4 676.4l21.4 -21.4M563.4 679.7l21.4 -21.4" stroke="#727272" stroke-width="1" fill="none"/>
<rect x="563.85" y="476.6" width="20.60" height="183.9" fill="none" stroke="#808080" stroke-width=".8"/>
<clipPath id="c3"><rect x="589.45" y="476.2" width="21.40" height="184.3"/></clipPath>
<rect x="589.45" y="476.2" width="21.40" height="184.3" fill="#fff"/>
<path clip-path="url(#c3)" d="M589.4 478.4l21.4 -21.4M589.4 481.7l21.4 -21.4M589.4 485.0l21.4 -21.4M589.4 488.3l21.4 -21.4M589.4 491.6l21.4 -21.4M589.4 494.9l21.4 -21.4M589.4 498.2l21.4 -21.4M589.4 501.5l21.4 -21.4M589.4 504.8l21.4 -21.4M589.4 508.1l21.4 -21.4M589.4 511.4l21.4 -21.4M589.4 514.7l21.4 -21.4M589.4 518.0l21.4 -21.4M589.4 521.3l21.4 -21.4M589.4 524.6l21.4 -21.4M589.4 527.9l21.4 -21.4M589.4 531.2l21.4 -21.4M589.4 534.5l21.4 -21.4M589.4 537.8l21.4 -21.4M589.4 541.1l21.4 -21.4M589.4 544.4l21.4 -21.4M589.4 547.7l21.4 -21.4M589.4 551.0l21.4 -21.4M589.4 554.3l21.4 -21.4M589.4 557.6l21.4 -21.4M589.4 560.9l21.4 -21.4M589.4 564.2l21.4 -21.4M589.4 567.5l21.4 -21.4M589.4 570.8l21.4 -21.4M589.4 574.1l21.4 -21.4M589.4 577.4l21.4 -21.4M589.4 580.7l21.4 -21.4M589.4 584.0l21.4 -21.4M589.4 587.3l21.4 -21.4M589.4 590.6l21.4 -21.4M589.4 593.9l21.4 -21.4M589.4 597.2l21.4 -21.4M589.4 600.5l21.4 -21.4M589.4 603.8l21.4 -21.4M589.4 607.1l21.4 -21.4M589.4 610.4l21.4 -21.4M589.4 613.7l21.4 -21.4M589.4 617.0l21.4 -21.4M589.4 620.3l21.4 -21.4M589.4 623.6l21.4 -21.4M589.4 626.9l21.4 -21.4M589.4 630.2l21.4 -21.4M589.4 633.5l21.4 -21.4M589.4 636.8l21.4 -21.4M589.4 640.1l21.4 -21.4M589.4 643.4l21.4 -21.4M589.4 646.7l21.4 -21.4M589.4 650.0l21.4 -21.4M589.4 653.3l21.4 -21.4M589.4 656.6l21.4 -21.4M589.4 659.9l21.4 -21.4M589.4 663.2l21.4 -21.4M589.4 666.5l21.4 -21.4M589.4 669.8l21.4 -21.4M589.4 673.1l21.4 -21.4M589.4 676.4l21.4 -21.4M589.4 679.7l21.4 -21.4" stroke="#727272" stroke-width="1" fill="none"/>
<rect x="589.85" y="476.6" width="20.60" height="183.9" fill="none" stroke="#808080" stroke-width=".8"/>
<clipPath id="c4"><rect x="615.45" y="476.2" width="21.40" height="184.3"/></clipPath>
<rect x="615.45" y="476.2" width="21.40" height="184.3" fill="#fff"/>
<path clip-path="url(#c4)" d="M615.4 478.4l21.4 -21.4M615.4 481.7l21.4 -21.4M615.4 485.0l21.4 -21.4M615.4 488.3l21.4 -21.4M615.4 491.6l21.4 -21.4M615.4 494.9l21.4 -21.4M615.4 498.2l21.4 -21.4M615.4 501.5l21.4 -21.4M615.4 504.8l21.4 -21.4M615.4 508.1l21.4 -21.4M615.4 511.4l21.4 -21.4M615.4 514.7l21.4 -21.4M615.4 518.0l21.4 -21.4M615.4 521.3l21.4 -21.4M615.4 524.6l21.4 -21.4M615.4 527.9l21.4 -21.4M615.4 531.2l21.4 -21.4M615.4 534.5l21.4 -21.4M615.4 537.8l21.4 -21.4M615.4 541.1l21.4 -21.4M615.4 544.4l21.4 -21.4M615.4 547.7l21.4 -21.4M615.4 551.0l21.4 -21.4M615.4 554.3l21.4 -21.4M615.4 557.6l21.4 -21.4M615.4 560.9l21.4 -21.4M615.4 564.2l21.4 -21.4M615.4 567.5l21.4 -21.4M615.4 570.8l21.4 -21.4M615.4 574.1l21.4 -21.4M615.4 577.4l21.4 -21.4M615.4 580.7l21.4 -21.4M615.4 584.0l21.4 -21.4M615.4 587.3l21.4 -21.4M615.4 590.6l21.4 -21.4M615.4 593.9l21.4 -21.4M615.4 597.2l21.4 -21.4M615.4 600.5l21.4 -21.4M615.4 603.8l21.4 -21.4M615.4 607.1l21.4 -21.4M615.4 610.4l21.4 -21.4M615.4 613.7l21.4 -21.4M615.4 617.0l21.4 -21.4M615.4 620.3l21.4 -21.4M615.4 623.6l21.4 -21.4M615.4 626.9l21.4 -21.4M615.4 630.2l21.4 -21.4M615.4 633.5l21.4 -21.4M615.4 636.8l21.4 -21.4M615.4 640.1l21.4 -21.4M615.4 643.4l21.4 -21.4M615.4 646.7l21.4 -21.4M615.4 650.0l21.4 -21.4M615.4 653.3l21.4 -21.4M615.4 656.6l21.4 -21.4M615.4 659.9l21.4 -21.4M615.4 663.2l21.4 -21.4M615.4 666.5l21.4 -21.4M615.4 669.8l21.4 -21.4M615.4 673.1l21.4 -21.4M615.4 676.4l21.4 -21.4M615.4 679.7l21.4 -21.4" stroke="#727272" stroke-width="1" fill="none"/>
<rect x="615.85" y="476.6" width="20.60" height="183.9" fill="none" stroke="#808080" stroke-width=".8"/>
<path d="M423.8 406.5V660.5H646.8V406.5M423.8 472.5H646.8" fill="none" stroke="#999" stroke-width="1"/>
<text x="421.7" y="664.7" font-size="10.2" text-anchor="end">0</text>
<text x="421.7" y="627.8" font-size="10.2" text-anchor="end">20</text>
<text x="421.7" y="590.9" font-size="10.2" text-anchor="end">40</text>
<text x="421.7" y="554.0" font-size="10.2" text-anchor="end">60</text>
<text x="421.7" y="517.1" font-size="10.2" text-anchor="end">80</text>
<text x="421.7" y="480.2" font-size="10.2" text-anchor="end">100</text>
<text x="421.7" y="414.5" font-size="10.2" text-anchor="end">0.8</text>
<text x="421.7" y="445.2" font-size="10.2" text-anchor="end">0.4</text>
<text x="649.0999999999999" y="423" font-size="10.2" text-anchor="start">200</text>
<text x="649.0999999999999" y="449.4" font-size="10.2" text-anchor="start">100</text>
<text transform="translate(398.6 566.6) rotate(-90)" font-size="10.4" text-anchor="middle">Average Percent of Total Weight</text>
<text transform="translate(390.9 439.2) rotate(-90)" font-size="10.4" text-anchor="middle">Fraction of</text>
<text transform="translate(403.5 440.2) rotate(-90)" font-size="10.4" text-anchor="middle">patients</text>
<text transform="translate(678.3 439) rotate(-90)" font-size="10.4" text-anchor="middle">Number of</text>
<text transform="translate(691.0999999999999 440.6) rotate(-90)" font-size="10.4" text-anchor="middle">patients</text>
<text x="374.7" y="406.7" font-size="18.7" text-anchor="start" font-weight="bold">D</text>
<g transform="translate(443.3 663.6) rotate(-45)">
<text x="0" y="7.9" font-size="10.4" text-anchor="end">Func. rec.</text>
</g>
<g transform="translate(469.3 663.6) rotate(-45)">
<text x="0" y="7.9" font-size="10.4" text-anchor="end">Post-TBI stress</text>
</g>
<g transform="translate(495.3 663.6) rotate(-45)">
<text x="0" y="7.9" font-size="10.4" text-anchor="end">Cognitive impairment</text>
</g>
<g transform="translate(521.3 663.6) rotate(-45)">
<text x="0" y="7.9" font-size="10.4" text-anchor="end">3-month NBI</text>
</g>
<g transform="translate(547.3 663.6) rotate(-45)">
<text x="0" y="7.9" font-size="10.4" text-anchor="end">Emotional distress</text>
</g>
<g transform="translate(573.3 663.6) rotate(-45)">
<text x="0" y="7.9" font-size="10.4" text-anchor="end">Conc. and</text>
<text x="2" y="15.5" font-size="10.4" text-anchor="end">ep. memory</text>
</g>
<g transform="translate(599.3 663.6) rotate(-45)">
<text x="0" y="7.9" font-size="10.4" text-anchor="end">Vestibulo-ocular</text>
</g>
<g transform="translate(625.3 663.6) rotate(-45)">
<text x="0" y="7.9" font-size="10.4" text-anchor="end">Sleep disturbance</text>
</g>
</svg></body></html>
